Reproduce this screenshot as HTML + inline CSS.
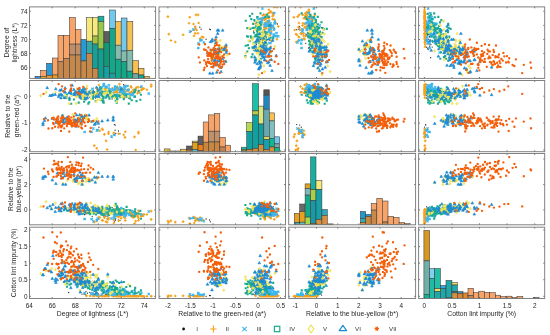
<!DOCTYPE html><html><head><meta charset="utf-8"><style>html,body{margin:0;padding:0;background:#fff;overflow:hidden}svg{display:block}</style></head><body>
<svg width="550" height="335" viewBox="0 0 550 335">
<rect width="550" height="335" fill="#fff"/>
<defs>
<clipPath id="c00"><rect x="29.5" y="6.9" width="126.1" height="71.5"/></clipPath>
<clipPath id="c01"><rect x="159" y="6.9" width="126.5" height="71.5"/></clipPath>
<clipPath id="c02"><rect x="288.7" y="6.9" width="126.9" height="71.5"/></clipPath>
<clipPath id="c03"><rect x="418.6" y="6.9" width="126.1" height="71.5"/></clipPath>
<clipPath id="c10"><rect x="29.5" y="80.5" width="126.1" height="71.2"/></clipPath>
<clipPath id="c11"><rect x="159" y="80.5" width="126.5" height="71.2"/></clipPath>
<clipPath id="c12"><rect x="288.7" y="80.5" width="126.9" height="71.2"/></clipPath>
<clipPath id="c13"><rect x="418.6" y="80.5" width="126.1" height="71.2"/></clipPath>
<clipPath id="c20"><rect x="29.5" y="153.5" width="126.1" height="71.3"/></clipPath>
<clipPath id="c21"><rect x="159" y="153.5" width="126.5" height="71.3"/></clipPath>
<clipPath id="c22"><rect x="288.7" y="153.5" width="126.9" height="71.3"/></clipPath>
<clipPath id="c23"><rect x="418.6" y="153.5" width="126.1" height="71.3"/></clipPath>
<clipPath id="c30"><rect x="29.5" y="227.2" width="126.1" height="71.3"/></clipPath>
<clipPath id="c31"><rect x="159" y="227.2" width="126.5" height="71.3"/></clipPath>
<clipPath id="c32"><rect x="288.7" y="227.2" width="126.9" height="71.3"/></clipPath>
<clipPath id="c33"><rect x="418.6" y="227.2" width="126.1" height="71.3"/></clipPath>
</defs>
<g clip-path="url(#c01)">
<path d="M270.8 34.8h0M260.6 39.5h0M253.5 31.1h0M262.7 34.2h0M262.4 34h0M255.3 41.3h0M259.1 47.2h0M263.7 48.2h0M265.6 42h0M269.1 29.4h0M264.8 28.8h0M258.9 43.3h0M259.5 37h0M265.6 26.4h0M266.7 34.2h0M267.7 39.3h0M258.7 34.2h0M260.6 36.3h0M266.9 47.1h0M268.2 49.5h0M270.3 48h0M254.8 21.1h0M271.7 27.3h0M267.3 43.9h0M265.1 42.4h0M265.6 42.8h0M256.5 44.7h0M255.7 41.4h0M263.8 14.1h0M277.4 24h0M259 31.1h0M269.4 40.1h0M265.2 34.1h0M260.3 33.6h0M267.9 26.4h0M259.5 37.8h0M263 40.2h0M263.1 57.7h0M260 42.1h0M273.4 27.7h0M265.9 36.9h0M264.4 35.1h0M264.2 46.2h0M265.1 31.4h0M262.6 42.8h0M201.1 29.2h0M206.1 39.2h0M195 26.3h0M209.6 29.1h0M210.4 29.7h0M191 31.5h0M195.8 28.9h0M199.8 27.2h0" stroke="#262626" stroke-width="1.3" stroke-linecap="round" fill="none"/>
<path d="M269.6 28.1h2.6M270.9 26.8v2.6M263 27.6h2.6M264.3 26.3v2.6M263.8 17.6h2.6M265.1 16.3v2.6M266.9 13.3h2.6M268.2 12v2.6M275.6 39.1h2.6M276.9 37.8v2.6M259.5 24.3h2.6M260.8 23v2.6M268 21h2.6M269.3 19.7v2.6M266 16.8h2.6M267.3 15.5v2.6M264.2 19.3h2.6M265.5 18v2.6M271.4 13.4h2.6M272.7 12.1v2.6M266.1 16.8h2.6M267.4 15.5v2.6M261.6 15.4h2.6M262.9 14.1v2.6M262 44.5h2.6M263.3 43.2v2.6M272.1 15.1h2.6M273.4 13.8v2.6M268.9 24.2h2.6M270.2 22.9v2.6M262.4 18.3h2.6M263.7 17v2.6M264.9 34h2.6M266.2 32.7v2.6M270.1 30.9h2.6M271.4 29.6v2.6M264.7 25h2.6M266 23.7v2.6M263.6 23.4h2.6M264.9 22.1v2.6M263.9 15.1h2.6M265.2 13.8v2.6M266.6 25.7h2.6M267.9 24.4v2.6M260.9 19.1h2.6M262.2 17.8v2.6M263.3 42.7h2.6M264.6 41.4v2.6M266.9 21.7h2.6M268.2 20.4v2.6M267.4 16.9h2.6M268.7 15.6v2.6M263.2 34.3h2.6M264.5 33v2.6M268.4 27.7h2.6M269.7 26.4v2.6M268 35.9h2.6M269.3 34.6v2.6M258.8 26.5h2.6M260.1 25.2v2.6M261 40h2.6M262.3 38.7v2.6M268.4 35.5h2.6M269.7 34.2v2.6M261 38.8h2.6M262.3 37.5v2.6M263.2 24.4h2.6M264.5 23.1v2.6M262.2 30.1h2.6M263.5 28.8v2.6M267.3 18.1h2.6M268.6 16.8v2.6M273 7.1h2.6M274.3 5.8v2.6M269.8 40.5h2.6M271.1 39.2v2.6M271.1 16.2h2.6M272.4 14.9v2.6M273.1 19.6h2.6M274.4 18.3v2.6M267.6 9.8h2.6M268.9 8.5v2.6M263.5 33.5h2.6M264.8 32.2v2.6M265.6 21.5h2.6M266.9 20.2v2.6M254.4 23.5h2.6M255.7 22.2v2.6M275.8 7.1h2.6M277.1 5.8v2.6M269.5 46.7h2.6M270.8 45.4v2.6M267.8 27.2h2.6M269.1 25.9v2.6M268.4 27.1h2.6M269.7 25.8v2.6M266.6 23.8h2.6M267.9 22.5v2.6M263.8 28.1h2.6M265.1 26.8v2.6M268.6 12.3h2.6M269.9 11v2.6M268 17h2.6M269.3 15.7v2.6M266.2 17.7h2.6M267.5 16.4v2.6M264 18.1h2.6M265.3 16.8v2.6M274.4 23.1h2.6M275.7 21.8v2.6M263 20h2.6M264.3 18.7v2.6M266.5 34.3h2.6M267.8 33v2.6M264.1 29.1h2.6M265.4 27.8v2.6M269.7 11.6h2.6M271 10.3v2.6M271.4 19.3h2.6M272.7 18v2.6M259.7 18.6h2.6M261 17.3v2.6M267.3 26.5h2.6M268.6 25.2v2.6M277 26.5h2.6M278.3 25.2v2.6M264.2 22.8h2.6M265.5 21.5v2.6M269.1 12h2.6M270.4 10.7v2.6M265 28.4h2.6M266.3 27.1v2.6M267.4 34.1h2.6M268.7 32.8v2.6M263 26.1h2.6M264.3 24.8v2.6M272 27.9h2.6M273.3 26.6v2.6M269.5 25.5h2.6M270.8 24.2v2.6M192.7 35.8h2.6M194 34.5v2.6M192.2 24h2.6M193.5 22.7v2.6M200.7 36.8h2.6M202 35.5v2.6M197.3 23h2.6M198.6 21.7v2.6M202.1 37.2h2.6M203.4 35.9v2.6M181.8 34.8h2.6M183.1 33.5v2.6M192.9 30h2.6M194.2 28.7v2.6M194 27.1h2.6M195.3 25.8v2.6M195.4 30h2.6M196.7 28.7v2.6M196.8 14.9h2.6M198.1 13.6v2.6M188.5 17.3h2.6M189.8 16v2.6M187.7 23.2h2.6M189 21.9v2.6M193.9 33.3h2.6M195.2 32v2.6M198.9 38.6h2.6M200.2 37.3v2.6M196.7 33.2h2.6M198 31.9v2.6M194.7 14.9h2.6M196 13.6v2.6M167.5 34.1h2.6M168.8 32.8v2.6M174 42h2.6M175.3 40.7v2.6M169.6 40.5h2.6M170.9 39.2v2.6M166.6 16.6h2.6M167.9 15.3v2.6" stroke="#F7A11A" stroke-width="1.15" fill="none"/>
<path d="M277.2 35.1l2.2 2.2m0-2.2l-2.2 2.2M251.2 36.8l2.2 2.2m0-2.2l-2.2 2.2M270 24.2l2.2 2.2m0-2.2l-2.2 2.2M273.9 20.5l2.2 2.2m0-2.2l-2.2 2.2M256.9 27.2l2.2 2.2m0-2.2l-2.2 2.2M271.8 25l2.2 2.2m0-2.2l-2.2 2.2M260.3 21.9l2.2 2.2m0-2.2l-2.2 2.2M261.6 17l2.2 2.2m0-2.2l-2.2 2.2M273 27.4l2.2 2.2m0-2.2l-2.2 2.2M272.8 34l2.2 2.2m0-2.2l-2.2 2.2M259.9 21.3l2.2 2.2m0-2.2l-2.2 2.2M267.7 28.5l2.2 2.2m0-2.2l-2.2 2.2M267 20.4l2.2 2.2m0-2.2l-2.2 2.2M268.7 32l2.2 2.2m0-2.2l-2.2 2.2M274.3 34.8l2.2 2.2m0-2.2l-2.2 2.2M269.5 41.9l2.2 2.2m0-2.2l-2.2 2.2M256.9 19.2l2.2 2.2m0-2.2l-2.2 2.2M272.6 33.4l2.2 2.2m0-2.2l-2.2 2.2M260.4 19.4l2.2 2.2m0-2.2l-2.2 2.2M268 29.3l2.2 2.2m0-2.2l-2.2 2.2M262.7 29.5l2.2 2.2m0-2.2l-2.2 2.2M271.9 36.2l2.2 2.2m0-2.2l-2.2 2.2M264.7 25l2.2 2.2m0-2.2l-2.2 2.2M273.7 21.8l2.2 2.2m0-2.2l-2.2 2.2M269.5 28l2.2 2.2m0-2.2l-2.2 2.2M256.6 24.2l2.2 2.2m0-2.2l-2.2 2.2M258.1 28.8l2.2 2.2m0-2.2l-2.2 2.2M260 37l2.2 2.2m0-2.2l-2.2 2.2M273.4 22.5l2.2 2.2m0-2.2l-2.2 2.2M260.2 23.1l2.2 2.2m0-2.2l-2.2 2.2M269.4 22.2l2.2 2.2m0-2.2l-2.2 2.2M261.3 7.5l2.2 2.2m0-2.2l-2.2 2.2M256.2 16.4l2.2 2.2m0-2.2l-2.2 2.2M268.3 42l2.2 2.2m0-2.2l-2.2 2.2M266.6 24.7l2.2 2.2m0-2.2l-2.2 2.2M258.7 17.8l2.2 2.2m0-2.2l-2.2 2.2M275.4 32l2.2 2.2m0-2.2l-2.2 2.2M266.3 23l2.2 2.2m0-2.2l-2.2 2.2M267.9 32.2l2.2 2.2m0-2.2l-2.2 2.2M257.8 26.8l2.2 2.2m0-2.2l-2.2 2.2M266.8 32.5l2.2 2.2m0-2.2l-2.2 2.2M275.5 35.2l2.2 2.2m0-2.2l-2.2 2.2M273 28.3l2.2 2.2m0-2.2l-2.2 2.2M269.1 26.2l2.2 2.2m0-2.2l-2.2 2.2M263.8 25l2.2 2.2m0-2.2l-2.2 2.2M265.8 43.1l2.2 2.2m0-2.2l-2.2 2.2M267.8 19.9l2.2 2.2m0-2.2l-2.2 2.2M259 51.4l2.2 2.2m0-2.2l-2.2 2.2M273.1 12l2.2 2.2m0-2.2l-2.2 2.2M271.9 36.2l2.2 2.2m0-2.2l-2.2 2.2M257 27l2.2 2.2m0-2.2l-2.2 2.2M259.5 26.8l2.2 2.2m0-2.2l-2.2 2.2M259 21.8l2.2 2.2m0-2.2l-2.2 2.2M260.7 20.5l2.2 2.2m0-2.2l-2.2 2.2M263.7 22.7l2.2 2.2m0-2.2l-2.2 2.2M264.2 22.6l2.2 2.2m0-2.2l-2.2 2.2M264.9 16l2.2 2.2m0-2.2l-2.2 2.2M264.1 33.8l2.2 2.2m0-2.2l-2.2 2.2M268 30.5l2.2 2.2m0-2.2l-2.2 2.2M263.8 33.5l2.2 2.2m0-2.2l-2.2 2.2M264.9 24.4l2.2 2.2m0-2.2l-2.2 2.2M269.9 32.1l2.2 2.2m0-2.2l-2.2 2.2M199.3 39.3l2.2 2.2m0-2.2l-2.2 2.2M188.9 30.3l2.2 2.2m0-2.2l-2.2 2.2M200.4 38.8l2.2 2.2m0-2.2l-2.2 2.2M192.1 28.5l2.2 2.2m0-2.2l-2.2 2.2M197.2 42.5l2.2 2.2m0-2.2l-2.2 2.2M197.2 46.8l2.2 2.2m0-2.2l-2.2 2.2M202.8 41.5l2.2 2.2m0-2.2l-2.2 2.2" stroke="#3DB6EE" stroke-width="1.15" fill="none"/>
<path d="M257.3 28.9h0M264.9 36.2h0M254.8 28h0M249.7 41.2h0M258.5 37.1h0M266.4 39.9h0M269.1 25.6h0M257.2 31.1h0M263.1 44.5h0M253.8 42.8h0M252.5 47.4h0M259.4 32.5h0M247.3 28.2h0M265.9 40.2h0M248.9 48.2h0M266 37.5h0M258.1 26.2h0M247.1 36.2h0M259.9 33.1h0M253.2 23.9h0M251.3 19.1h0M256.2 26h0M249.9 16.1h0M268.7 16.9h0M245.7 20.8h0M253.9 49.9h0M259.6 34.3h0M265 17.3h0M270.7 37.8h0M261 24.7h0M259.2 27h0M263.7 37.6h0M273.2 38.4h0M258.4 26.8h0M259.9 22.4h0M264.6 33.2h0M247.9 36.6h0M264.4 44.5h0M266.7 32.4h0M257.8 30.2h0M257.6 29.3h0M254.3 20.1h0M260.8 37.2h0M258.2 49h0M252.5 54.4h0M259.9 24.2h0M255.7 60.6h0M250.3 28.9h0M260.3 29.1h0M259 42.4h0M260.1 28.9h0M252.2 13.8h0M253.3 27.8h0M251.6 57.1h0M245.7 45.7h0M253.4 47h0M252.7 28h0M263.3 43.4h0M262.6 32.2h0M250.7 36.4h0M258.4 51.4h0M263.4 31.2h0M257.2 34.5h0M265.6 45.5h0M258 40.9h0M270.7 52.3h0M257.4 17.1h0M255.7 35h0M247.3 51.5h0M260.5 13.4h0M256.2 42.8h0M251.1 37.7h0M257.7 32.9h0M252.2 37.9h0M257.1 31.1h0M245.4 56.1h0M247.9 45.1h0M256.2 58.7h0M257.3 22.2h0M259.7 45.9h0M254.9 36.5h0M267 14.8h0M256.7 48.2h0M259.2 47.5h0M256.9 36.4h0M254 32.7h0M260.9 58.7h0M257.5 36.5h0M247.6 28.1h0M261.9 42h0M265.5 49.1h0M259.4 39.7h0" stroke="#19AA8D" stroke-width="2.1" stroke-linecap="square" fill="none"/>
<path d="M268.9 35l1.1 1.4l-1.1 1.4l-1.1-1.4zM263.5 42.8l1.1 1.4l-1.1 1.4l-1.1-1.4zM258.4 38.8l1.1 1.4l-1.1 1.4l-1.1-1.4zM260.4 50.4l1.1 1.4l-1.1 1.4l-1.1-1.4zM270.2 50.9l1.1 1.4l-1.1 1.4l-1.1-1.4zM254.3 47.8l1.1 1.4l-1.1 1.4l-1.1-1.4zM259.2 46.2l1.1 1.4l-1.1 1.4l-1.1-1.4zM257.8 50.2l1.1 1.4l-1.1 1.4l-1.1-1.4zM259.3 50.6l1.1 1.4l-1.1 1.4l-1.1-1.4zM256.7 51.6l1.1 1.4l-1.1 1.4l-1.1-1.4zM259.5 44.5l1.1 1.4l-1.1 1.4l-1.1-1.4zM262.7 32.8l1.1 1.4l-1.1 1.4l-1.1-1.4zM261.8 44.5l1.1 1.4l-1.1 1.4l-1.1-1.4zM258.9 73.4l1.1 1.4l-1.1 1.4l-1.1-1.4zM274.9 45l1.1 1.4l-1.1 1.4l-1.1-1.4zM252.2 38.4l1.1 1.4l-1.1 1.4l-1.1-1.4zM263.8 42.6l1.1 1.4l-1.1 1.4l-1.1-1.4zM258.8 39.9l1.1 1.4l-1.1 1.4l-1.1-1.4zM249.1 26.8l1.1 1.4l-1.1 1.4l-1.1-1.4zM263.3 44.6l1.1 1.4l-1.1 1.4l-1.1-1.4zM269.5 46.9l1.1 1.4l-1.1 1.4l-1.1-1.4zM257.6 47.6l1.1 1.4l-1.1 1.4l-1.1-1.4zM264.6 39.6l1.1 1.4l-1.1 1.4l-1.1-1.4zM248.9 39.4l1.1 1.4l-1.1 1.4l-1.1-1.4zM255.2 28.2l1.1 1.4l-1.1 1.4l-1.1-1.4zM263.5 32.3l1.1 1.4l-1.1 1.4l-1.1-1.4zM268.5 32.7l1.1 1.4l-1.1 1.4l-1.1-1.4zM245.4 55.9l1.1 1.4l-1.1 1.4l-1.1-1.4zM261 34.7l1.1 1.4l-1.1 1.4l-1.1-1.4zM262.6 48.5l1.1 1.4l-1.1 1.4l-1.1-1.4zM259.4 50.2l1.1 1.4l-1.1 1.4l-1.1-1.4zM253.5 42.6l1.1 1.4l-1.1 1.4l-1.1-1.4zM257.8 19.7l1.1 1.4l-1.1 1.4l-1.1-1.4zM245.9 51.7l1.1 1.4l-1.1 1.4l-1.1-1.4zM260.3 52.7l1.1 1.4l-1.1 1.4l-1.1-1.4zM263.1 34.5l1.1 1.4l-1.1 1.4l-1.1-1.4zM257.6 39.6l1.1 1.4l-1.1 1.4l-1.1-1.4zM252.7 36.8l1.1 1.4l-1.1 1.4l-1.1-1.4zM253.8 47.3l1.1 1.4l-1.1 1.4l-1.1-1.4zM264.6 70.1l1.1 1.4l-1.1 1.4l-1.1-1.4zM260.7 51.7l1.1 1.4l-1.1 1.4l-1.1-1.4zM253.8 45.4l1.1 1.4l-1.1 1.4l-1.1-1.4zM258.1 51.6l1.1 1.4l-1.1 1.4l-1.1-1.4zM264.9 37l1.1 1.4l-1.1 1.4l-1.1-1.4zM263.9 64.5l1.1 1.4l-1.1 1.4l-1.1-1.4zM260 51.2l1.1 1.4l-1.1 1.4l-1.1-1.4zM264.4 42.9l1.1 1.4l-1.1 1.4l-1.1-1.4zM259.4 44.9l1.1 1.4l-1.1 1.4l-1.1-1.4zM255.4 57.1l1.1 1.4l-1.1 1.4l-1.1-1.4zM262.7 50.1l1.1 1.4l-1.1 1.4l-1.1-1.4zM260.4 42.1l1.1 1.4l-1.1 1.4l-1.1-1.4zM259.6 66.7l1.1 1.4l-1.1 1.4l-1.1-1.4zM258.9 54.5l1.1 1.4l-1.1 1.4l-1.1-1.4zM259.3 48l1.1 1.4l-1.1 1.4l-1.1-1.4zM266.7 41.8l1.1 1.4l-1.1 1.4l-1.1-1.4zM257.2 23.9l1.1 1.4l-1.1 1.4l-1.1-1.4zM259.6 58.3l1.1 1.4l-1.1 1.4l-1.1-1.4zM261.8 62l1.1 1.4l-1.1 1.4l-1.1-1.4zM258.6 23.3l1.1 1.4l-1.1 1.4l-1.1-1.4zM261.3 40.2l1.1 1.4l-1.1 1.4l-1.1-1.4zM259.3 30.6l1.1 1.4l-1.1 1.4l-1.1-1.4zM261.1 47.2l1.1 1.4l-1.1 1.4l-1.1-1.4zM262.9 29.6l1.1 1.4l-1.1 1.4l-1.1-1.4zM263.8 33.2l1.1 1.4l-1.1 1.4l-1.1-1.4zM259.4 30.9l1.1 1.4l-1.1 1.4l-1.1-1.4zM215.1 42.4l1.1 1.4l-1.1 1.4l-1.1-1.4zM220.2 44.7l1.1 1.4l-1.1 1.4l-1.1-1.4zM225.9 59.7l1.1 1.4l-1.1 1.4l-1.1-1.4zM219.1 45.7l1.1 1.4l-1.1 1.4l-1.1-1.4zM219.6 44.1l1.1 1.4l-1.1 1.4l-1.1-1.4zM222.9 45.8l1.1 1.4l-1.1 1.4l-1.1-1.4zM220.8 49.5l1.1 1.4l-1.1 1.4l-1.1-1.4zM219.9 53.4l1.1 1.4l-1.1 1.4l-1.1-1.4zM220.5 39l1.1 1.4l-1.1 1.4l-1.1-1.4zM216.4 53.2l1.1 1.4l-1.1 1.4l-1.1-1.4zM217.7 40.4l1.1 1.4l-1.1 1.4l-1.1-1.4zM226.5 46.1l1.1 1.4l-1.1 1.4l-1.1-1.4zM225 44.8l1.1 1.4l-1.1 1.4l-1.1-1.4zM220.9 47.5l1.1 1.4l-1.1 1.4l-1.1-1.4zM227.4 53.7l1.1 1.4l-1.1 1.4l-1.1-1.4zM219.4 47.7l1.1 1.4l-1.1 1.4l-1.1-1.4zM211.3 49.4l1.1 1.4l-1.1 1.4l-1.1-1.4zM220.6 50.3l1.1 1.4l-1.1 1.4l-1.1-1.4zM223.8 49.4l1.1 1.4l-1.1 1.4l-1.1-1.4zM211.6 57.1l1.1 1.4l-1.1 1.4l-1.1-1.4z" stroke="#F0E250" stroke-width="0.7" fill="#F4E66A"/>
<path d="M255.3 44.6l1.35 2.4h-2.7zM254.7 55.6l1.35 2.4h-2.7zM270.2 23.7l1.35 2.4h-2.7zM270.5 46.3l1.35 2.4h-2.7zM265 48.5l1.35 2.4h-2.7zM272 69.2l1.35 2.4h-2.7zM254.4 45.5l1.35 2.4h-2.7zM272.7 39l1.35 2.4h-2.7zM263.8 36.9l1.35 2.4h-2.7zM268.7 60.5l1.35 2.4h-2.7zM270.3 49.4l1.35 2.4h-2.7zM270.1 64l1.35 2.4h-2.7zM254.9 60.8l1.35 2.4h-2.7zM259.1 66.6l1.35 2.4h-2.7zM262.7 52.6l1.35 2.4h-2.7zM257.8 49.1l1.35 2.4h-2.7zM260.9 49.2l1.35 2.4h-2.7zM269.1 47.4l1.35 2.4h-2.7zM260.9 44.5l1.35 2.4h-2.7zM269 54.8l1.35 2.4h-2.7zM260.6 64.3l1.35 2.4h-2.7zM271.4 58.3l1.35 2.4h-2.7zM261.1 50.3l1.35 2.4h-2.7zM276.2 54l1.35 2.4h-2.7zM257.8 38l1.35 2.4h-2.7zM266.6 49.8l1.35 2.4h-2.7zM267.7 61.4l1.35 2.4h-2.7zM264.6 58.3l1.35 2.4h-2.7zM263.5 45.8l1.35 2.4h-2.7zM264.8 41.1l1.35 2.4h-2.7zM257.2 62.3l1.35 2.4h-2.7zM266 46.5l1.35 2.4h-2.7zM269 37.5l1.35 2.4h-2.7zM259.6 32.3l1.35 2.4h-2.7zM259.3 60l1.35 2.4h-2.7zM257.3 37.5l1.35 2.4h-2.7zM265.4 50l1.35 2.4h-2.7zM267.1 48l1.35 2.4h-2.7zM253.5 46.1l1.35 2.4h-2.7zM264.7 58.5l1.35 2.4h-2.7zM260.8 52.4l1.35 2.4h-2.7zM265.1 55.2l1.35 2.4h-2.7zM264.3 52.2l1.35 2.4h-2.7zM263.8 43.3l1.35 2.4h-2.7zM263.5 55.8l1.35 2.4h-2.7zM262.7 45.5l1.35 2.4h-2.7zM260.2 65.8l1.35 2.4h-2.7zM268.9 52.8l1.35 2.4h-2.7zM258.8 67.6l1.35 2.4h-2.7zM262.4 54.5l1.35 2.4h-2.7zM255.7 48.9l1.35 2.4h-2.7zM259.8 61.9l1.35 2.4h-2.7zM262.9 50.6l1.35 2.4h-2.7zM265.3 51.6l1.35 2.4h-2.7zM264.2 48.4l1.35 2.4h-2.7zM265.6 41l1.35 2.4h-2.7zM264.7 47.7l1.35 2.4h-2.7zM258.4 39.2l1.35 2.4h-2.7zM255.2 58.2l1.35 2.4h-2.7zM260.6 52.7l1.35 2.4h-2.7zM261.1 60.7l1.35 2.4h-2.7zM256.7 39.5l1.35 2.4h-2.7zM214.8 57.9l1.35 2.4h-2.7zM217 50.8l1.35 2.4h-2.7zM218.6 28.8l1.35 2.4h-2.7zM215.7 41.7l1.35 2.4h-2.7zM220.2 58.5l1.35 2.4h-2.7zM219.4 59.6l1.35 2.4h-2.7zM219.2 47.4l1.35 2.4h-2.7zM215 38.9l1.35 2.4h-2.7zM226.1 43.5l1.35 2.4h-2.7zM219.4 49.1l1.35 2.4h-2.7zM213.8 63.9l1.35 2.4h-2.7zM212 39.7l1.35 2.4h-2.7zM213.3 52.8l1.35 2.4h-2.7zM215.5 60.3l1.35 2.4h-2.7zM217.3 63l1.35 2.4h-2.7zM217.7 51.9l1.35 2.4h-2.7zM218.7 50.7l1.35 2.4h-2.7zM220.6 66.1l1.35 2.4h-2.7zM212.7 55.2l1.35 2.4h-2.7zM216.1 51.4l1.35 2.4h-2.7zM212.7 71.8l1.35 2.4h-2.7zM212.3 37.9l1.35 2.4h-2.7zM214.7 51.9l1.35 2.4h-2.7zM217.3 59.4l1.35 2.4h-2.7zM216.8 70.8l1.35 2.4h-2.7zM217.7 32.1l1.35 2.4h-2.7zM216.1 35.6l1.35 2.4h-2.7zM209.9 71.8l1.35 2.4h-2.7zM207.5 51.5l1.35 2.4h-2.7zM224.2 47.9l1.35 2.4h-2.7zM226.5 49.3l1.35 2.4h-2.7zM223.7 48l1.35 2.4h-2.7zM221.1 70.2l1.35 2.4h-2.7zM217.8 52.4l1.35 2.4h-2.7zM214.2 59.3l1.35 2.4h-2.7zM212.3 48.5l1.35 2.4h-2.7zM217.5 28.8l1.35 2.4h-2.7zM224.8 46.3l1.35 2.4h-2.7zM222.7 28.8l1.35 2.4h-2.7zM226.3 51.2l1.35 2.4h-2.7zM225.8 60l1.35 2.4h-2.7zM215 48.5l1.35 2.4h-2.7zM222.5 57.1l1.35 2.4h-2.7zM210.5 40.3l1.35 2.4h-2.7zM218.1 47.5l1.35 2.4h-2.7z" stroke="#1E8CD2" stroke-width="0.6" fill="#1E8CD2" stroke-linejoin="round"/>
<path d="M261.6 50.6h0M272 51.1h0M273.8 48.8h0M262.1 73.1h0M266.4 61h0M262.7 51.4h0M270.1 59.9h0M274.7 61.7h0M269 56.3h0M276.3 56.4h0M269.9 52h0M264.6 52.4h0M267.3 56.2h0M271.2 56.1h0M267.6 56.5h0M278.3 63.9h0M219.6 65.3h0M206.1 64h0M220.8 62.5h0M211.4 66.9h0M203.9 70h0M222.5 64.6h0M211.2 56.8h0M216.7 51.8h0M213.4 55.1h0M221.1 59.3h0M221.1 61.2h0M221.2 52h0M218.7 51.2h0M204.5 67.7h0M204 49.5h0M215.6 64.8h0M208.5 55.1h0M217.2 56.9h0M215.4 62.4h0M205.7 49.9h0M208 62.1h0M207.4 55.7h0M208.9 61.8h0M213.1 56.2h0M218.5 56.7h0M222.5 56.1h0M208.4 47.4h0M210.9 55.7h0M223.9 61.1h0M219.8 72.8h0M215.8 57.1h0M199.9 62.4h0M208.1 58.8h0M215.3 63.6h0M210.7 52.6h0M226.5 49.9h0M214.9 45.8h0M216.1 51.4h0M207.6 61.9h0M207.9 53.9h0M210.2 63.3h0M210.5 56.1h0M212.9 54.4h0M216.6 61.9h0M215.8 54.1h0M220.5 58.5h0M206 62.3h0M215.6 48.9h0M215.8 39.5h0M224.1 54.5h0M213 50.1h0M216.3 56.2h0M209.3 55.9h0M216.9 45h0M216.8 62.5h0M210.4 52.7h0M211.6 60.6h0M214.1 52.2h0M217.9 58.3h0M207.2 51.6h0M219.7 64.3h0M212.3 55.1h0M226 46.8h0M223.3 61.6h0M211.8 58.3h0M210.5 49.7h0M229.4 53.7h0M218.2 49.1h0M217.8 70.3h0M211.7 53.9h0M213.5 63.7h0M219.3 65.1h0M218.1 54.6h0M209.2 52.9h0M222 66.8h0M216.2 65.2h0M208.5 62.7h0M220.4 57.5h0M213.2 67.2h0M219.1 45.5h0M210.9 53.8h0M216.5 56.4h0M204.3 60.4h0M216.6 42.7h0M205 44.2h0M215.3 58h0M198.7 57.3h0M213.9 48h0M218.8 66.6h0M217.3 58.6h0M221.7 48.2h0M207.7 61.7h0M224 57.6h0M224.2 64h0M206.9 66h0M209.4 53.9h0M210.8 63.9h0M214.2 64.7h0M215.5 65h0M199.2 44.5h0M218 58.8h0M212.7 63.1h0M208.1 53.1h0M220.1 58.2h0M212.2 57.7h0M221.3 67.8h0M217.6 57.3h0M212.3 59h0" stroke="#F55F0A" stroke-width="2.35" stroke-linecap="round" fill="none"/>
</g>
<g clip-path="url(#c02)">
<path d="M318.1 34.8h0M315.8 39.5h0M320.2 31.1h0M312.3 34.2h0M313.6 34h0M314.1 41.3h0M309.6 47.2h0M317 48.2h0M316.1 42h0M311.3 29.4h0M316.4 28.8h0M305.8 43.3h0M320.6 37h0M315.7 26.4h0M306 34.2h0M311.3 39.3h0M315.8 34.2h0M319 36.3h0M321.4 47.1h0M315.3 49.5h0M308.5 48h0M310.1 21.1h0M319.8 27.3h0M320.9 43.9h0M313 42.4h0M314.6 42.8h0M312.8 44.7h0M320 41.4h0M309.2 14.1h0M308.8 24h0M311.6 31.1h0M314.7 40.1h0M301.8 34.1h0M316.7 33.6h0M317.7 26.4h0M309.6 37.8h0M314 40.2h0M315.8 57.7h0M312.9 42.1h0M321.6 27.7h0M316.6 36.9h0M306.4 35.1h0M312.1 46.2h0M314.9 31.4h0M311.7 42.8h0M298.8 29.2h0M301.3 39.2h0M299.2 26.3h0M299.7 29.1h0M296.7 29.7h0M302.4 31.5h0M301.9 28.9h0M299.8 27.2h0" stroke="#262626" stroke-width="1.3" stroke-linecap="round" fill="none"/>
<path d="M304.6 28.1h2.6M305.9 26.8v2.6M307.3 27.6h2.6M308.6 26.3v2.6M303.4 17.6h2.6M304.7 16.3v2.6M304.1 13.3h2.6M305.4 12v2.6M303.3 39.1h2.6M304.6 37.8v2.6M311.3 24.3h2.6M312.6 23v2.6M312.9 21h2.6M314.2 19.7v2.6M310.2 16.8h2.6M311.5 15.5v2.6M304.9 19.3h2.6M306.2 18v2.6M307.6 13.4h2.6M308.9 12.1v2.6M306.3 16.8h2.6M307.6 15.5v2.6M304.2 15.4h2.6M305.5 14.1v2.6M314.3 44.5h2.6M315.6 43.2v2.6M305.3 15.1h2.6M306.6 13.8v2.6M307.5 24.2h2.6M308.8 22.9v2.6M302.6 18.3h2.6M303.9 17v2.6M315 34h2.6M316.3 32.7v2.6M313.6 30.9h2.6M314.9 29.6v2.6M314.4 25h2.6M315.7 23.7v2.6M312.9 23.4h2.6M314.2 22.1v2.6M313.5 15.1h2.6M314.8 13.8v2.6M305.6 25.7h2.6M306.9 24.4v2.6M310.7 19.1h2.6M312 17.8v2.6M310.7 42.7h2.6M312 41.4v2.6M310.5 21.7h2.6M311.8 20.4v2.6M310.7 16.9h2.6M312 15.6v2.6M315.4 34.3h2.6M316.7 33v2.6M307.3 27.7h2.6M308.6 26.4v2.6M304.2 35.9h2.6M305.5 34.6v2.6M307.5 26.5h2.6M308.8 25.2v2.6M315.1 40h2.6M316.4 38.7v2.6M307.8 35.5h2.6M309.1 34.2v2.6M310.7 38.8h2.6M312 37.5v2.6M313.3 24.4h2.6M314.6 23.1v2.6M308.6 30.1h2.6M309.9 28.8v2.6M306.1 18.1h2.6M307.4 16.8v2.6M299.3 7.1h2.6M300.6 5.8v2.6M310.6 40.5h2.6M311.9 39.2v2.6M309.5 16.2h2.6M310.8 14.9v2.6M310.6 19.6h2.6M311.9 18.3v2.6M307.5 9.8h2.6M308.8 8.5v2.6M299.3 33.5h2.6M300.6 32.2v2.6M313.6 21.5h2.6M314.9 20.2v2.6M308.6 23.5h2.6M309.9 22.2v2.6M313.1 7.1h2.6M314.4 5.8v2.6M310.2 46.7h2.6M311.5 45.4v2.6M303.4 27.2h2.6M304.7 25.9v2.6M310.6 27.1h2.6M311.9 25.8v2.6M312.6 23.8h2.6M313.9 22.5v2.6M315.8 28.1h2.6M317.1 26.8v2.6M305.6 12.3h2.6M306.9 11v2.6M309.7 17h2.6M311 15.7v2.6M312.3 17.7h2.6M313.6 16.4v2.6M310 18.1h2.6M311.3 16.8v2.6M310.8 23.1h2.6M312.1 21.8v2.6M310.8 20h2.6M312.1 18.7v2.6M308.9 34.3h2.6M310.2 33v2.6M316 29.1h2.6M317.3 27.8v2.6M307.9 11.6h2.6M309.2 10.3v2.6M307.4 19.3h2.6M308.7 18v2.6M308 18.6h2.6M309.3 17.3v2.6M306.4 26.5h2.6M307.7 25.2v2.6M305.2 26.5h2.6M306.5 25.2v2.6M306.3 22.8h2.6M307.6 21.5v2.6M305.5 12h2.6M306.8 10.7v2.6M310.4 28.4h2.6M311.7 27.1v2.6M314.8 34.1h2.6M316.1 32.8v2.6M310.2 26.1h2.6M311.5 24.8v2.6M316 27.9h2.6M317.3 26.6v2.6M301.2 25.5h2.6M302.5 24.2v2.6M302.4 35.8h2.6M303.7 34.5v2.6M303.3 24h2.6M304.6 22.7v2.6M297.5 36.8h2.6M298.8 35.5v2.6M297.6 23h2.6M298.9 21.7v2.6M297.9 37.2h2.6M299.2 35.9v2.6M295.6 34.8h2.6M296.9 33.5v2.6M293.4 30h2.6M294.7 28.7v2.6M297.2 27.1h2.6M298.5 25.8v2.6M298.8 30h2.6M300.1 28.7v2.6M297.9 14.9h2.6M299.2 13.6v2.6M292.6 17.3h2.6M293.9 16v2.6M301.6 23.2h2.6M302.9 21.9v2.6M302.3 33.3h2.6M303.6 32v2.6M302.6 38.6h2.6M303.9 37.3v2.6M300 33.2h2.6M301.3 31.9v2.6M301.4 14.9h2.6M302.7 13.6v2.6M294.7 34.1h2.6M296 32.8v2.6M294.9 42h2.6M296.2 40.7v2.6M296.9 40.5h2.6M298.2 39.2v2.6M296.4 16.6h2.6M297.7 15.3v2.6" stroke="#F7A11A" stroke-width="1.15" fill="none"/>
<path d="M313.9 35.1l2.2 2.2m0-2.2l-2.2 2.2M315.6 36.8l2.2 2.2m0-2.2l-2.2 2.2M312 24.2l2.2 2.2m0-2.2l-2.2 2.2M311.9 20.5l2.2 2.2m0-2.2l-2.2 2.2M312.7 27.2l2.2 2.2m0-2.2l-2.2 2.2M307.3 25l2.2 2.2m0-2.2l-2.2 2.2M311 21.9l2.2 2.2m0-2.2l-2.2 2.2M311.8 17l2.2 2.2m0-2.2l-2.2 2.2M311.5 27.4l2.2 2.2m0-2.2l-2.2 2.2M313.5 34l2.2 2.2m0-2.2l-2.2 2.2M306.5 21.3l2.2 2.2m0-2.2l-2.2 2.2M309.3 28.5l2.2 2.2m0-2.2l-2.2 2.2M314.6 20.4l2.2 2.2m0-2.2l-2.2 2.2M311.9 32l2.2 2.2m0-2.2l-2.2 2.2M308.1 34.8l2.2 2.2m0-2.2l-2.2 2.2M317 41.9l2.2 2.2m0-2.2l-2.2 2.2M307.8 19.2l2.2 2.2m0-2.2l-2.2 2.2M311.8 33.4l2.2 2.2m0-2.2l-2.2 2.2M306.9 19.4l2.2 2.2m0-2.2l-2.2 2.2M314.5 29.3l2.2 2.2m0-2.2l-2.2 2.2M310.2 29.5l2.2 2.2m0-2.2l-2.2 2.2M316.4 36.2l2.2 2.2m0-2.2l-2.2 2.2M314.7 25l2.2 2.2m0-2.2l-2.2 2.2M309.1 21.8l2.2 2.2m0-2.2l-2.2 2.2M313.1 28l2.2 2.2m0-2.2l-2.2 2.2M308.2 24.2l2.2 2.2m0-2.2l-2.2 2.2M305.7 28.8l2.2 2.2m0-2.2l-2.2 2.2M314 37l2.2 2.2m0-2.2l-2.2 2.2M310.9 22.5l2.2 2.2m0-2.2l-2.2 2.2M312.6 23.1l2.2 2.2m0-2.2l-2.2 2.2M304.7 22.2l2.2 2.2m0-2.2l-2.2 2.2M312.7 7.5l2.2 2.2m0-2.2l-2.2 2.2M310.9 16.4l2.2 2.2m0-2.2l-2.2 2.2M318.8 42l2.2 2.2m0-2.2l-2.2 2.2M310.7 24.7l2.2 2.2m0-2.2l-2.2 2.2M313.6 17.8l2.2 2.2m0-2.2l-2.2 2.2M317.2 32l2.2 2.2m0-2.2l-2.2 2.2M312.3 23l2.2 2.2m0-2.2l-2.2 2.2M318.2 32.2l2.2 2.2m0-2.2l-2.2 2.2M306.7 26.8l2.2 2.2m0-2.2l-2.2 2.2M307 32.5l2.2 2.2m0-2.2l-2.2 2.2M307.3 35.2l2.2 2.2m0-2.2l-2.2 2.2M306 28.3l2.2 2.2m0-2.2l-2.2 2.2M312.4 26.2l2.2 2.2m0-2.2l-2.2 2.2M312.7 25l2.2 2.2m0-2.2l-2.2 2.2M315.1 43.1l2.2 2.2m0-2.2l-2.2 2.2M314.1 19.9l2.2 2.2m0-2.2l-2.2 2.2M313.5 51.4l2.2 2.2m0-2.2l-2.2 2.2M307.5 12l2.2 2.2m0-2.2l-2.2 2.2M310.4 36.2l2.2 2.2m0-2.2l-2.2 2.2M316.9 27l2.2 2.2m0-2.2l-2.2 2.2M313 26.8l2.2 2.2m0-2.2l-2.2 2.2M314.2 21.8l2.2 2.2m0-2.2l-2.2 2.2M309.9 20.5l2.2 2.2m0-2.2l-2.2 2.2M312.2 22.7l2.2 2.2m0-2.2l-2.2 2.2M308.6 22.6l2.2 2.2m0-2.2l-2.2 2.2M307.9 16l2.2 2.2m0-2.2l-2.2 2.2M317.3 33.8l2.2 2.2m0-2.2l-2.2 2.2M311.9 30.5l2.2 2.2m0-2.2l-2.2 2.2M314.3 33.5l2.2 2.2m0-2.2l-2.2 2.2M318.6 24.4l2.2 2.2m0-2.2l-2.2 2.2M307.3 32.1l2.2 2.2m0-2.2l-2.2 2.2M298.2 39.3l2.2 2.2m0-2.2l-2.2 2.2M301.3 30.3l2.2 2.2m0-2.2l-2.2 2.2M300.9 38.8l2.2 2.2m0-2.2l-2.2 2.2M301.7 28.5l2.2 2.2m0-2.2l-2.2 2.2M300.1 42.5l2.2 2.2m0-2.2l-2.2 2.2M300.4 46.8l2.2 2.2m0-2.2l-2.2 2.2M296.3 41.5l2.2 2.2m0-2.2l-2.2 2.2" stroke="#3DB6EE" stroke-width="1.15" fill="none"/>
<path d="M310.4 28.9h0M310.6 36.2h0M322.5 28h0M317.4 41.2h0M321.6 37.1h0M314 39.9h0M314.7 25.6h0M312.7 31.1h0M310.1 44.5h0M317.9 42.8h0M314.4 47.4h0M312.6 32.5h0M319 28.2h0M315.3 40.2h0M317.4 48.2h0M308.7 37.5h0M315.6 26.2h0M307.8 36.2h0M308.1 33.1h0M312 23.9h0M306.9 19.1h0M311.3 26h0M310.3 16.1h0M317.7 16.9h0M312.9 20.8h0M314.2 49.9h0M312.1 34.3h0M305.6 17.3h0M315.8 37.8h0M315.1 24.7h0M309.8 27h0M317.8 37.6h0M317.4 38.4h0M317.4 26.8h0M315.9 22.4h0M310.2 33.2h0M310.6 36.6h0M309.4 44.5h0M318.4 32.4h0M317.5 30.2h0M314.8 29.3h0M315.9 20.1h0M317.9 37.2h0M310.2 49h0M316.9 54.4h0M318 24.2h0M315.8 60.6h0M326.8 28.9h0M323.8 29.1h0M310.2 42.4h0M313.8 28.9h0M314.8 13.8h0M313.4 27.8h0M315.9 57.1h0M310.8 45.7h0M319.5 47h0M314.4 28h0M313.9 43.4h0M320 32.2h0M314.9 36.4h0M318.7 51.4h0M315.5 31.2h0M320.5 34.5h0M314.6 45.5h0M309 40.9h0M314.3 52.3h0M313.8 17.1h0M316.7 35h0M312 51.5h0M301.7 13.4h0M312.8 42.8h0M311.4 37.7h0M322.5 32.9h0M314 37.9h0M316 31.1h0M324.7 56.1h0M312.1 45.1h0M317.9 58.7h0M321.5 22.2h0M319.7 45.9h0M312.6 36.5h0M310.5 14.8h0M317.6 48.2h0M314.6 47.5h0M316.9 36.4h0M315.6 32.7h0M315.1 58.7h0M315.2 36.5h0M318.3 28.1h0M316.9 42h0M321 49.1h0M312 39.7h0" stroke="#19AA8D" stroke-width="2.1" stroke-linecap="square" fill="none"/>
<path d="M313.3 35l1.1 1.4l-1.1 1.4l-1.1-1.4zM328.1 42.8l1.1 1.4l-1.1 1.4l-1.1-1.4zM318.3 38.8l1.1 1.4l-1.1 1.4l-1.1-1.4zM316.6 50.4l1.1 1.4l-1.1 1.4l-1.1-1.4zM322.6 50.9l1.1 1.4l-1.1 1.4l-1.1-1.4zM317.1 47.8l1.1 1.4l-1.1 1.4l-1.1-1.4zM322.4 46.2l1.1 1.4l-1.1 1.4l-1.1-1.4zM315.4 50.2l1.1 1.4l-1.1 1.4l-1.1-1.4zM320.7 50.6l1.1 1.4l-1.1 1.4l-1.1-1.4zM319.3 51.6l1.1 1.4l-1.1 1.4l-1.1-1.4zM315.3 44.5l1.1 1.4l-1.1 1.4l-1.1-1.4zM316.9 32.8l1.1 1.4l-1.1 1.4l-1.1-1.4zM322.2 44.5l1.1 1.4l-1.1 1.4l-1.1-1.4zM322 73.4l1.1 1.4l-1.1 1.4l-1.1-1.4zM326.5 45l1.1 1.4l-1.1 1.4l-1.1-1.4zM322.6 38.4l1.1 1.4l-1.1 1.4l-1.1-1.4zM318.5 42.6l1.1 1.4l-1.1 1.4l-1.1-1.4zM317.8 39.9l1.1 1.4l-1.1 1.4l-1.1-1.4zM313.1 26.8l1.1 1.4l-1.1 1.4l-1.1-1.4zM317.6 44.6l1.1 1.4l-1.1 1.4l-1.1-1.4zM315 46.9l1.1 1.4l-1.1 1.4l-1.1-1.4zM316.7 47.6l1.1 1.4l-1.1 1.4l-1.1-1.4zM312.6 39.6l1.1 1.4l-1.1 1.4l-1.1-1.4zM315.3 39.4l1.1 1.4l-1.1 1.4l-1.1-1.4zM323.7 28.2l1.1 1.4l-1.1 1.4l-1.1-1.4zM321.3 32.3l1.1 1.4l-1.1 1.4l-1.1-1.4zM324.3 32.7l1.1 1.4l-1.1 1.4l-1.1-1.4zM317.8 55.9l1.1 1.4l-1.1 1.4l-1.1-1.4zM315 34.7l1.1 1.4l-1.1 1.4l-1.1-1.4zM312 48.5l1.1 1.4l-1.1 1.4l-1.1-1.4zM314.4 50.2l1.1 1.4l-1.1 1.4l-1.1-1.4zM314.5 42.6l1.1 1.4l-1.1 1.4l-1.1-1.4zM313.9 19.7l1.1 1.4l-1.1 1.4l-1.1-1.4zM317.3 51.7l1.1 1.4l-1.1 1.4l-1.1-1.4zM312.6 52.7l1.1 1.4l-1.1 1.4l-1.1-1.4zM318.1 34.5l1.1 1.4l-1.1 1.4l-1.1-1.4zM320.7 39.6l1.1 1.4l-1.1 1.4l-1.1-1.4zM317.9 36.8l1.1 1.4l-1.1 1.4l-1.1-1.4zM320.9 47.3l1.1 1.4l-1.1 1.4l-1.1-1.4zM330.1 70.1l1.1 1.4l-1.1 1.4l-1.1-1.4zM321.7 51.7l1.1 1.4l-1.1 1.4l-1.1-1.4zM322.1 45.4l1.1 1.4l-1.1 1.4l-1.1-1.4zM318.8 51.6l1.1 1.4l-1.1 1.4l-1.1-1.4zM319.7 37l1.1 1.4l-1.1 1.4l-1.1-1.4zM327.7 64.5l1.1 1.4l-1.1 1.4l-1.1-1.4zM326.7 51.2l1.1 1.4l-1.1 1.4l-1.1-1.4zM315.7 42.9l1.1 1.4l-1.1 1.4l-1.1-1.4zM316.2 44.9l1.1 1.4l-1.1 1.4l-1.1-1.4zM318.9 57.1l1.1 1.4l-1.1 1.4l-1.1-1.4zM322.3 50.1l1.1 1.4l-1.1 1.4l-1.1-1.4zM314.4 42.1l1.1 1.4l-1.1 1.4l-1.1-1.4zM318.6 66.7l1.1 1.4l-1.1 1.4l-1.1-1.4zM319.9 54.5l1.1 1.4l-1.1 1.4l-1.1-1.4zM314.2 48l1.1 1.4l-1.1 1.4l-1.1-1.4zM311.7 41.8l1.1 1.4l-1.1 1.4l-1.1-1.4zM315.1 23.9l1.1 1.4l-1.1 1.4l-1.1-1.4zM321.6 58.3l1.1 1.4l-1.1 1.4l-1.1-1.4zM320.1 62l1.1 1.4l-1.1 1.4l-1.1-1.4zM315.6 23.3l1.1 1.4l-1.1 1.4l-1.1-1.4zM324.4 40.2l1.1 1.4l-1.1 1.4l-1.1-1.4zM309.7 30.6l1.1 1.4l-1.1 1.4l-1.1-1.4zM314.6 47.2l1.1 1.4l-1.1 1.4l-1.1-1.4zM310.8 29.6l1.1 1.4l-1.1 1.4l-1.1-1.4zM316.3 33.2l1.1 1.4l-1.1 1.4l-1.1-1.4zM311.3 30.9l1.1 1.4l-1.1 1.4l-1.1-1.4zM365.1 42.4l1.1 1.4l-1.1 1.4l-1.1-1.4zM365.4 44.7l1.1 1.4l-1.1 1.4l-1.1-1.4zM360.5 59.7l1.1 1.4l-1.1 1.4l-1.1-1.4zM363.9 45.7l1.1 1.4l-1.1 1.4l-1.1-1.4zM369.2 44.1l1.1 1.4l-1.1 1.4l-1.1-1.4zM369.7 45.8l1.1 1.4l-1.1 1.4l-1.1-1.4zM370.4 49.5l1.1 1.4l-1.1 1.4l-1.1-1.4zM366.5 53.4l1.1 1.4l-1.1 1.4l-1.1-1.4zM368.1 39l1.1 1.4l-1.1 1.4l-1.1-1.4zM364.3 53.2l1.1 1.4l-1.1 1.4l-1.1-1.4zM371.6 40.4l1.1 1.4l-1.1 1.4l-1.1-1.4zM368.8 46.1l1.1 1.4l-1.1 1.4l-1.1-1.4zM366.6 44.8l1.1 1.4l-1.1 1.4l-1.1-1.4zM358.8 47.5l1.1 1.4l-1.1 1.4l-1.1-1.4zM364.5 53.7l1.1 1.4l-1.1 1.4l-1.1-1.4zM363.9 47.7l1.1 1.4l-1.1 1.4l-1.1-1.4zM371.3 49.4l1.1 1.4l-1.1 1.4l-1.1-1.4zM360 50.3l1.1 1.4l-1.1 1.4l-1.1-1.4zM361.8 49.4l1.1 1.4l-1.1 1.4l-1.1-1.4zM365.6 57.1l1.1 1.4l-1.1 1.4l-1.1-1.4z" stroke="#F0E250" stroke-width="0.7" fill="#F4E66A"/>
<path d="M316.9 44.6l1.35 2.4h-2.7zM325.3 55.6l1.35 2.4h-2.7zM309.1 23.7l1.35 2.4h-2.7zM322.7 46.3l1.35 2.4h-2.7zM310.1 48.5l1.35 2.4h-2.7zM319.6 69.2l1.35 2.4h-2.7zM326.2 45.5l1.35 2.4h-2.7zM314.2 39l1.35 2.4h-2.7zM311.7 36.9l1.35 2.4h-2.7zM319.2 60.5l1.35 2.4h-2.7zM327.6 49.4l1.35 2.4h-2.7zM320.1 64l1.35 2.4h-2.7zM314.4 60.8l1.35 2.4h-2.7zM317.9 66.6l1.35 2.4h-2.7zM323.9 52.6l1.35 2.4h-2.7zM320.7 49.1l1.35 2.4h-2.7zM314.1 49.2l1.35 2.4h-2.7zM320.3 47.4l1.35 2.4h-2.7zM319.9 44.5l1.35 2.4h-2.7zM318.4 54.8l1.35 2.4h-2.7zM313.4 64.3l1.35 2.4h-2.7zM320.4 58.3l1.35 2.4h-2.7zM313.9 50.3l1.35 2.4h-2.7zM326.6 54l1.35 2.4h-2.7zM319.3 38l1.35 2.4h-2.7zM309.2 49.8l1.35 2.4h-2.7zM317.6 61.4l1.35 2.4h-2.7zM318.1 58.3l1.35 2.4h-2.7zM320.9 45.8l1.35 2.4h-2.7zM321.4 41.1l1.35 2.4h-2.7zM320.8 62.3l1.35 2.4h-2.7zM315.7 46.5l1.35 2.4h-2.7zM318 37.5l1.35 2.4h-2.7zM318.3 32.3l1.35 2.4h-2.7zM327.4 60l1.35 2.4h-2.7zM313.4 37.5l1.35 2.4h-2.7zM320.5 50l1.35 2.4h-2.7zM326.1 48l1.35 2.4h-2.7zM312.2 46.1l1.35 2.4h-2.7zM322.5 58.5l1.35 2.4h-2.7zM318.5 52.4l1.35 2.4h-2.7zM322.1 55.2l1.35 2.4h-2.7zM326.3 52.2l1.35 2.4h-2.7zM316.2 43.3l1.35 2.4h-2.7zM315.6 55.8l1.35 2.4h-2.7zM324.3 45.5l1.35 2.4h-2.7zM325.2 65.8l1.35 2.4h-2.7zM321.8 52.8l1.35 2.4h-2.7zM322.5 67.6l1.35 2.4h-2.7zM317.1 54.5l1.35 2.4h-2.7zM315 48.9l1.35 2.4h-2.7zM315.1 61.9l1.35 2.4h-2.7zM313.2 50.6l1.35 2.4h-2.7zM317.7 51.6l1.35 2.4h-2.7zM324.7 48.4l1.35 2.4h-2.7zM315.4 41l1.35 2.4h-2.7zM319.1 47.7l1.35 2.4h-2.7zM316.2 39.2l1.35 2.4h-2.7zM318.8 58.2l1.35 2.4h-2.7zM320.3 52.7l1.35 2.4h-2.7zM326.4 60.7l1.35 2.4h-2.7zM318.6 39.5l1.35 2.4h-2.7zM358.9 57.9l1.35 2.4h-2.7zM369.2 50.8l1.35 2.4h-2.7zM371.7 28.8l1.35 2.4h-2.7zM366.3 41.7l1.35 2.4h-2.7zM372.8 58.5l1.35 2.4h-2.7zM358.9 59.6l1.35 2.4h-2.7zM373.5 47.4l1.35 2.4h-2.7zM370.5 38.9l1.35 2.4h-2.7zM364.4 43.5l1.35 2.4h-2.7zM379 49.1l1.35 2.4h-2.7zM360 63.9l1.35 2.4h-2.7zM362.4 39.7l1.35 2.4h-2.7zM375.5 52.8l1.35 2.4h-2.7zM370 60.3l1.35 2.4h-2.7zM377.5 63l1.35 2.4h-2.7zM364.3 51.9l1.35 2.4h-2.7zM373.4 50.7l1.35 2.4h-2.7zM366.1 66.1l1.35 2.4h-2.7zM373.3 55.2l1.35 2.4h-2.7zM369.1 51.4l1.35 2.4h-2.7zM368.7 71.8l1.35 2.4h-2.7zM378.3 37.9l1.35 2.4h-2.7zM368.1 51.9l1.35 2.4h-2.7zM377.1 59.4l1.35 2.4h-2.7zM371.6 70.8l1.35 2.4h-2.7zM372.1 32.1l1.35 2.4h-2.7zM372.1 35.6l1.35 2.4h-2.7zM371.2 71.8l1.35 2.4h-2.7zM363.7 51.5l1.35 2.4h-2.7zM358.9 47.9l1.35 2.4h-2.7zM370.2 49.3l1.35 2.4h-2.7zM370.2 48l1.35 2.4h-2.7zM372.2 70.2l1.35 2.4h-2.7zM367.3 52.4l1.35 2.4h-2.7zM379 59.3l1.35 2.4h-2.7zM373.5 48.5l1.35 2.4h-2.7zM372 28.8l1.35 2.4h-2.7zM370.7 46.3l1.35 2.4h-2.7zM367.3 28.8l1.35 2.4h-2.7zM365.7 51.2l1.35 2.4h-2.7zM369.9 60l1.35 2.4h-2.7zM374.2 48.5l1.35 2.4h-2.7zM379 57.1l1.35 2.4h-2.7zM370.7 40.3l1.35 2.4h-2.7zM365.3 47.5l1.35 2.4h-2.7z" stroke="#1E8CD2" stroke-width="0.6" fill="#1E8CD2" stroke-linejoin="round"/>
<path d="M328.3 50.6h0M315.1 51.1h0M315.2 48.8h0M322.3 73.1h0M322 61h0M327.1 51.4h0M329 59.9h0M326.5 61.7h0M326.2 56.3h0M313.3 56.4h0M320.4 52h0M325.5 52.4h0M325.6 56.2h0M315.6 56.1h0M322.1 56.5h0M318 63.9h0M393.8 65.3h0M390.4 64h0M383.9 62.5h0M371.4 66.9h0M376.2 70h0M385 64.6h0M382.1 56.8h0M395.4 51.8h0M385.8 55.1h0M387.9 59.3h0M382.5 61.2h0M374.1 52h0M382.2 51.2h0M382.7 67.7h0M365.2 49.5h0M372.8 64.8h0M387.5 55.1h0M380.4 56.9h0M378 62.4h0M371.7 49.9h0M377.4 62.1h0M386.8 55.7h0M384.6 61.8h0M379.7 56.2h0M396.6 56.7h0M380.9 56.1h0M378.3 47.4h0M391.8 55.7h0M369.7 61.1h0M385.3 72.8h0M371.7 57.1h0M379.1 62.4h0M373.5 58.8h0M384.5 63.6h0M382.3 52.6h0M383.9 49.9h0M384 45.8h0M394.7 51.4h0M396.5 61.9h0M386.5 53.9h0M386.7 63.3h0M382.2 56.1h0M372.9 54.4h0M388.1 61.9h0M379.3 54.1h0M389.2 58.5h0M368.7 62.3h0M403.7 48.9h0M370.7 39.5h0M384.7 54.5h0M389.8 50.1h0M371.1 56.2h0M374.9 55.9h0M366.8 45h0M373.6 62.5h0M365.2 52.7h0M385.7 60.6h0M383.5 52.2h0M380.6 58.3h0M390.8 51.6h0M393.2 64.3h0M379.9 55.1h0M378.7 46.8h0M378.5 61.6h0M376.1 58.3h0M393.7 49.7h0M383.3 53.7h0M378.2 49.1h0M380.3 70.3h0M384.6 53.9h0M378.1 63.7h0M384.6 65.1h0M382 54.6h0M395.9 52.9h0M392.4 66.8h0M372.2 65.2h0M382.9 62.7h0M387.8 57.5h0M380.6 67.2h0M390.6 45.5h0M385.2 53.8h0M384.5 56.4h0M381.9 60.4h0M384.3 42.7h0M387 44.2h0M368.5 58h0M376.9 57.3h0M372.6 48h0M398 66.6h0M382.9 58.6h0M384.6 48.2h0M384.1 61.7h0M376.2 57.6h0M375.2 64h0M393.1 66h0M380 53.9h0M396.8 63.9h0M383.6 64.7h0M386.7 65h0M378.8 44.5h0M384.1 58.8h0M384.9 63.1h0M391.8 53.1h0M404.5 58.2h0M374.1 57.7h0M384.1 67.8h0M389.7 57.3h0M375.5 59h0" stroke="#F55F0A" stroke-width="2.35" stroke-linecap="round" fill="none"/>
</g>
<g clip-path="url(#c03)">
<path d="M427.1 34.8h0M428.1 39.5h0M428 31.1h0M429.3 34.2h0M429.8 34h0M426.8 41.3h0M426.5 47.2h0M427.7 48.2h0M427.6 42h0M426.5 29.4h0M426.7 28.8h0M428.5 43.3h0M430.1 37h0M426.8 26.4h0M429 34.2h0M428.2 39.3h0M428 34.2h0M429.6 36.3h0M432.2 47.1h0M428.1 49.5h0M429.5 48h0M426.7 21.1h0M427.8 27.3h0M429.2 43.9h0M427.8 42.4h0M428.1 42.8h0M430.9 44.7h0M429.4 41.4h0M427 14.1h0M426.8 24h0M427.5 31.1h0M430.3 40.1h0M427 34.1h0M429.5 33.6h0M428 26.4h0M426.3 37.8h0M427.5 40.2h0M430.7 57.7h0M432.7 42.1h0M426.5 27.7h0M429.5 36.9h0M427.9 35.1h0M429.6 46.2h0M428.5 31.4h0M429.1 42.8h0M425.5 29.2h0M424.5 39.2h0M424.7 26.3h0M425.7 29.1h0M425.6 29.7h0M425.6 31.5h0M424.7 28.9h0M425 27.2h0" stroke="#262626" stroke-width="1.3" stroke-linecap="round" fill="none"/>
<path d="M423.7 28.1h2.6M425 26.8v2.6M423.2 27.6h2.6M424.5 26.3v2.6M423.2 17.6h2.6M424.5 16.3v2.6M423.4 13.3h2.6M424.7 12v2.6M423.6 39.1h2.6M424.9 37.8v2.6M423.8 24.3h2.6M425.1 23v2.6M423.5 21h2.6M424.8 19.7v2.6M423.1 16.8h2.6M424.4 15.5v2.6M423.6 19.3h2.6M424.9 18v2.6M423.7 13.4h2.6M425 12.1v2.6M423.5 16.8h2.6M424.8 15.5v2.6M423.3 15.4h2.6M424.6 14.1v2.6M424 44.5h2.6M425.3 43.2v2.6M423.4 15.1h2.6M424.7 13.8v2.6M423.5 24.2h2.6M424.8 22.9v2.6M423.4 18.3h2.6M424.7 17v2.6M424 34h2.6M425.3 32.7v2.6M423.7 30.9h2.6M425 29.6v2.6M424.1 25h2.6M425.4 23.7v2.6M423.8 23.4h2.6M425.1 22.1v2.6M423.2 15.1h2.6M424.5 13.8v2.6M423.8 25.7h2.6M425.1 24.4v2.6M423.3 19.1h2.6M424.6 17.8v2.6M423.6 42.7h2.6M424.9 41.4v2.6M423.4 21.7h2.6M424.7 20.4v2.6M423.6 16.9h2.6M424.9 15.6v2.6M423.5 34.3h2.6M424.8 33v2.6M423.5 27.7h2.6M424.8 26.4v2.6M423.9 35.9h2.6M425.2 34.6v2.6M423.3 26.5h2.6M424.6 25.2v2.6M424.6 40h2.6M425.9 38.7v2.6M423.5 35.5h2.6M424.8 34.2v2.6M423.4 38.8h2.6M424.7 37.5v2.6M424.4 24.4h2.6M425.7 23.1v2.6M423.4 30.1h2.6M424.7 28.8v2.6M423.5 18.1h2.6M424.8 16.8v2.6M423.4 7.1h2.6M424.7 5.8v2.6M424.1 40.5h2.6M425.4 39.2v2.6M423.4 16.2h2.6M424.7 14.9v2.6M423.3 19.6h2.6M424.6 18.3v2.6M423.2 9.8h2.6M424.5 8.5v2.6M423.8 33.5h2.6M425.1 32.2v2.6M423.6 21.5h2.6M424.9 20.2v2.6M423.6 23.5h2.6M424.9 22.2v2.6M423.2 7.1h2.6M424.5 5.8v2.6M423.7 46.7h2.6M425 45.4v2.6M423.6 27.2h2.6M424.9 25.9v2.6M423.4 27.1h2.6M424.7 25.8v2.6M423.6 23.8h2.6M424.9 22.5v2.6M423.4 28.1h2.6M424.7 26.8v2.6M423.2 12.3h2.6M424.5 11v2.6M423.2 17h2.6M424.5 15.7v2.6M423.6 17.7h2.6M424.9 16.4v2.6M423.3 18.1h2.6M424.6 16.8v2.6M423.6 23.1h2.6M424.9 21.8v2.6M423.4 20h2.6M424.7 18.7v2.6M423.7 34.3h2.6M425 33v2.6M423.8 29.1h2.6M425.1 27.8v2.6M423.3 11.6h2.6M424.6 10.3v2.6M423.3 19.3h2.6M424.6 18v2.6M423.2 18.6h2.6M424.5 17.3v2.6M423.3 26.5h2.6M424.6 25.2v2.6M424 26.5h2.6M425.3 25.2v2.6M423.2 22.8h2.6M424.5 21.5v2.6M423.3 12h2.6M424.6 10.7v2.6M423.3 28.4h2.6M424.6 27.1v2.6M423.9 34.1h2.6M425.2 32.8v2.6M423.3 26.1h2.6M424.6 24.8v2.6M423.5 27.9h2.6M424.8 26.6v2.6M423.4 25.5h2.6M424.7 24.2v2.6M423.4 35.8h2.6M424.7 34.5v2.6M423.5 24h2.6M424.8 22.7v2.6M423.6 36.8h2.6M424.9 35.5v2.6M423.1 23h2.6M424.4 21.7v2.6M423.5 37.2h2.6M424.8 35.9v2.6M423.9 34.8h2.6M425.2 33.5v2.6M423.2 30h2.6M424.5 28.7v2.6M423.2 27.1h2.6M424.5 25.8v2.6M423.4 30h2.6M424.7 28.7v2.6M423.2 14.9h2.6M424.5 13.6v2.6M423.1 17.3h2.6M424.4 16v2.6M423.4 23.2h2.6M424.7 21.9v2.6M423.1 33.3h2.6M424.4 32v2.6M423.7 38.6h2.6M425 37.3v2.6M423.8 33.2h2.6M425.1 31.9v2.6M423.3 14.9h2.6M424.6 13.6v2.6M423.7 34.1h2.6M425 32.8v2.6M423.5 42h2.6M424.8 40.7v2.6M424 40.5h2.6M425.3 39.2v2.6M423.4 16.6h2.6M424.7 15.3v2.6" stroke="#F7A11A" stroke-width="1.15" fill="none"/>
<path d="M430.9 35.1l2.2 2.2m0-2.2l-2.2 2.2M435.9 36.8l2.2 2.2m0-2.2l-2.2 2.2M426.2 24.2l2.2 2.2m0-2.2l-2.2 2.2M430.3 20.5l2.2 2.2m0-2.2l-2.2 2.2M434 27.2l2.2 2.2m0-2.2l-2.2 2.2M428 25l2.2 2.2m0-2.2l-2.2 2.2M426.6 21.9l2.2 2.2m0-2.2l-2.2 2.2M428.5 17l2.2 2.2m0-2.2l-2.2 2.2M429.2 27.4l2.2 2.2m0-2.2l-2.2 2.2M429.4 34l2.2 2.2m0-2.2l-2.2 2.2M427.7 21.3l2.2 2.2m0-2.2l-2.2 2.2M432.9 28.5l2.2 2.2m0-2.2l-2.2 2.2M429.5 20.4l2.2 2.2m0-2.2l-2.2 2.2M433.1 32l2.2 2.2m0-2.2l-2.2 2.2M429.9 34.8l2.2 2.2m0-2.2l-2.2 2.2M434 41.9l2.2 2.2m0-2.2l-2.2 2.2M428.9 19.2l2.2 2.2m0-2.2l-2.2 2.2M430.4 33.4l2.2 2.2m0-2.2l-2.2 2.2M427.6 19.4l2.2 2.2m0-2.2l-2.2 2.2M434 29.3l2.2 2.2m0-2.2l-2.2 2.2M426 29.5l2.2 2.2m0-2.2l-2.2 2.2M434 36.2l2.2 2.2m0-2.2l-2.2 2.2M429.2 25l2.2 2.2m0-2.2l-2.2 2.2M428.4 21.8l2.2 2.2m0-2.2l-2.2 2.2M431 28l2.2 2.2m0-2.2l-2.2 2.2M431 24.2l2.2 2.2m0-2.2l-2.2 2.2M427.4 28.8l2.2 2.2m0-2.2l-2.2 2.2M436.1 37l2.2 2.2m0-2.2l-2.2 2.2M426.8 22.5l2.2 2.2m0-2.2l-2.2 2.2M426.7 23.1l2.2 2.2m0-2.2l-2.2 2.2M433.1 22.2l2.2 2.2m0-2.2l-2.2 2.2M427 7.5l2.2 2.2m0-2.2l-2.2 2.2M427 16.4l2.2 2.2m0-2.2l-2.2 2.2M428.5 42l2.2 2.2m0-2.2l-2.2 2.2M432.5 24.7l2.2 2.2m0-2.2l-2.2 2.2M431.6 17.8l2.2 2.2m0-2.2l-2.2 2.2M427.3 32l2.2 2.2m0-2.2l-2.2 2.2M435.4 23l2.2 2.2m0-2.2l-2.2 2.2M434.7 32.2l2.2 2.2m0-2.2l-2.2 2.2M434.2 26.8l2.2 2.2m0-2.2l-2.2 2.2M429.9 32.5l2.2 2.2m0-2.2l-2.2 2.2M430.1 35.2l2.2 2.2m0-2.2l-2.2 2.2M430.4 28.3l2.2 2.2m0-2.2l-2.2 2.2M428.9 26.2l2.2 2.2m0-2.2l-2.2 2.2M430.1 25l2.2 2.2m0-2.2l-2.2 2.2M438 43.1l2.2 2.2m0-2.2l-2.2 2.2M428 19.9l2.2 2.2m0-2.2l-2.2 2.2M438.5 51.4l2.2 2.2m0-2.2l-2.2 2.2M429.2 12l2.2 2.2m0-2.2l-2.2 2.2M426.2 36.2l2.2 2.2m0-2.2l-2.2 2.2M435.3 27l2.2 2.2m0-2.2l-2.2 2.2M426.8 26.8l2.2 2.2m0-2.2l-2.2 2.2M430.8 21.8l2.2 2.2m0-2.2l-2.2 2.2M427.4 20.5l2.2 2.2m0-2.2l-2.2 2.2M426.3 22.7l2.2 2.2m0-2.2l-2.2 2.2M435.1 22.6l2.2 2.2m0-2.2l-2.2 2.2M430.5 16l2.2 2.2m0-2.2l-2.2 2.2M431.8 33.8l2.2 2.2m0-2.2l-2.2 2.2M433.3 30.5l2.2 2.2m0-2.2l-2.2 2.2M438.5 33.5l2.2 2.2m0-2.2l-2.2 2.2M430.5 24.4l2.2 2.2m0-2.2l-2.2 2.2M428.8 32.1l2.2 2.2m0-2.2l-2.2 2.2M425.8 39.3l2.2 2.2m0-2.2l-2.2 2.2M426.7 30.3l2.2 2.2m0-2.2l-2.2 2.2M425.4 38.8l2.2 2.2m0-2.2l-2.2 2.2M425.6 28.5l2.2 2.2m0-2.2l-2.2 2.2M427.3 42.5l2.2 2.2m0-2.2l-2.2 2.2M428.5 46.8l2.2 2.2m0-2.2l-2.2 2.2M426.5 41.5l2.2 2.2m0-2.2l-2.2 2.2" stroke="#3DB6EE" stroke-width="1.15" fill="none"/>
<path d="M435.3 28.9h0M435.2 36.2h0M448.7 28h0M444.1 41.2h0M449.3 37.1h0M435.2 39.9h0M427.9 25.6h0M435.6 31.1h0M436.6 44.5h0M442 42.8h0M446.2 47.4h0M437.4 32.5h0M433.6 28.2h0M439.6 40.2h0M447.9 48.2h0M434 37.5h0M434 26.2h0M431.6 36.2h0M429.3 33.1h0M448.2 23.9h0M432.1 19.1h0M439.1 26h0M429.4 16.1h0M438.3 16.9h0M429.7 20.8h0M443.4 49.9h0M444.1 34.3h0M434.8 17.3h0M437.9 37.8h0M435.6 24.7h0M431.3 27h0M442.8 37.6h0M446.8 38.4h0M446.8 26.8h0M439.9 22.4h0M427.3 33.2h0M439.4 36.6h0M441.2 44.5h0M441 32.4h0M434.6 30.2h0M437.5 29.3h0M441.3 20.1h0M446.4 37.2h0M441 49h0M449.4 54.4h0M432.6 24.2h0M448.2 60.6h0M450.6 28.9h0M440 29.1h0M442.8 42.4h0M431.8 28.9h0M428 13.8h0M434.7 27.8h0M443.9 57.1h0M437.9 45.7h0M446.3 47h0M438 28h0M435.9 43.4h0M448 32.2h0M446.6 36.4h0M449.7 51.4h0M446 31.2h0M442.9 34.5h0M443.6 45.5h0M432.4 40.9h0M441.1 52.3h0M429.6 17.1h0M440.7 35h0M444.6 51.5h0M434.2 13.4h0M441.9 42.8h0M440.4 37.7h0M437.4 32.9h0M443.1 37.9h0M439.7 31.1h0M445.2 56.1h0M449 45.1h0M440.3 58.7h0M431.9 22.2h0M438.9 45.9h0M449.3 36.5h0M431 14.8h0M442.9 48.2h0M439.9 47.5h0M440.2 36.4h0M438.4 32.7h0M445.9 58.7h0M439.2 36.5h0M428 28.1h0M443.4 42h0M460.1 49.1h0M435.4 39.7h0" stroke="#19AA8D" stroke-width="2.1" stroke-linecap="square" fill="none"/>
<path d="M442.2 35l1.1 1.4l-1.1 1.4l-1.1-1.4zM459.4 42.8l1.1 1.4l-1.1 1.4l-1.1-1.4zM447.5 38.8l1.1 1.4l-1.1 1.4l-1.1-1.4zM446.9 50.4l1.1 1.4l-1.1 1.4l-1.1-1.4zM458.5 50.9l1.1 1.4l-1.1 1.4l-1.1-1.4zM451.6 47.8l1.1 1.4l-1.1 1.4l-1.1-1.4zM452.2 46.2l1.1 1.4l-1.1 1.4l-1.1-1.4zM451 50.2l1.1 1.4l-1.1 1.4l-1.1-1.4zM449.5 50.6l1.1 1.4l-1.1 1.4l-1.1-1.4zM454 51.6l1.1 1.4l-1.1 1.4l-1.1-1.4zM463.4 44.5l1.1 1.4l-1.1 1.4l-1.1-1.4zM438.9 32.8l1.1 1.4l-1.1 1.4l-1.1-1.4zM449.8 44.5l1.1 1.4l-1.1 1.4l-1.1-1.4zM462.1 73.4l1.1 1.4l-1.1 1.4l-1.1-1.4zM462.6 45l1.1 1.4l-1.1 1.4l-1.1-1.4zM455.2 38.4l1.1 1.4l-1.1 1.4l-1.1-1.4zM444.6 42.6l1.1 1.4l-1.1 1.4l-1.1-1.4zM445 39.9l1.1 1.4l-1.1 1.4l-1.1-1.4zM432.5 26.8l1.1 1.4l-1.1 1.4l-1.1-1.4zM448.1 44.6l1.1 1.4l-1.1 1.4l-1.1-1.4zM458 46.9l1.1 1.4l-1.1 1.4l-1.1-1.4zM440.8 47.6l1.1 1.4l-1.1 1.4l-1.1-1.4zM448.4 39.6l1.1 1.4l-1.1 1.4l-1.1-1.4zM441.3 39.4l1.1 1.4l-1.1 1.4l-1.1-1.4zM443.9 28.2l1.1 1.4l-1.1 1.4l-1.1-1.4zM457.2 32.3l1.1 1.4l-1.1 1.4l-1.1-1.4zM445.8 32.7l1.1 1.4l-1.1 1.4l-1.1-1.4zM456.8 55.9l1.1 1.4l-1.1 1.4l-1.1-1.4zM442.9 34.7l1.1 1.4l-1.1 1.4l-1.1-1.4zM456.5 48.5l1.1 1.4l-1.1 1.4l-1.1-1.4zM445.5 50.2l1.1 1.4l-1.1 1.4l-1.1-1.4zM438.4 42.6l1.1 1.4l-1.1 1.4l-1.1-1.4zM443.7 19.7l1.1 1.4l-1.1 1.4l-1.1-1.4zM452.2 51.7l1.1 1.4l-1.1 1.4l-1.1-1.4zM448.8 52.7l1.1 1.4l-1.1 1.4l-1.1-1.4zM442.2 34.5l1.1 1.4l-1.1 1.4l-1.1-1.4zM456.1 39.6l1.1 1.4l-1.1 1.4l-1.1-1.4zM438 36.8l1.1 1.4l-1.1 1.4l-1.1-1.4zM447.5 47.3l1.1 1.4l-1.1 1.4l-1.1-1.4zM467 70.1l1.1 1.4l-1.1 1.4l-1.1-1.4zM458 51.7l1.1 1.4l-1.1 1.4l-1.1-1.4zM455.2 45.4l1.1 1.4l-1.1 1.4l-1.1-1.4zM449.1 51.6l1.1 1.4l-1.1 1.4l-1.1-1.4zM448 37l1.1 1.4l-1.1 1.4l-1.1-1.4zM468.7 64.5l1.1 1.4l-1.1 1.4l-1.1-1.4zM463.4 51.2l1.1 1.4l-1.1 1.4l-1.1-1.4zM454.9 42.9l1.1 1.4l-1.1 1.4l-1.1-1.4zM444.4 44.9l1.1 1.4l-1.1 1.4l-1.1-1.4zM448.5 57.1l1.1 1.4l-1.1 1.4l-1.1-1.4zM457.5 50.1l1.1 1.4l-1.1 1.4l-1.1-1.4zM440.3 42.1l1.1 1.4l-1.1 1.4l-1.1-1.4zM470.4 66.7l1.1 1.4l-1.1 1.4l-1.1-1.4zM467.7 54.5l1.1 1.4l-1.1 1.4l-1.1-1.4zM447.8 48l1.1 1.4l-1.1 1.4l-1.1-1.4zM448.8 41.8l1.1 1.4l-1.1 1.4l-1.1-1.4zM440.2 23.9l1.1 1.4l-1.1 1.4l-1.1-1.4zM444.4 58.3l1.1 1.4l-1.1 1.4l-1.1-1.4zM459 62l1.1 1.4l-1.1 1.4l-1.1-1.4zM431.2 23.3l1.1 1.4l-1.1 1.4l-1.1-1.4zM459.6 40.2l1.1 1.4l-1.1 1.4l-1.1-1.4zM429.1 30.6l1.1 1.4l-1.1 1.4l-1.1-1.4zM456.1 47.2l1.1 1.4l-1.1 1.4l-1.1-1.4zM431.5 29.6l1.1 1.4l-1.1 1.4l-1.1-1.4zM444.9 33.2l1.1 1.4l-1.1 1.4l-1.1-1.4zM429.1 30.9l1.1 1.4l-1.1 1.4l-1.1-1.4zM442.5 42.4l1.1 1.4l-1.1 1.4l-1.1-1.4zM456.1 44.7l1.1 1.4l-1.1 1.4l-1.1-1.4zM463.9 59.7l1.1 1.4l-1.1 1.4l-1.1-1.4zM455.1 45.7l1.1 1.4l-1.1 1.4l-1.1-1.4zM446.9 44.1l1.1 1.4l-1.1 1.4l-1.1-1.4zM449.3 45.8l1.1 1.4l-1.1 1.4l-1.1-1.4zM463 49.5l1.1 1.4l-1.1 1.4l-1.1-1.4zM455.4 53.4l1.1 1.4l-1.1 1.4l-1.1-1.4zM460 39l1.1 1.4l-1.1 1.4l-1.1-1.4zM450.4 53.2l1.1 1.4l-1.1 1.4l-1.1-1.4zM444.6 40.4l1.1 1.4l-1.1 1.4l-1.1-1.4zM450.4 46.1l1.1 1.4l-1.1 1.4l-1.1-1.4zM455.9 44.8l1.1 1.4l-1.1 1.4l-1.1-1.4zM442.9 47.5l1.1 1.4l-1.1 1.4l-1.1-1.4zM452.9 53.7l1.1 1.4l-1.1 1.4l-1.1-1.4zM443.2 47.7l1.1 1.4l-1.1 1.4l-1.1-1.4zM472.6 49.4l1.1 1.4l-1.1 1.4l-1.1-1.4zM450 50.3l1.1 1.4l-1.1 1.4l-1.1-1.4zM434.6 49.4l1.1 1.4l-1.1 1.4l-1.1-1.4zM457.2 57.1l1.1 1.4l-1.1 1.4l-1.1-1.4z" stroke="#F0E250" stroke-width="0.7" fill="#F4E66A"/>
<path d="M450.8 44.6l1.35 2.4h-2.7zM464.1 55.6l1.35 2.4h-2.7zM448 23.7l1.35 2.4h-2.7zM447.8 46.3l1.35 2.4h-2.7zM446 48.5l1.35 2.4h-2.7zM476.9 69.2l1.35 2.4h-2.7zM441.8 45.5l1.35 2.4h-2.7zM438.3 39l1.35 2.4h-2.7zM440.4 36.9l1.35 2.4h-2.7zM464.3 60.5l1.35 2.4h-2.7zM472.3 49.4l1.35 2.4h-2.7zM453.6 64l1.35 2.4h-2.7zM455 60.8l1.35 2.4h-2.7zM464.5 66.6l1.35 2.4h-2.7zM450.9 52.6l1.35 2.4h-2.7zM456.9 49.1l1.35 2.4h-2.7zM451.2 49.2l1.35 2.4h-2.7zM438.7 47.4l1.35 2.4h-2.7zM448.6 44.5l1.35 2.4h-2.7zM438.4 54.8l1.35 2.4h-2.7zM450.3 64.3l1.35 2.4h-2.7zM474.3 58.3l1.35 2.4h-2.7zM467.1 50.3l1.35 2.4h-2.7zM466.1 54l1.35 2.4h-2.7zM451.6 38l1.35 2.4h-2.7zM474.3 49.8l1.35 2.4h-2.7zM458.8 61.4l1.35 2.4h-2.7zM474.8 58.3l1.35 2.4h-2.7zM448.1 45.8l1.35 2.4h-2.7zM460.3 41.1l1.35 2.4h-2.7zM460.4 62.3l1.35 2.4h-2.7zM462.8 46.5l1.35 2.4h-2.7zM438.7 37.5l1.35 2.4h-2.7zM433.9 32.3l1.35 2.4h-2.7zM479.9 60l1.35 2.4h-2.7zM443.5 37.5l1.35 2.4h-2.7zM459.8 50l1.35 2.4h-2.7zM454.7 48l1.35 2.4h-2.7zM445.9 46.1l1.35 2.4h-2.7zM449.4 58.5l1.35 2.4h-2.7zM447.9 52.4l1.35 2.4h-2.7zM465.9 55.2l1.35 2.4h-2.7zM454.7 52.2l1.35 2.4h-2.7zM449 43.3l1.35 2.4h-2.7zM449.4 55.8l1.35 2.4h-2.7zM458.9 45.5l1.35 2.4h-2.7zM491.6 65.8l1.35 2.4h-2.7zM467.1 52.8l1.35 2.4h-2.7zM466.5 67.6l1.35 2.4h-2.7zM452.6 54.5l1.35 2.4h-2.7zM431.2 48.9l1.35 2.4h-2.7zM458.4 61.9l1.35 2.4h-2.7zM444.8 50.6l1.35 2.4h-2.7zM460 51.6l1.35 2.4h-2.7zM449.4 48.4l1.35 2.4h-2.7zM438.8 41l1.35 2.4h-2.7zM455.1 47.7l1.35 2.4h-2.7zM429.9 39.2l1.35 2.4h-2.7zM464.6 58.2l1.35 2.4h-2.7zM450.9 52.7l1.35 2.4h-2.7zM463.7 60.7l1.35 2.4h-2.7zM436.7 39.5l1.35 2.4h-2.7zM458.2 57.9l1.35 2.4h-2.7zM454.4 50.8l1.35 2.4h-2.7zM447.2 28.8l1.35 2.4h-2.7zM443.6 41.7l1.35 2.4h-2.7zM456.4 58.5l1.35 2.4h-2.7zM461 59.6l1.35 2.4h-2.7zM448.1 47.4l1.35 2.4h-2.7zM448.3 38.9l1.35 2.4h-2.7zM446.4 43.5l1.35 2.4h-2.7zM446.8 49.1l1.35 2.4h-2.7zM447 63.9l1.35 2.4h-2.7zM434.7 39.7l1.35 2.4h-2.7zM462.1 52.8l1.35 2.4h-2.7zM459.4 60.3l1.35 2.4h-2.7zM451.5 63l1.35 2.4h-2.7zM461.3 51.9l1.35 2.4h-2.7zM459.8 50.7l1.35 2.4h-2.7zM453.9 66.1l1.35 2.4h-2.7zM452.3 55.2l1.35 2.4h-2.7zM452.3 51.4l1.35 2.4h-2.7zM459.5 71.8l1.35 2.4h-2.7zM453.4 37.9l1.35 2.4h-2.7zM466.1 51.9l1.35 2.4h-2.7zM468.9 59.4l1.35 2.4h-2.7zM469.8 70.8l1.35 2.4h-2.7zM460.9 32.1l1.35 2.4h-2.7zM446.3 35.6l1.35 2.4h-2.7zM460.3 71.8l1.35 2.4h-2.7zM444.1 51.5l1.35 2.4h-2.7zM460.2 47.9l1.35 2.4h-2.7zM450.9 49.3l1.35 2.4h-2.7zM453.6 48l1.35 2.4h-2.7zM470.5 70.2l1.35 2.4h-2.7zM460.1 52.4l1.35 2.4h-2.7zM470.1 59.3l1.35 2.4h-2.7zM445.5 48.5l1.35 2.4h-2.7zM441.2 28.8l1.35 2.4h-2.7zM448.3 46.3l1.35 2.4h-2.7zM447.7 28.8l1.35 2.4h-2.7zM453.7 51.2l1.35 2.4h-2.7zM461.5 60l1.35 2.4h-2.7zM462.3 48.5l1.35 2.4h-2.7zM450.6 57.1l1.35 2.4h-2.7zM447.9 40.3l1.35 2.4h-2.7zM463.8 47.5l1.35 2.4h-2.7z" stroke="#1E8CD2" stroke-width="0.6" fill="#1E8CD2" stroke-linejoin="round"/>
<path d="M454.2 50.6h0M482 51.1h0M476.6 48.8h0M522.2 73.1h0M499.5 61h0M465.7 51.4h0M479.9 59.9h0M508.3 61.7h0M504.3 56.3h0M468.8 56.4h0M493.9 52h0M484.2 52.4h0M465 56.2h0M456.1 56.1h0M489.3 56.5h0M478.2 63.9h0M498.1 65.3h0M494.5 64h0M530.5 62.5h0M500.5 66.9h0M466.4 70h0M461 64.6h0M495.9 56.8h0M470.3 51.8h0M492.7 55.1h0M515.9 59.3h0M454.8 61.2h0M472.3 52h0M488.5 51.2h0M531.1 67.7h0M465.7 49.5h0M523.8 64.8h0M474.2 55.1h0M496.2 56.9h0M452.9 62.4h0M493.5 49.9h0M480.1 62.1h0M465.1 55.7h0M494.1 61.8h0M495.5 56.2h0M497.6 56.7h0M473.7 56.1h0M471.4 47.4h0M483.1 55.7h0M493.6 61.1h0M468.4 72.8h0M467.5 57.1h0M508.7 62.4h0M453 58.8h0M491.4 63.6h0M473.4 52.6h0M473.9 49.9h0M481.6 45.8h0M489.9 51.4h0M485 61.9h0M467.6 53.9h0M465.8 63.3h0M507 56.1h0M476.9 54.4h0M490 61.9h0M452.3 54.1h0M480.3 58.5h0M491.5 62.3h0M478.3 48.9h0M469.8 39.5h0M499 54.5h0M476.1 50.1h0M481.4 56.2h0M455.5 55.9h0M489.1 45h0M506.1 62.5h0M465 52.7h0M502.8 60.6h0M470.7 52.2h0M488.3 58.3h0M465.9 51.6h0M477.7 64.3h0M460.9 55.1h0M464.8 46.8h0M467.4 61.6h0M458.7 58.3h0M487.6 49.7h0M473.1 53.7h0M468.2 49.1h0M479.4 70.3h0M462.8 53.9h0M472.5 63.7h0M478.6 65.1h0M480.9 54.6h0M503.4 52.9h0M486.8 66.8h0M492.6 65.2h0M497.1 62.7h0M478.2 57.5h0M497.2 67.2h0M496 45.5h0M482.7 53.8h0M458.3 56.4h0M482 60.4h0M476.9 42.7h0M484.9 44.2h0M464.7 58h0M498.5 57.3h0M468.2 48h0M498.8 66.6h0M464.9 58.6h0M474.4 48.2h0M483.9 61.7h0M464.2 57.6h0M471 64h0M514.4 66h0M487.3 53.9h0M495 63.9h0M477.8 64.7h0M512.6 65h0M465.2 44.5h0M501.3 58.8h0M500.2 63.1h0M455.9 53.1h0M509.2 58.2h0M490.4 57.7h0M478.3 67.8h0M495.3 57.3h0M484.8 59h0" stroke="#F55F0A" stroke-width="2.35" stroke-linecap="round" fill="none"/>
</g>
<g clip-path="url(#c10)">
<path d="M106 88.6h0M98.3 94.7h0M112.1 98.9h0M107.1 93.4h0M107.3 93.6h0M95.5 97.9h0M85.8 95.6h0M84.1 92.9h0M94.3 91.7h0M114.9 89.6h0M115.8 92.2h0M92.2 95.7h0M102.4 95.4h0M119.8 91.7h0M107.1 91h0M98.6 90.4h0M106.9 95.8h0M103.6 94.7h0M86 90.9h0M82 90.1h0M84.4 88.9h0M128.4 98.1h0M118.2 88.1h0M91.1 90.7h0M93.6 92h0M92.9 91.7h0M89.8 97.1h0M95.3 97.6h0M139.9 92.8h0M123.7 84.7h0M112.1 95.7h0M97.3 89.4h0M107.1 91.9h0M108 94.9h0M119.7 90.4h0M101.1 95.3h0M97.2 93.3h0M68.7 93.2h0M94.2 95h0M117.6 87.1h0M102.7 91.5h0M105.6 92.4h0M87.4 92.6h0M111.6 92h0M93 93.5h0M115.1 130.2h0M98.9 127.2h0M120 133.8h0M115.3 125.1h0M114.3 124.6h0M111.4 136.2h0M115.7 133.4h0M118.5 131h0" stroke="#262626" stroke-width="1.3" stroke-linecap="round" fill="none"/>
<path d="M115.6 88.6h2.6M116.9 87.3v2.6M116.4 92.5h2.6M117.7 91.2v2.6M132.8 92h2.6M134.1 90.7v2.6M139.9 90.2h2.6M141.2 88.9v2.6M97.6 85h2.6M98.9 83.7v2.6M121.9 94.6h2.6M123.2 93.3v2.6M127.3 89.5h2.6M128.6 88.2v2.6M134.1 90.7h2.6M135.4 89.4v2.6M130.1 91.8h2.6M131.4 90.5v2.6M139.6 87.4h2.6M140.9 86.1v2.6M134.2 90.6h2.6M135.5 89.3v2.6M136.3 93.3h2.6M137.6 92v2.6M88.9 93.1h2.6M90.2 91.8v2.6M136.8 87.1h2.6M138.1 85.8v2.6M122 89h2.6M123.3 87.7v2.6M131.7 92.8h2.6M133 91.5v2.6M106 91.3h2.6M107.3 90v2.6M111.1 88.2h2.6M112.4 86.9v2.6M120.6 91.4h2.6M121.9 90.1v2.6M123.3 92.1h2.6M124.6 90.8v2.6M137 91.9h2.6M138.3 90.6v2.6M119.6 90.3h2.6M120.9 89v2.6M130.3 93.7h2.6M131.6 92.4v2.6M91.7 92.3h2.6M93 91v2.6M126.1 90.1h2.6M127.4 88.8v2.6M133.9 89.8h2.6M135.2 88.5v2.6M105.5 92.4h2.6M106.8 91.1v2.6M116.3 89.3h2.6M117.6 88v2.6M103 89.5h2.6M104.3 88.2v2.6M118.3 95h2.6M119.6 93.7v2.6M96.2 93.7h2.6M97.5 92.4v2.6M103.6 89.3h2.6M104.9 88v2.6M98.2 93.7h2.6M99.5 92.4v2.6M121.7 92.4h2.6M123 91.1v2.6M112.3 93h2.6M113.6 91.7v2.6M132 89.9h2.6M133.3 88.6v2.6M149.9 86.5h2.6M151.2 85.2v2.6M95.5 88.4h2.6M96.8 87.1v2.6M135.1 87.6h2.6M136.4 86.3v2.6M129.6 86.4h2.6M130.9 85.1v2.6M145.6 89.7h2.6M146.9 88.4v2.6M106.8 92.2h2.6M108.1 90.9v2.6M126.5 90.9h2.6M127.8 89.6v2.6M123.1 97.6h2.6M124.4 96.3v2.6M149.9 84.8h2.6M151.2 83.5v2.6M85.2 88.6h2.6M86.5 87.3v2.6M117.1 89.6h2.6M118.4 88.3v2.6M117.2 89.2h2.6M118.5 87.9v2.6M122.6 90.3h2.6M123.9 89v2.6M115.7 92h2.6M117 90.7v2.6M141.4 89.1h2.6M142.7 87.8v2.6M133.7 89.5h2.6M135 88.2v2.6M132.6 90.6h2.6M133.9 89.3v2.6M132 91.9h2.6M133.3 90.6v2.6M123.8 85.7h2.6M125.1 84.4v2.6M128.9 92.5h2.6M130.2 91.2v2.6M105.5 90.4h2.6M106.8 89.1v2.6M114 91.8h2.6M115.3 90.5v2.6M142.6 88.5h2.6M143.9 87.2v2.6M130 87.5h2.6M131.3 86.2v2.6M131.1 94.5h2.6M132.4 93.2v2.6M118.2 89.9h2.6M119.5 88.6v2.6M118.2 84.1h2.6M119.5 82.8v2.6M124.3 91.7h2.6M125.6 90.4v2.6M141.9 88.8h2.6M143.2 87.5v2.6M115.2 91.3h2.6M116.5 90v2.6M105.9 89.8h2.6M107.2 88.5v2.6M119 92.5h2.6M120.3 91.2v2.6M116 87.1h2.6M117.3 85.8v2.6M119.8 88.6h2.6M121.1 87.3v2.6M103.1 134.4h2.6M104.4 133.1v2.6M122.4 134.7h2.6M123.7 133.4v2.6M101.5 129.7h2.6M102.8 128.4v2.6M124 131.7h2.6M125.3 130.4v2.6M100.8 128.8h2.6M102.1 127.5v2.6M104.8 140.9h2.6M106.1 139.6v2.6M112.6 134.3h2.6M113.9 133v2.6M117.3 133.7h2.6M118.6 132.4v2.6M112.5 132.8h2.6M113.8 131.5v2.6M137.2 132h2.6M138.5 130.7v2.6M133.2 136.9h2.6M134.5 135.6v2.6M123.7 137.4h2.6M125 136.1v2.6M107.2 133.7h2.6M108.5 132.4v2.6M98.5 130.7h2.6M99.8 129.4v2.6M107.3 132h2.6M108.6 130.7v2.6M137.2 133.2h2.6M138.5 131.9v2.6M105.9 149.5h2.6M107.2 148.2v2.6M93 145.6h2.6M94.3 144.3v2.6M95.4 148.2h2.6M96.7 146.9v2.6M134.4 150h2.6M135.7 148.7v2.6" stroke="#F7A11A" stroke-width="1.15" fill="none"/>
<path d="M102.7 83l2.2 2.2m0-2.2l-2.2 2.2M99.9 98.5l2.2 2.2m0-2.2l-2.2 2.2M120.4 87.3l2.2 2.2m0-2.2l-2.2 2.2M126.4 85l2.2 2.2m0-2.2l-2.2 2.2M115.5 95.1l2.2 2.2m0-2.2l-2.2 2.2M119.1 86.2l2.2 2.2m0-2.2l-2.2 2.2M124.1 93.1l2.2 2.2m0-2.2l-2.2 2.2M132.1 92.3l2.2 2.2m0-2.2l-2.2 2.2M115.3 85.6l2.2 2.2m0-2.2l-2.2 2.2M104.5 85.7l2.2 2.2m0-2.2l-2.2 2.2M125.1 93.3l2.2 2.2m0-2.2l-2.2 2.2M113.4 88.7l2.2 2.2m0-2.2l-2.2 2.2M126.6 89.1l2.2 2.2m0-2.2l-2.2 2.2M107.7 88.1l2.2 2.2m0-2.2l-2.2 2.2M103.1 84.7l2.2 2.2m0-2.2l-2.2 2.2M91.5 87.6l2.2 2.2m0-2.2l-2.2 2.2M128.6 95.2l2.2 2.2m0-2.2l-2.2 2.2M105.5 85.8l2.2 2.2m0-2.2l-2.2 2.2M128.3 93l2.2 2.2m0-2.2l-2.2 2.2M112.1 88.5l2.2 2.2m0-2.2l-2.2 2.2M111.8 91.7l2.2 2.2m0-2.2l-2.2 2.2M100.8 86.2l2.2 2.2m0-2.2l-2.2 2.2M119.1 90.5l2.2 2.2m0-2.2l-2.2 2.2M124.4 85.1l2.2 2.2m0-2.2l-2.2 2.2M114.2 87.6l2.2 2.2m0-2.2l-2.2 2.2M120.4 95.3l2.2 2.2m0-2.2l-2.2 2.2M112.9 94.4l2.2 2.2m0-2.2l-2.2 2.2M99.5 93.3l2.2 2.2m0-2.2l-2.2 2.2M123.2 85.3l2.2 2.2m0-2.2l-2.2 2.2M122.3 93.2l2.2 2.2m0-2.2l-2.2 2.2M123.7 87.7l2.2 2.2m0-2.2l-2.2 2.2M147.6 92.5l2.2 2.2m0-2.2l-2.2 2.2M133.2 95.5l2.2 2.2m0-2.2l-2.2 2.2M91.4 88.3l2.2 2.2m0-2.2l-2.2 2.2M119.6 89.3l2.2 2.2m0-2.2l-2.2 2.2M130.9 94l2.2 2.2m0-2.2l-2.2 2.2M107.7 84.1l2.2 2.2m0-2.2l-2.2 2.2M122.3 89.5l2.2 2.2m0-2.2l-2.2 2.2M107.4 88.6l2.2 2.2m0-2.2l-2.2 2.2M116.1 94.6l2.2 2.2m0-2.2l-2.2 2.2M106.9 89.2l2.2 2.2m0-2.2l-2.2 2.2M102.5 84l2.2 2.2m0-2.2l-2.2 2.2M113.8 85.5l2.2 2.2m0-2.2l-2.2 2.2M117.1 87.9l2.2 2.2m0-2.2l-2.2 2.2M119.1 91l2.2 2.2m0-2.2l-2.2 2.2M89.6 89.8l2.2 2.2m0-2.2l-2.2 2.2M127.4 88.6l2.2 2.2m0-2.2l-2.2 2.2M76.1 93.9l2.2 2.2m0-2.2l-2.2 2.2M140.3 85.5l2.2 2.2m0-2.2l-2.2 2.2M100.8 86.2l2.2 2.2m0-2.2l-2.2 2.2M115.9 95.1l2.2 2.2m0-2.2l-2.2 2.2M116.2 93.6l2.2 2.2m0-2.2l-2.2 2.2M124.3 93.9l2.2 2.2m0-2.2l-2.2 2.2M126.5 92.9l2.2 2.2m0-2.2l-2.2 2.2M122.9 91.1l2.2 2.2m0-2.2l-2.2 2.2M123 90.8l2.2 2.2m0-2.2l-2.2 2.2M133.8 90.4l2.2 2.2m0-2.2l-2.2 2.2M104.7 90.8l2.2 2.2m0-2.2l-2.2 2.2M110.2 88.5l2.2 2.2m0-2.2l-2.2 2.2M105.3 91l2.2 2.2m0-2.2l-2.2 2.2M120.2 90.4l2.2 2.2m0-2.2l-2.2 2.2M107.6 87.4l2.2 2.2m0-2.2l-2.2 2.2M95.8 129.5l2.2 2.2m0-2.2l-2.2 2.2M110.5 135.7l2.2 2.2m0-2.2l-2.2 2.2M96.6 128.9l2.2 2.2m0-2.2l-2.2 2.2M113.4 133.8l2.2 2.2m0-2.2l-2.2 2.2M90.5 130.7l2.2 2.2m0-2.2l-2.2 2.2M83.5 130.8l2.2 2.2m0-2.2l-2.2 2.2M92.2 127.4l2.2 2.2m0-2.2l-2.2 2.2" stroke="#3DB6EE" stroke-width="1.15" fill="none"/>
<path d="M115.6 96.6h0M103.8 92.1h0M117.1 98.1h0M95.6 101.2h0M102.3 95.9h0M97.7 91.2h0M121.1 89.6h0M112 96.7h0M90.2 93.2h0M93 98.7h0M85.5 99.5h0M109.7 95.4h0M116.8 102.6h0M97.2 91.5h0M84.1 101.7h0M101.6 91.4h0M120.1 96.2h0M103.7 102.7h0M108.8 95.1h0M123.8 99.1h0M131.7 100.2h0M120.3 97.3h0M136.5 101.1h0M135.2 89.8h0M128.8 103.6h0M81.3 98.7h0M106.8 95.3h0M134.6 92.1h0M101.1 88.7h0M122.5 94.4h0M118.7 95.5h0M101.4 92.8h0M100.1 87.2h0M119.1 96h0M126.3 95.1h0M108.6 92.3h0M103 102.2h0M90.1 92.4h0M109.9 91.1h0M113.6 96.4h0M115 96.5h0M130.1 98.5h0M102.1 94.6h0M82.8 96.1h0M74 99.5h0M123.4 95.1h0M63.9 97.6h0M115.7 100.8h0M115.3 94.9h0M93.7 95.7h0M115.6 95h0M140.3 99.7h0M117.4 99h0M69.5 100h0M88.3 103.6h0M86 99h0M117.1 99.4h0M91.9 93.1h0M110.3 93.5h0M103.4 100.6h0M78.9 96h0M112 93h0M106.6 96.7h0M88.6 91.7h0M96.1 96.2h0M77.5 88.7h0M135 96.6h0M105.7 97.6h0M78.7 102.6h0M140.9 94.8h0M93 97.3h0M101.3 100.3h0M109.1 96.4h0M100.9 99.7h0M112 96.7h0M71.2 103.7h0M89.2 102.3h0M67 97.3h0M126.6 96.7h0M87.9 95.2h0M103.2 98.1h0M138.7 90.8h0M84.1 97h0M85.3 95.5h0M103.4 96.9h0M109.5 98.6h0M67 94.5h0M103.2 96.5h0M117 102.5h0M94.3 93.9h0M82.6 91.8h0M98 95.4h0" stroke="#19AA8D" stroke-width="2.1" stroke-linecap="square" fill="none"/>
<path d="M103.5 88.4l1.1 1.4l-1.1 1.4l-1.1-1.4zM90.6 91.6l1.1 1.4l-1.1 1.4l-1.1-1.4zM97.2 94.6l1.1 1.4l-1.1 1.4l-1.1-1.4zM78.2 93.4l1.1 1.4l-1.1 1.4l-1.1-1.4zM77.4 87.5l1.1 1.4l-1.1 1.4l-1.1-1.4zM82.5 97l1.1 1.4l-1.1 1.4l-1.1-1.4zM85.1 94.1l1.1 1.4l-1.1 1.4l-1.1-1.4zM78.6 95l1.1 1.4l-1.1 1.4l-1.1-1.4zM77.9 94.1l1.1 1.4l-1.1 1.4l-1.1-1.4zM76.3 95.6l1.1 1.4l-1.1 1.4l-1.1-1.4zM87.8 94l1.1 1.4l-1.1 1.4l-1.1-1.4zM107 92l1.1 1.4l-1.1 1.4l-1.1-1.4zM88 92.6l1.1 1.4l-1.1 1.4l-1.1-1.4zM40.7 94.3l1.1 1.4l-1.1 1.4l-1.1-1.4zM87.1 84.7l1.1 1.4l-1.1 1.4l-1.1-1.4zM97.8 98.3l1.1 1.4l-1.1 1.4l-1.1-1.4zM90.9 91.4l1.1 1.4l-1.1 1.4l-1.1-1.4zM95.4 94.4l1.1 1.4l-1.1 1.4l-1.1-1.4zM116.8 100.2l1.1 1.4l-1.1 1.4l-1.1-1.4zM87.8 91.6l1.1 1.4l-1.1 1.4l-1.1-1.4zM84 88l1.1 1.4l-1.1 1.4l-1.1-1.4zM82.9 95.1l1.1 1.4l-1.1 1.4l-1.1-1.4zM95.8 90.9l1.1 1.4l-1.1 1.4l-1.1-1.4zM96.2 100.2l1.1 1.4l-1.1 1.4l-1.1-1.4zM114.5 96.5l1.1 1.4l-1.1 1.4l-1.1-1.4zM107.8 91.6l1.1 1.4l-1.1 1.4l-1.1-1.4zM107.2 88.5l1.1 1.4l-1.1 1.4l-1.1-1.4zM69.2 102.3l1.1 1.4l-1.1 1.4l-1.1-1.4zM103.8 93.1l1.1 1.4l-1.1 1.4l-1.1-1.4zM81.4 92.1l1.1 1.4l-1.1 1.4l-1.1-1.4zM78.5 94l1.1 1.4l-1.1 1.4l-1.1-1.4zM91.1 97.5l1.1 1.4l-1.1 1.4l-1.1-1.4zM128.4 94.9l1.1 1.4l-1.1 1.4l-1.1-1.4zM76.1 102.1l1.1 1.4l-1.1 1.4l-1.1-1.4zM74.5 93.5l1.1 1.4l-1.1 1.4l-1.1-1.4zM104.3 91.8l1.1 1.4l-1.1 1.4l-1.1-1.4zM95.9 95l1.1 1.4l-1.1 1.4l-1.1-1.4zM100.5 98l1.1 1.4l-1.1 1.4l-1.1-1.4zM83.3 97.3l1.1 1.4l-1.1 1.4l-1.1-1.4zM46.1 90.9l1.1 1.4l-1.1 1.4l-1.1-1.4zM76.2 93.2l1.1 1.4l-1.1 1.4l-1.1-1.4zM86.5 97.3l1.1 1.4l-1.1 1.4l-1.1-1.4zM76.2 94.8l1.1 1.4l-1.1 1.4l-1.1-1.4zM100.1 90.7l1.1 1.4l-1.1 1.4l-1.1-1.4zM55.3 91.3l1.1 1.4l-1.1 1.4l-1.1-1.4zM77 93.6l1.1 1.4l-1.1 1.4l-1.1-1.4zM90.5 91l1.1 1.4l-1.1 1.4l-1.1-1.4zM87.3 94l1.1 1.4l-1.1 1.4l-1.1-1.4zM67.3 96.4l1.1 1.4l-1.1 1.4l-1.1-1.4zM78.8 92l1.1 1.4l-1.1 1.4l-1.1-1.4zM91.8 93.4l1.1 1.4l-1.1 1.4l-1.1-1.4zM51.6 93.9l1.1 1.4l-1.1 1.4l-1.1-1.4zM71.6 94.3l1.1 1.4l-1.1 1.4l-1.1-1.4zM82.2 94.1l1.1 1.4l-1.1 1.4l-1.1-1.4zM92.3 89.7l1.1 1.4l-1.1 1.4l-1.1-1.4zM121.6 95.3l1.1 1.4l-1.1 1.4l-1.1-1.4zM65.3 93.9l1.1 1.4l-1.1 1.4l-1.1-1.4zM59.4 92.6l1.1 1.4l-1.1 1.4l-1.1-1.4zM122.5 94.5l1.1 1.4l-1.1 1.4l-1.1-1.4zM95 92.9l1.1 1.4l-1.1 1.4l-1.1-1.4zM110.6 94l1.1 1.4l-1.1 1.4l-1.1-1.4zM83.4 93l1.1 1.4l-1.1 1.4l-1.1-1.4zM112.2 91.9l1.1 1.4l-1.1 1.4l-1.1-1.4zM106.4 91.4l1.1 1.4l-1.1 1.4l-1.1-1.4zM110.1 94l1.1 1.4l-1.1 1.4l-1.1-1.4zM91.2 120.5l1.1 1.4l-1.1 1.4l-1.1-1.4zM87.6 117.4l1.1 1.4l-1.1 1.4l-1.1-1.4zM63.1 114l1.1 1.4l-1.1 1.4l-1.1-1.4zM86 118l1.1 1.4l-1.1 1.4l-1.1-1.4zM88.5 117.7l1.1 1.4l-1.1 1.4l-1.1-1.4zM85.8 115.8l1.1 1.4l-1.1 1.4l-1.1-1.4zM79.7 117l1.1 1.4l-1.1 1.4l-1.1-1.4zM73.3 117.6l1.1 1.4l-1.1 1.4l-1.1-1.4zM96.9 117.2l1.1 1.4l-1.1 1.4l-1.1-1.4zM73.7 119.7l1.1 1.4l-1.1 1.4l-1.1-1.4zM94.6 118.9l1.1 1.4l-1.1 1.4l-1.1-1.4zM85.3 113.6l1.1 1.4l-1.1 1.4l-1.1-1.4zM87.5 114.5l1.1 1.4l-1.1 1.4l-1.1-1.4zM83 117l1.1 1.4l-1.1 1.4l-1.1-1.4zM72.8 113.1l1.1 1.4l-1.1 1.4l-1.1-1.4zM82.6 117.9l1.1 1.4l-1.1 1.4l-1.1-1.4zM79.9 122.7l1.1 1.4l-1.1 1.4l-1.1-1.4zM78.4 117.1l1.1 1.4l-1.1 1.4l-1.1-1.4zM79.9 115.2l1.1 1.4l-1.1 1.4l-1.1-1.4zM67.4 122.5l1.1 1.4l-1.1 1.4l-1.1-1.4z" stroke="#F0E250" stroke-width="0.7" fill="#F4E66A"/>
<path d="M87.5 96.3l1.35 2.4h-2.7zM69.4 96.6l1.35 2.4h-2.7zM121.4 87.3l1.35 2.4h-2.7zM84.6 87.2l1.35 2.4h-2.7zM81 90.5l1.35 2.4h-2.7zM47.2 86.3l1.35 2.4h-2.7zM86 96.8l1.35 2.4h-2.7zM96.6 85.9l1.35 2.4h-2.7zM100 91.2l1.35 2.4h-2.7zM61.4 88.3l1.35 2.4h-2.7zM79.6 87.3l1.35 2.4h-2.7zM55.8 87.4l1.35 2.4h-2.7zM61 96.5l1.35 2.4h-2.7zM51.5 94l1.35 2.4h-2.7zM74.3 91.8l1.35 2.4h-2.7zM80 94.8l1.35 2.4h-2.7zM79.9 92.9l1.35 2.4h-2.7zM82.8 88l1.35 2.4h-2.7zM87.6 92.9l1.35 2.4h-2.7zM70.8 88.1l1.35 2.4h-2.7zM55.2 93.1l1.35 2.4h-2.7zM65.1 86.6l1.35 2.4h-2.7zM78.1 92.8l1.35 2.4h-2.7zM72.1 83.8l1.35 2.4h-2.7zM98.2 94.7l1.35 2.4h-2.7zM79 89.5l1.35 2.4h-2.7zM59.9 88.8l1.35 2.4h-2.7zM65 90.7l1.35 2.4h-2.7zM85.4 91.4l1.35 2.4h-2.7zM93.1 90.6l1.35 2.4h-2.7zM58.6 95.1l1.35 2.4h-2.7zM84.3 89.9l1.35 2.4h-2.7zM99.1 88.1l1.35 2.4h-2.7zM107.4 93.7l1.35 2.4h-2.7zM62.2 93.8l1.35 2.4h-2.7zM99 95.1l1.35 2.4h-2.7zM78.5 90.2l1.35 2.4h-2.7zM81.9 89.2l1.35 2.4h-2.7zM85 97.3l1.35 2.4h-2.7zM64.8 90.6l1.35 2.4h-2.7zM74.7 93l1.35 2.4h-2.7zM70.1 90.4l1.35 2.4h-2.7zM75.1 90.9l1.35 2.4h-2.7zM89.5 91.2l1.35 2.4h-2.7zM69.1 91.3l1.35 2.4h-2.7zM85.9 91.8l1.35 2.4h-2.7zM52.9 93.3l1.35 2.4h-2.7zM73.9 88.1l1.35 2.4h-2.7zM49.9 94.1l1.35 2.4h-2.7zM71.3 92l1.35 2.4h-2.7zM80.3 96l1.35 2.4h-2.7zM59.2 93.5l1.35 2.4h-2.7zM77.6 91.7l1.35 2.4h-2.7zM76 90.3l1.35 2.4h-2.7zM81.3 90.9l1.35 2.4h-2.7zM93.4 90.1l1.35 2.4h-2.7zM82.4 90.6l1.35 2.4h-2.7zM96.2 94.4l1.35 2.4h-2.7zM65.2 96.3l1.35 2.4h-2.7zM74.2 93.1l1.35 2.4h-2.7zM61 92.8l1.35 2.4h-2.7zM95.7 95.4l1.35 2.4h-2.7zM65.7 120.4l1.35 2.4h-2.7zM77.2 119.1l1.35 2.4h-2.7zM113.2 118.1l1.35 2.4h-2.7zM92.1 119.9l1.35 2.4h-2.7zM64.7 117.2l1.35 2.4h-2.7zM62.9 117.7l1.35 2.4h-2.7zM82.8 117.8l1.35 2.4h-2.7zM96.6 120.3l1.35 2.4h-2.7zM89.1 113.7l1.35 2.4h-2.7zM80 117.7l1.35 2.4h-2.7zM55.9 121l1.35 2.4h-2.7zM95.3 122.1l1.35 2.4h-2.7zM74 121.3l1.35 2.4h-2.7zM61.7 120l1.35 2.4h-2.7zM57.3 118.9l1.35 2.4h-2.7zM75.5 118.7l1.35 2.4h-2.7zM77.5 118.1l1.35 2.4h-2.7zM52.3 117l1.35 2.4h-2.7zM70.2 121.7l1.35 2.4h-2.7zM76.3 119.7l1.35 2.4h-2.7zM43 121.7l1.35 2.4h-2.7zM98.4 121.9l1.35 2.4h-2.7zM75.4 120.5l1.35 2.4h-2.7zM63.2 118.9l1.35 2.4h-2.7zM44.6 119.2l1.35 2.4h-2.7zM107.8 118.7l1.35 2.4h-2.7zM102.1 119.6l1.35 2.4h-2.7zM43 123.3l1.35 2.4h-2.7zM76.1 124.8l1.35 2.4h-2.7zM82 114.8l1.35 2.4h-2.7zM79.7 113.4l1.35 2.4h-2.7zM81.9 115.1l1.35 2.4h-2.7zM45.5 116.7l1.35 2.4h-2.7zM74.6 118.6l1.35 2.4h-2.7zM63.4 120.8l1.35 2.4h-2.7zM81.1 121.9l1.35 2.4h-2.7zM113.2 118.8l1.35 2.4h-2.7zM84.6 114.5l1.35 2.4h-2.7zM113.2 115.7l1.35 2.4h-2.7zM76.7 113.5l1.35 2.4h-2.7zM62.3 113.9l1.35 2.4h-2.7zM81.1 120.3l1.35 2.4h-2.7zM67.1 115.8l1.35 2.4h-2.7zM94.5 123l1.35 2.4h-2.7zM82.6 118.4l1.35 2.4h-2.7z" stroke="#1E8CD2" stroke-width="0.6" fill="#1E8CD2" stroke-linejoin="round"/>
<path d="M80.3 94.1h0M79.4 87.9h0M83.2 86.8h0M43.5 93.8h0M63.3 91.2h0M78.9 93.5h0M65 89h0M62.1 86.3h0M70.8 89.7h0M70.8 85.3h0M78 89.1h0M77.3 92.3h0M71.1 90.7h0M71.2 88.3h0M70.6 90.5h0M58.6 84.1h0M56.2 119.2h0M58.4 127.2h0M60.8 118.4h0M53.6 124.1h0M48.5 128.5h0M57.4 117.4h0M70.1 124.1h0M78.2 120.9h0M72.9 122.9h0M66.1 118.3h0M63 118.2h0M78 118.2h0M79.2 119.7h0M52.3 128.2h0M82 128.4h0M57 121.6h0M72.8 125.8h0M70 120.6h0M60.9 121.7h0M81.3 127.5h0M61.4 126.1h0M71.9 126.4h0M62 125.5h0M71 123.1h0M70.3 119.8h0M71.3 117.4h0M85.4 125.9h0M71.9 124.4h0M63 116.6h0M44 119h0M69.6 121.4h0M61 130.9h0M66.9 126h0M59 121.7h0M77 124.5h0M81.3 115h0M88 122h0M78.9 121.3h0M61.8 126.3h0M74.9 126.1h0M59.4 124.7h0M71.3 124.6h0M73.9 123.2h0M61.7 120.9h0M74.5 121.4h0M67.3 118.6h0M61.2 127.3h0M83.1 121.5h0M98.3 121.4h0M73.9 116.5h0M81 123.1h0M71.1 121.1h0M71.5 125.3h0M89.4 120.8h0M60.8 120.8h0M76.8 124.6h0M63.9 123.9h0M77.5 122.4h0M67.6 120.2h0M78.6 126.5h0M57.9 119.1h0M72.8 123.5h0M86.4 115.3h0M62.3 116.9h0M67.7 123.8h0M81.6 124.6h0M75.2 113.3h0M82.7 120h0M48 120.2h0M74.8 123.9h0M58.9 122.8h0M56.5 119.3h0M73.6 120h0M76.5 125.3h0M53.7 117.7h0M56.3 121.2h0M60.5 125.8h0M68.9 118.6h0M53.1 122.9h0M88.6 119.4h0M75 124.3h0M70.8 121h0M64.2 128.3h0M93.2 120.9h0M90.7 127.9h0M68.1 121.7h0M69.3 131.6h0M84.5 122.5h0M54.2 119.6h0M67.1 120.5h0M84.1 117.9h0M62.1 126.2h0M68.8 116.5h0M58.3 116.4h0M55 126.7h0M74.9 125.2h0M58.4 124.4h0M57.3 122.4h0M56.7 121.6h0M90.1 131.4h0M66.9 120.1h0M59.9 123.2h0M76.1 126h0M67.8 118.8h0M68.6 123.6h0M52.1 118.1h0M69.3 120.4h0M66.4 123.5h0" stroke="#F55F0A" stroke-width="2.35" stroke-linecap="round" fill="none"/>
</g>
<g clip-path="url(#c12)">
<path d="M318.1 88.6h0M315.8 94.7h0M320.2 98.9h0M312.3 93.4h0M313.6 93.6h0M314.1 97.9h0M309.6 95.6h0M317 92.9h0M316.1 91.7h0M311.3 89.6h0M316.4 92.2h0M305.8 95.7h0M320.6 95.4h0M315.7 91.7h0M306 91h0M311.3 90.4h0M315.8 95.8h0M319 94.7h0M321.4 90.9h0M315.3 90.1h0M308.5 88.9h0M310.1 98.1h0M319.8 88.1h0M320.9 90.7h0M313 92h0M314.6 91.7h0M312.8 97.1h0M320 97.6h0M309.2 92.8h0M308.8 84.7h0M311.6 95.7h0M314.7 89.4h0M301.8 91.9h0M316.7 94.9h0M317.7 90.4h0M309.6 95.3h0M314 93.3h0M315.8 93.2h0M312.9 95h0M321.6 87.1h0M316.6 91.5h0M306.4 92.4h0M312.1 92.6h0M314.9 92h0M311.7 93.5h0M298.8 130.2h0M301.3 127.2h0M299.2 133.8h0M299.7 125.1h0M296.7 124.6h0M302.4 136.2h0M301.9 133.4h0M299.8 131h0" stroke="#262626" stroke-width="1.3" stroke-linecap="round" fill="none"/>
<path d="M304.6 88.6h2.6M305.9 87.3v2.6M307.3 92.5h2.6M308.6 91.2v2.6M303.4 92h2.6M304.7 90.7v2.6M304.1 90.2h2.6M305.4 88.9v2.6M303.3 85h2.6M304.6 83.7v2.6M311.3 94.6h2.6M312.6 93.3v2.6M312.9 89.5h2.6M314.2 88.2v2.6M310.2 90.7h2.6M311.5 89.4v2.6M304.9 91.8h2.6M306.2 90.5v2.6M307.6 87.4h2.6M308.9 86.1v2.6M306.3 90.6h2.6M307.6 89.3v2.6M304.2 93.3h2.6M305.5 92v2.6M314.3 93.1h2.6M315.6 91.8v2.6M305.3 87.1h2.6M306.6 85.8v2.6M307.5 89h2.6M308.8 87.7v2.6M302.6 92.8h2.6M303.9 91.5v2.6M315 91.3h2.6M316.3 90v2.6M313.6 88.2h2.6M314.9 86.9v2.6M314.4 91.4h2.6M315.7 90.1v2.6M312.9 92.1h2.6M314.2 90.8v2.6M313.5 91.9h2.6M314.8 90.6v2.6M305.6 90.3h2.6M306.9 89v2.6M310.7 93.7h2.6M312 92.4v2.6M310.7 92.3h2.6M312 91v2.6M310.5 90.1h2.6M311.8 88.8v2.6M310.7 89.8h2.6M312 88.5v2.6M315.4 92.4h2.6M316.7 91.1v2.6M307.3 89.3h2.6M308.6 88v2.6M304.2 89.5h2.6M305.5 88.2v2.6M307.5 95h2.6M308.8 93.7v2.6M315.1 93.7h2.6M316.4 92.4v2.6M307.8 89.3h2.6M309.1 88v2.6M310.7 93.7h2.6M312 92.4v2.6M313.3 92.4h2.6M314.6 91.1v2.6M308.6 93h2.6M309.9 91.7v2.6M306.1 89.9h2.6M307.4 88.6v2.6M299.3 86.5h2.6M300.6 85.2v2.6M310.6 88.4h2.6M311.9 87.1v2.6M309.5 87.6h2.6M310.8 86.3v2.6M310.6 86.4h2.6M311.9 85.1v2.6M307.5 89.7h2.6M308.8 88.4v2.6M299.3 92.2h2.6M300.6 90.9v2.6M313.6 90.9h2.6M314.9 89.6v2.6M308.6 97.6h2.6M309.9 96.3v2.6M313.1 84.8h2.6M314.4 83.5v2.6M310.2 88.6h2.6M311.5 87.3v2.6M303.4 89.6h2.6M304.7 88.3v2.6M310.6 89.2h2.6M311.9 87.9v2.6M312.6 90.3h2.6M313.9 89v2.6M315.8 92h2.6M317.1 90.7v2.6M305.6 89.1h2.6M306.9 87.8v2.6M309.7 89.5h2.6M311 88.2v2.6M312.3 90.6h2.6M313.6 89.3v2.6M310 91.9h2.6M311.3 90.6v2.6M310.8 85.7h2.6M312.1 84.4v2.6M310.8 92.5h2.6M312.1 91.2v2.6M308.9 90.4h2.6M310.2 89.1v2.6M316 91.8h2.6M317.3 90.5v2.6M307.9 88.5h2.6M309.2 87.2v2.6M307.4 87.5h2.6M308.7 86.2v2.6M308 94.5h2.6M309.3 93.2v2.6M306.4 89.9h2.6M307.7 88.6v2.6M305.2 84.1h2.6M306.5 82.8v2.6M306.3 91.7h2.6M307.6 90.4v2.6M305.5 88.8h2.6M306.8 87.5v2.6M310.4 91.3h2.6M311.7 90v2.6M314.8 89.8h2.6M316.1 88.5v2.6M310.2 92.5h2.6M311.5 91.2v2.6M316 87.1h2.6M317.3 85.8v2.6M301.2 88.6h2.6M302.5 87.3v2.6M302.4 134.4h2.6M303.7 133.1v2.6M303.3 134.7h2.6M304.6 133.4v2.6M297.5 129.7h2.6M298.8 128.4v2.6M297.6 131.7h2.6M298.9 130.4v2.6M297.9 128.8h2.6M299.2 127.5v2.6M295.6 140.9h2.6M296.9 139.6v2.6M293.4 134.3h2.6M294.7 133v2.6M297.2 133.7h2.6M298.5 132.4v2.6M298.8 132.8h2.6M300.1 131.5v2.6M297.9 132h2.6M299.2 130.7v2.6M292.6 136.9h2.6M293.9 135.6v2.6M301.6 137.4h2.6M302.9 136.1v2.6M302.3 133.7h2.6M303.6 132.4v2.6M302.6 130.7h2.6M303.9 129.4v2.6M300 132h2.6M301.3 130.7v2.6M301.4 133.2h2.6M302.7 131.9v2.6M294.7 149.5h2.6M296 148.2v2.6M294.9 145.6h2.6M296.2 144.3v2.6M296.9 148.2h2.6M298.2 146.9v2.6M296.4 150h2.6M297.7 148.7v2.6" stroke="#F7A11A" stroke-width="1.15" fill="none"/>
<path d="M313.9 83l2.2 2.2m0-2.2l-2.2 2.2M315.6 98.5l2.2 2.2m0-2.2l-2.2 2.2M312 87.3l2.2 2.2m0-2.2l-2.2 2.2M311.9 85l2.2 2.2m0-2.2l-2.2 2.2M312.7 95.1l2.2 2.2m0-2.2l-2.2 2.2M307.3 86.2l2.2 2.2m0-2.2l-2.2 2.2M311 93.1l2.2 2.2m0-2.2l-2.2 2.2M311.8 92.3l2.2 2.2m0-2.2l-2.2 2.2M311.5 85.6l2.2 2.2m0-2.2l-2.2 2.2M313.5 85.7l2.2 2.2m0-2.2l-2.2 2.2M306.5 93.3l2.2 2.2m0-2.2l-2.2 2.2M309.3 88.7l2.2 2.2m0-2.2l-2.2 2.2M314.6 89.1l2.2 2.2m0-2.2l-2.2 2.2M311.9 88.1l2.2 2.2m0-2.2l-2.2 2.2M308.1 84.7l2.2 2.2m0-2.2l-2.2 2.2M317 87.6l2.2 2.2m0-2.2l-2.2 2.2M307.8 95.2l2.2 2.2m0-2.2l-2.2 2.2M311.8 85.8l2.2 2.2m0-2.2l-2.2 2.2M306.9 93l2.2 2.2m0-2.2l-2.2 2.2M314.5 88.5l2.2 2.2m0-2.2l-2.2 2.2M310.2 91.7l2.2 2.2m0-2.2l-2.2 2.2M316.4 86.2l2.2 2.2m0-2.2l-2.2 2.2M314.7 90.5l2.2 2.2m0-2.2l-2.2 2.2M309.1 85.1l2.2 2.2m0-2.2l-2.2 2.2M313.1 87.6l2.2 2.2m0-2.2l-2.2 2.2M308.2 95.3l2.2 2.2m0-2.2l-2.2 2.2M305.7 94.4l2.2 2.2m0-2.2l-2.2 2.2M314 93.3l2.2 2.2m0-2.2l-2.2 2.2M310.9 85.3l2.2 2.2m0-2.2l-2.2 2.2M312.6 93.2l2.2 2.2m0-2.2l-2.2 2.2M304.7 87.7l2.2 2.2m0-2.2l-2.2 2.2M312.7 92.5l2.2 2.2m0-2.2l-2.2 2.2M310.9 95.5l2.2 2.2m0-2.2l-2.2 2.2M318.8 88.3l2.2 2.2m0-2.2l-2.2 2.2M310.7 89.3l2.2 2.2m0-2.2l-2.2 2.2M313.6 94l2.2 2.2m0-2.2l-2.2 2.2M317.2 84.1l2.2 2.2m0-2.2l-2.2 2.2M312.3 89.5l2.2 2.2m0-2.2l-2.2 2.2M318.2 88.6l2.2 2.2m0-2.2l-2.2 2.2M306.7 94.6l2.2 2.2m0-2.2l-2.2 2.2M307 89.2l2.2 2.2m0-2.2l-2.2 2.2M307.3 84l2.2 2.2m0-2.2l-2.2 2.2M306 85.5l2.2 2.2m0-2.2l-2.2 2.2M312.4 87.9l2.2 2.2m0-2.2l-2.2 2.2M312.7 91l2.2 2.2m0-2.2l-2.2 2.2M315.1 89.8l2.2 2.2m0-2.2l-2.2 2.2M314.1 88.6l2.2 2.2m0-2.2l-2.2 2.2M313.5 93.9l2.2 2.2m0-2.2l-2.2 2.2M307.5 85.5l2.2 2.2m0-2.2l-2.2 2.2M310.4 86.2l2.2 2.2m0-2.2l-2.2 2.2M316.9 95.1l2.2 2.2m0-2.2l-2.2 2.2M313 93.6l2.2 2.2m0-2.2l-2.2 2.2M314.2 93.9l2.2 2.2m0-2.2l-2.2 2.2M309.9 92.9l2.2 2.2m0-2.2l-2.2 2.2M312.2 91.1l2.2 2.2m0-2.2l-2.2 2.2M308.6 90.8l2.2 2.2m0-2.2l-2.2 2.2M307.9 90.4l2.2 2.2m0-2.2l-2.2 2.2M317.3 90.8l2.2 2.2m0-2.2l-2.2 2.2M311.9 88.5l2.2 2.2m0-2.2l-2.2 2.2M314.3 91l2.2 2.2m0-2.2l-2.2 2.2M318.6 90.4l2.2 2.2m0-2.2l-2.2 2.2M307.3 87.4l2.2 2.2m0-2.2l-2.2 2.2M298.2 129.5l2.2 2.2m0-2.2l-2.2 2.2M301.3 135.7l2.2 2.2m0-2.2l-2.2 2.2M300.9 128.9l2.2 2.2m0-2.2l-2.2 2.2M301.7 133.8l2.2 2.2m0-2.2l-2.2 2.2M300.1 130.7l2.2 2.2m0-2.2l-2.2 2.2M300.4 130.8l2.2 2.2m0-2.2l-2.2 2.2M296.3 127.4l2.2 2.2m0-2.2l-2.2 2.2" stroke="#3DB6EE" stroke-width="1.15" fill="none"/>
<path d="M310.4 96.6h0M310.6 92.1h0M322.5 98.1h0M317.4 101.2h0M321.6 95.9h0M314 91.2h0M314.7 89.6h0M312.7 96.7h0M310.1 93.2h0M317.9 98.7h0M314.4 99.5h0M312.6 95.4h0M319 102.6h0M315.3 91.5h0M317.4 101.7h0M308.7 91.4h0M315.6 96.2h0M307.8 102.7h0M308.1 95.1h0M312 99.1h0M306.9 100.2h0M311.3 97.3h0M310.3 101.1h0M317.7 89.8h0M312.9 103.6h0M314.2 98.7h0M312.1 95.3h0M305.6 92.1h0M315.8 88.7h0M315.1 94.4h0M309.8 95.5h0M317.8 92.8h0M317.4 87.2h0M317.4 96h0M315.9 95.1h0M310.2 92.3h0M310.6 102.2h0M309.4 92.4h0M318.4 91.1h0M317.5 96.4h0M314.8 96.5h0M315.9 98.5h0M317.9 94.6h0M310.2 96.1h0M316.9 99.5h0M318 95.1h0M315.8 97.6h0M326.8 100.8h0M323.8 94.9h0M310.2 95.7h0M313.8 95h0M314.8 99.7h0M313.4 99h0M315.9 100h0M310.8 103.6h0M319.5 99h0M314.4 99.4h0M313.9 93.1h0M320 93.5h0M314.9 100.6h0M318.7 96h0M315.5 93h0M320.5 96.7h0M314.6 91.7h0M309 96.2h0M314.3 88.7h0M313.8 96.6h0M316.7 97.6h0M312 102.6h0M301.7 94.8h0M312.8 97.3h0M311.4 100.3h0M322.5 96.4h0M314 99.7h0M316 96.7h0M324.7 103.7h0M312.1 102.3h0M317.9 97.3h0M321.5 96.7h0M319.7 95.2h0M312.6 98.1h0M310.5 90.8h0M317.6 97h0M314.6 95.5h0M316.9 96.9h0M315.6 98.6h0M315.1 94.5h0M315.2 96.5h0M318.3 102.5h0M316.9 93.9h0M321 91.8h0M312 95.4h0" stroke="#19AA8D" stroke-width="2.1" stroke-linecap="square" fill="none"/>
<path d="M313.3 88.4l1.1 1.4l-1.1 1.4l-1.1-1.4zM328.1 91.6l1.1 1.4l-1.1 1.4l-1.1-1.4zM318.3 94.6l1.1 1.4l-1.1 1.4l-1.1-1.4zM316.6 93.4l1.1 1.4l-1.1 1.4l-1.1-1.4zM322.6 87.5l1.1 1.4l-1.1 1.4l-1.1-1.4zM317.1 97l1.1 1.4l-1.1 1.4l-1.1-1.4zM322.4 94.1l1.1 1.4l-1.1 1.4l-1.1-1.4zM315.4 95l1.1 1.4l-1.1 1.4l-1.1-1.4zM320.7 94.1l1.1 1.4l-1.1 1.4l-1.1-1.4zM319.3 95.6l1.1 1.4l-1.1 1.4l-1.1-1.4zM315.3 94l1.1 1.4l-1.1 1.4l-1.1-1.4zM316.9 92l1.1 1.4l-1.1 1.4l-1.1-1.4zM322.2 92.6l1.1 1.4l-1.1 1.4l-1.1-1.4zM322 94.3l1.1 1.4l-1.1 1.4l-1.1-1.4zM326.5 84.7l1.1 1.4l-1.1 1.4l-1.1-1.4zM322.6 98.3l1.1 1.4l-1.1 1.4l-1.1-1.4zM318.5 91.4l1.1 1.4l-1.1 1.4l-1.1-1.4zM317.8 94.4l1.1 1.4l-1.1 1.4l-1.1-1.4zM313.1 100.2l1.1 1.4l-1.1 1.4l-1.1-1.4zM317.6 91.6l1.1 1.4l-1.1 1.4l-1.1-1.4zM315 88l1.1 1.4l-1.1 1.4l-1.1-1.4zM316.7 95.1l1.1 1.4l-1.1 1.4l-1.1-1.4zM312.6 90.9l1.1 1.4l-1.1 1.4l-1.1-1.4zM315.3 100.2l1.1 1.4l-1.1 1.4l-1.1-1.4zM323.7 96.5l1.1 1.4l-1.1 1.4l-1.1-1.4zM321.3 91.6l1.1 1.4l-1.1 1.4l-1.1-1.4zM324.3 88.5l1.1 1.4l-1.1 1.4l-1.1-1.4zM317.8 102.3l1.1 1.4l-1.1 1.4l-1.1-1.4zM315 93.1l1.1 1.4l-1.1 1.4l-1.1-1.4zM312 92.1l1.1 1.4l-1.1 1.4l-1.1-1.4zM314.4 94l1.1 1.4l-1.1 1.4l-1.1-1.4zM314.5 97.5l1.1 1.4l-1.1 1.4l-1.1-1.4zM313.9 94.9l1.1 1.4l-1.1 1.4l-1.1-1.4zM317.3 102.1l1.1 1.4l-1.1 1.4l-1.1-1.4zM312.6 93.5l1.1 1.4l-1.1 1.4l-1.1-1.4zM318.1 91.8l1.1 1.4l-1.1 1.4l-1.1-1.4zM320.7 95l1.1 1.4l-1.1 1.4l-1.1-1.4zM317.9 98l1.1 1.4l-1.1 1.4l-1.1-1.4zM320.9 97.3l1.1 1.4l-1.1 1.4l-1.1-1.4zM330.1 90.9l1.1 1.4l-1.1 1.4l-1.1-1.4zM321.7 93.2l1.1 1.4l-1.1 1.4l-1.1-1.4zM322.1 97.3l1.1 1.4l-1.1 1.4l-1.1-1.4zM318.8 94.8l1.1 1.4l-1.1 1.4l-1.1-1.4zM319.7 90.7l1.1 1.4l-1.1 1.4l-1.1-1.4zM327.7 91.3l1.1 1.4l-1.1 1.4l-1.1-1.4zM326.7 93.6l1.1 1.4l-1.1 1.4l-1.1-1.4zM315.7 91l1.1 1.4l-1.1 1.4l-1.1-1.4zM316.2 94l1.1 1.4l-1.1 1.4l-1.1-1.4zM318.9 96.4l1.1 1.4l-1.1 1.4l-1.1-1.4zM322.3 92l1.1 1.4l-1.1 1.4l-1.1-1.4zM314.4 93.4l1.1 1.4l-1.1 1.4l-1.1-1.4zM318.6 93.9l1.1 1.4l-1.1 1.4l-1.1-1.4zM319.9 94.3l1.1 1.4l-1.1 1.4l-1.1-1.4zM314.2 94.1l1.1 1.4l-1.1 1.4l-1.1-1.4zM311.7 89.7l1.1 1.4l-1.1 1.4l-1.1-1.4zM315.1 95.3l1.1 1.4l-1.1 1.4l-1.1-1.4zM321.6 93.9l1.1 1.4l-1.1 1.4l-1.1-1.4zM320.1 92.6l1.1 1.4l-1.1 1.4l-1.1-1.4zM315.6 94.5l1.1 1.4l-1.1 1.4l-1.1-1.4zM324.4 92.9l1.1 1.4l-1.1 1.4l-1.1-1.4zM309.7 94l1.1 1.4l-1.1 1.4l-1.1-1.4zM314.6 93l1.1 1.4l-1.1 1.4l-1.1-1.4zM310.8 91.9l1.1 1.4l-1.1 1.4l-1.1-1.4zM316.3 91.4l1.1 1.4l-1.1 1.4l-1.1-1.4zM311.3 94l1.1 1.4l-1.1 1.4l-1.1-1.4zM365.1 120.5l1.1 1.4l-1.1 1.4l-1.1-1.4zM365.4 117.4l1.1 1.4l-1.1 1.4l-1.1-1.4zM360.5 114l1.1 1.4l-1.1 1.4l-1.1-1.4zM363.9 118l1.1 1.4l-1.1 1.4l-1.1-1.4zM369.2 117.7l1.1 1.4l-1.1 1.4l-1.1-1.4zM369.7 115.8l1.1 1.4l-1.1 1.4l-1.1-1.4zM370.4 117l1.1 1.4l-1.1 1.4l-1.1-1.4zM366.5 117.6l1.1 1.4l-1.1 1.4l-1.1-1.4zM368.1 117.2l1.1 1.4l-1.1 1.4l-1.1-1.4zM364.3 119.7l1.1 1.4l-1.1 1.4l-1.1-1.4zM371.6 118.9l1.1 1.4l-1.1 1.4l-1.1-1.4zM368.8 113.6l1.1 1.4l-1.1 1.4l-1.1-1.4zM366.6 114.5l1.1 1.4l-1.1 1.4l-1.1-1.4zM358.8 117l1.1 1.4l-1.1 1.4l-1.1-1.4zM364.5 113.1l1.1 1.4l-1.1 1.4l-1.1-1.4zM363.9 117.9l1.1 1.4l-1.1 1.4l-1.1-1.4zM371.3 122.7l1.1 1.4l-1.1 1.4l-1.1-1.4zM360 117.1l1.1 1.4l-1.1 1.4l-1.1-1.4zM361.8 115.2l1.1 1.4l-1.1 1.4l-1.1-1.4zM365.6 122.5l1.1 1.4l-1.1 1.4l-1.1-1.4z" stroke="#F0E250" stroke-width="0.7" fill="#F4E66A"/>
<path d="M316.9 96.3l1.35 2.4h-2.7zM325.3 96.6l1.35 2.4h-2.7zM309.1 87.3l1.35 2.4h-2.7zM322.7 87.2l1.35 2.4h-2.7zM310.1 90.5l1.35 2.4h-2.7zM319.6 86.3l1.35 2.4h-2.7zM326.2 96.8l1.35 2.4h-2.7zM314.2 85.9l1.35 2.4h-2.7zM311.7 91.2l1.35 2.4h-2.7zM319.2 88.3l1.35 2.4h-2.7zM327.6 87.3l1.35 2.4h-2.7zM320.1 87.4l1.35 2.4h-2.7zM314.4 96.5l1.35 2.4h-2.7zM317.9 94l1.35 2.4h-2.7zM323.9 91.8l1.35 2.4h-2.7zM320.7 94.8l1.35 2.4h-2.7zM314.1 92.9l1.35 2.4h-2.7zM320.3 88l1.35 2.4h-2.7zM319.9 92.9l1.35 2.4h-2.7zM318.4 88.1l1.35 2.4h-2.7zM313.4 93.1l1.35 2.4h-2.7zM320.4 86.6l1.35 2.4h-2.7zM313.9 92.8l1.35 2.4h-2.7zM326.6 83.8l1.35 2.4h-2.7zM319.3 94.7l1.35 2.4h-2.7zM309.2 89.5l1.35 2.4h-2.7zM317.6 88.8l1.35 2.4h-2.7zM318.1 90.7l1.35 2.4h-2.7zM320.9 91.4l1.35 2.4h-2.7zM321.4 90.6l1.35 2.4h-2.7zM320.8 95.1l1.35 2.4h-2.7zM315.7 89.9l1.35 2.4h-2.7zM318 88.1l1.35 2.4h-2.7zM318.3 93.7l1.35 2.4h-2.7zM327.4 93.8l1.35 2.4h-2.7zM313.4 95.1l1.35 2.4h-2.7zM320.5 90.2l1.35 2.4h-2.7zM326.1 89.2l1.35 2.4h-2.7zM312.2 97.3l1.35 2.4h-2.7zM322.5 90.6l1.35 2.4h-2.7zM318.5 93l1.35 2.4h-2.7zM322.1 90.4l1.35 2.4h-2.7zM326.3 90.9l1.35 2.4h-2.7zM316.2 91.2l1.35 2.4h-2.7zM315.6 91.3l1.35 2.4h-2.7zM324.3 91.8l1.35 2.4h-2.7zM325.2 93.3l1.35 2.4h-2.7zM321.8 88.1l1.35 2.4h-2.7zM322.5 94.1l1.35 2.4h-2.7zM317.1 92l1.35 2.4h-2.7zM315 96l1.35 2.4h-2.7zM315.1 93.5l1.35 2.4h-2.7zM313.2 91.7l1.35 2.4h-2.7zM317.7 90.3l1.35 2.4h-2.7zM324.7 90.9l1.35 2.4h-2.7zM315.4 90.1l1.35 2.4h-2.7zM319.1 90.6l1.35 2.4h-2.7zM316.2 94.4l1.35 2.4h-2.7zM318.8 96.3l1.35 2.4h-2.7zM320.3 93.1l1.35 2.4h-2.7zM326.4 92.8l1.35 2.4h-2.7zM318.6 95.4l1.35 2.4h-2.7zM358.9 120.4l1.35 2.4h-2.7zM369.2 119.1l1.35 2.4h-2.7zM371.7 118.1l1.35 2.4h-2.7zM366.3 119.9l1.35 2.4h-2.7zM372.8 117.2l1.35 2.4h-2.7zM358.9 117.7l1.35 2.4h-2.7zM373.5 117.8l1.35 2.4h-2.7zM370.5 120.3l1.35 2.4h-2.7zM364.4 113.7l1.35 2.4h-2.7zM379 117.7l1.35 2.4h-2.7zM360 121l1.35 2.4h-2.7zM362.4 122.1l1.35 2.4h-2.7zM375.5 121.3l1.35 2.4h-2.7zM370 120l1.35 2.4h-2.7zM377.5 118.9l1.35 2.4h-2.7zM364.3 118.7l1.35 2.4h-2.7zM373.4 118.1l1.35 2.4h-2.7zM366.1 117l1.35 2.4h-2.7zM373.3 121.7l1.35 2.4h-2.7zM369.1 119.7l1.35 2.4h-2.7zM368.7 121.7l1.35 2.4h-2.7zM378.3 121.9l1.35 2.4h-2.7zM368.1 120.5l1.35 2.4h-2.7zM377.1 118.9l1.35 2.4h-2.7zM371.6 119.2l1.35 2.4h-2.7zM372.1 118.7l1.35 2.4h-2.7zM372.1 119.6l1.35 2.4h-2.7zM371.2 123.3l1.35 2.4h-2.7zM363.7 124.8l1.35 2.4h-2.7zM358.9 114.8l1.35 2.4h-2.7zM370.2 113.4l1.35 2.4h-2.7zM370.2 115.1l1.35 2.4h-2.7zM372.2 116.7l1.35 2.4h-2.7zM367.3 118.6l1.35 2.4h-2.7zM379 120.8l1.35 2.4h-2.7zM373.5 121.9l1.35 2.4h-2.7zM372 118.8l1.35 2.4h-2.7zM370.7 114.5l1.35 2.4h-2.7zM367.3 115.7l1.35 2.4h-2.7zM365.7 113.5l1.35 2.4h-2.7zM369.9 113.9l1.35 2.4h-2.7zM374.2 120.3l1.35 2.4h-2.7zM379 115.8l1.35 2.4h-2.7zM370.7 123l1.35 2.4h-2.7zM365.3 118.4l1.35 2.4h-2.7z" stroke="#1E8CD2" stroke-width="0.6" fill="#1E8CD2" stroke-linejoin="round"/>
<path d="M328.3 94.1h0M315.1 87.9h0M315.2 86.8h0M322.3 93.8h0M322 91.2h0M327.1 93.5h0M329 89h0M326.5 86.3h0M326.2 89.7h0M313.3 85.3h0M320.4 89.1h0M325.5 92.3h0M325.6 90.7h0M315.6 88.3h0M322.1 90.5h0M318 84.1h0M393.8 119.2h0M390.4 127.2h0M383.9 118.4h0M371.4 124.1h0M376.2 128.5h0M385 117.4h0M382.1 124.1h0M395.4 120.9h0M385.8 122.9h0M387.9 118.3h0M382.5 118.2h0M374.1 118.2h0M382.2 119.7h0M382.7 128.2h0M365.2 128.4h0M372.8 121.6h0M387.5 125.8h0M380.4 120.6h0M378 121.7h0M371.7 127.5h0M377.4 126.1h0M386.8 126.4h0M384.6 125.5h0M379.7 123.1h0M396.6 119.8h0M380.9 117.4h0M378.3 125.9h0M391.8 124.4h0M369.7 116.6h0M385.3 119h0M371.7 121.4h0M379.1 130.9h0M373.5 126h0M384.5 121.7h0M382.3 124.5h0M383.9 115h0M384 122h0M394.7 121.3h0M396.5 126.3h0M386.5 126.1h0M386.7 124.7h0M382.2 124.6h0M372.9 123.2h0M388.1 120.9h0M379.3 121.4h0M389.2 118.6h0M368.7 127.3h0M403.7 121.5h0M370.7 121.4h0M384.7 116.5h0M389.8 123.1h0M371.1 121.1h0M374.9 125.3h0M366.8 120.8h0M373.6 120.8h0M365.2 124.6h0M385.7 123.9h0M383.5 122.4h0M380.6 120.2h0M390.8 126.5h0M393.2 119.1h0M379.9 123.5h0M378.7 115.3h0M378.5 116.9h0M376.1 123.8h0M393.7 124.6h0M383.3 113.3h0M378.2 120h0M380.3 120.2h0M384.6 123.9h0M378.1 122.8h0M384.6 119.3h0M382 120h0M395.9 125.3h0M392.4 117.7h0M372.2 121.2h0M382.9 125.8h0M387.8 118.6h0M380.6 122.9h0M390.6 119.4h0M385.2 124.3h0M384.5 121h0M381.9 128.3h0M384.3 120.9h0M387 127.9h0M368.5 121.7h0M376.9 131.6h0M372.6 122.5h0M398 119.6h0M382.9 120.5h0M384.6 117.9h0M384.1 126.2h0M376.2 116.5h0M375.2 116.4h0M393.1 126.7h0M380 125.2h0M396.8 124.4h0M383.6 122.4h0M386.7 121.6h0M378.8 131.4h0M384.1 120.1h0M384.9 123.2h0M391.8 126h0M404.5 118.8h0M374.1 123.6h0M384.1 118.1h0M389.7 120.4h0M375.5 123.5h0" stroke="#F55F0A" stroke-width="2.35" stroke-linecap="round" fill="none"/>
</g>
<g clip-path="url(#c13)">
<path d="M427.1 88.6h0M428.1 94.7h0M428 98.9h0M429.3 93.4h0M429.8 93.6h0M426.8 97.9h0M426.5 95.6h0M427.7 92.9h0M427.6 91.7h0M426.5 89.6h0M426.7 92.2h0M428.5 95.7h0M430.1 95.4h0M426.8 91.7h0M429 91h0M428.2 90.4h0M428 95.8h0M429.6 94.7h0M432.2 90.9h0M428.1 90.1h0M429.5 88.9h0M426.7 98.1h0M427.8 88.1h0M429.2 90.7h0M427.8 92h0M428.1 91.7h0M430.9 97.1h0M429.4 97.6h0M427 92.8h0M426.8 84.7h0M427.5 95.7h0M430.3 89.4h0M427 91.9h0M429.5 94.9h0M428 90.4h0M426.3 95.3h0M427.5 93.3h0M430.7 93.2h0M432.7 95h0M426.5 87.1h0M429.5 91.5h0M427.9 92.4h0M429.6 92.6h0M428.5 92h0M429.1 93.5h0M425.5 130.2h0M424.5 127.2h0M424.7 133.8h0M425.7 125.1h0M425.6 124.6h0M425.6 136.2h0M424.7 133.4h0M425 131h0" stroke="#262626" stroke-width="1.3" stroke-linecap="round" fill="none"/>
<path d="M423.7 88.6h2.6M425 87.3v2.6M423.2 92.5h2.6M424.5 91.2v2.6M423.2 92h2.6M424.5 90.7v2.6M423.4 90.2h2.6M424.7 88.9v2.6M423.6 85h2.6M424.9 83.7v2.6M423.8 94.6h2.6M425.1 93.3v2.6M423.5 89.5h2.6M424.8 88.2v2.6M423.1 90.7h2.6M424.4 89.4v2.6M423.6 91.8h2.6M424.9 90.5v2.6M423.7 87.4h2.6M425 86.1v2.6M423.5 90.6h2.6M424.8 89.3v2.6M423.3 93.3h2.6M424.6 92v2.6M424 93.1h2.6M425.3 91.8v2.6M423.4 87.1h2.6M424.7 85.8v2.6M423.5 89h2.6M424.8 87.7v2.6M423.4 92.8h2.6M424.7 91.5v2.6M424 91.3h2.6M425.3 90v2.6M423.7 88.2h2.6M425 86.9v2.6M424.1 91.4h2.6M425.4 90.1v2.6M423.8 92.1h2.6M425.1 90.8v2.6M423.2 91.9h2.6M424.5 90.6v2.6M423.8 90.3h2.6M425.1 89v2.6M423.3 93.7h2.6M424.6 92.4v2.6M423.6 92.3h2.6M424.9 91v2.6M423.4 90.1h2.6M424.7 88.8v2.6M423.6 89.8h2.6M424.9 88.5v2.6M423.5 92.4h2.6M424.8 91.1v2.6M423.5 89.3h2.6M424.8 88v2.6M423.9 89.5h2.6M425.2 88.2v2.6M423.3 95h2.6M424.6 93.7v2.6M424.6 93.7h2.6M425.9 92.4v2.6M423.5 89.3h2.6M424.8 88v2.6M423.4 93.7h2.6M424.7 92.4v2.6M424.4 92.4h2.6M425.7 91.1v2.6M423.4 93h2.6M424.7 91.7v2.6M423.5 89.9h2.6M424.8 88.6v2.6M423.4 86.5h2.6M424.7 85.2v2.6M424.1 88.4h2.6M425.4 87.1v2.6M423.4 87.6h2.6M424.7 86.3v2.6M423.3 86.4h2.6M424.6 85.1v2.6M423.2 89.7h2.6M424.5 88.4v2.6M423.8 92.2h2.6M425.1 90.9v2.6M423.6 90.9h2.6M424.9 89.6v2.6M423.6 97.6h2.6M424.9 96.3v2.6M423.2 84.8h2.6M424.5 83.5v2.6M423.7 88.6h2.6M425 87.3v2.6M423.6 89.6h2.6M424.9 88.3v2.6M423.4 89.2h2.6M424.7 87.9v2.6M423.6 90.3h2.6M424.9 89v2.6M423.4 92h2.6M424.7 90.7v2.6M423.2 89.1h2.6M424.5 87.8v2.6M423.2 89.5h2.6M424.5 88.2v2.6M423.6 90.6h2.6M424.9 89.3v2.6M423.3 91.9h2.6M424.6 90.6v2.6M423.6 85.7h2.6M424.9 84.4v2.6M423.4 92.5h2.6M424.7 91.2v2.6M423.7 90.4h2.6M425 89.1v2.6M423.8 91.8h2.6M425.1 90.5v2.6M423.3 88.5h2.6M424.6 87.2v2.6M423.3 87.5h2.6M424.6 86.2v2.6M423.2 94.5h2.6M424.5 93.2v2.6M423.3 89.9h2.6M424.6 88.6v2.6M424 84.1h2.6M425.3 82.8v2.6M423.2 91.7h2.6M424.5 90.4v2.6M423.3 88.8h2.6M424.6 87.5v2.6M423.3 91.3h2.6M424.6 90v2.6M423.9 89.8h2.6M425.2 88.5v2.6M423.3 92.5h2.6M424.6 91.2v2.6M423.5 87.1h2.6M424.8 85.8v2.6M423.4 88.6h2.6M424.7 87.3v2.6M423.4 134.4h2.6M424.7 133.1v2.6M423.5 134.7h2.6M424.8 133.4v2.6M423.6 129.7h2.6M424.9 128.4v2.6M423.1 131.7h2.6M424.4 130.4v2.6M423.5 128.8h2.6M424.8 127.5v2.6M423.9 140.9h2.6M425.2 139.6v2.6M423.2 134.3h2.6M424.5 133v2.6M423.2 133.7h2.6M424.5 132.4v2.6M423.4 132.8h2.6M424.7 131.5v2.6M423.2 132h2.6M424.5 130.7v2.6M423.1 136.9h2.6M424.4 135.6v2.6M423.4 137.4h2.6M424.7 136.1v2.6M423.1 133.7h2.6M424.4 132.4v2.6M423.7 130.7h2.6M425 129.4v2.6M423.8 132h2.6M425.1 130.7v2.6M423.3 133.2h2.6M424.6 131.9v2.6M423.7 149.5h2.6M425 148.2v2.6M423.5 145.6h2.6M424.8 144.3v2.6M424 148.2h2.6M425.3 146.9v2.6M423.4 150h2.6M424.7 148.7v2.6" stroke="#F7A11A" stroke-width="1.15" fill="none"/>
<path d="M430.9 83l2.2 2.2m0-2.2l-2.2 2.2M435.9 98.5l2.2 2.2m0-2.2l-2.2 2.2M426.2 87.3l2.2 2.2m0-2.2l-2.2 2.2M430.3 85l2.2 2.2m0-2.2l-2.2 2.2M434 95.1l2.2 2.2m0-2.2l-2.2 2.2M428 86.2l2.2 2.2m0-2.2l-2.2 2.2M426.6 93.1l2.2 2.2m0-2.2l-2.2 2.2M428.5 92.3l2.2 2.2m0-2.2l-2.2 2.2M429.2 85.6l2.2 2.2m0-2.2l-2.2 2.2M429.4 85.7l2.2 2.2m0-2.2l-2.2 2.2M427.7 93.3l2.2 2.2m0-2.2l-2.2 2.2M432.9 88.7l2.2 2.2m0-2.2l-2.2 2.2M429.5 89.1l2.2 2.2m0-2.2l-2.2 2.2M433.1 88.1l2.2 2.2m0-2.2l-2.2 2.2M429.9 84.7l2.2 2.2m0-2.2l-2.2 2.2M434 87.6l2.2 2.2m0-2.2l-2.2 2.2M428.9 95.2l2.2 2.2m0-2.2l-2.2 2.2M430.4 85.8l2.2 2.2m0-2.2l-2.2 2.2M427.6 93l2.2 2.2m0-2.2l-2.2 2.2M434 88.5l2.2 2.2m0-2.2l-2.2 2.2M426 91.7l2.2 2.2m0-2.2l-2.2 2.2M434 86.2l2.2 2.2m0-2.2l-2.2 2.2M429.2 90.5l2.2 2.2m0-2.2l-2.2 2.2M428.4 85.1l2.2 2.2m0-2.2l-2.2 2.2M431 87.6l2.2 2.2m0-2.2l-2.2 2.2M431 95.3l2.2 2.2m0-2.2l-2.2 2.2M427.4 94.4l2.2 2.2m0-2.2l-2.2 2.2M436.1 93.3l2.2 2.2m0-2.2l-2.2 2.2M426.8 85.3l2.2 2.2m0-2.2l-2.2 2.2M426.7 93.2l2.2 2.2m0-2.2l-2.2 2.2M433.1 87.7l2.2 2.2m0-2.2l-2.2 2.2M427 92.5l2.2 2.2m0-2.2l-2.2 2.2M427 95.5l2.2 2.2m0-2.2l-2.2 2.2M428.5 88.3l2.2 2.2m0-2.2l-2.2 2.2M432.5 89.3l2.2 2.2m0-2.2l-2.2 2.2M431.6 94l2.2 2.2m0-2.2l-2.2 2.2M427.3 84.1l2.2 2.2m0-2.2l-2.2 2.2M435.4 89.5l2.2 2.2m0-2.2l-2.2 2.2M434.7 88.6l2.2 2.2m0-2.2l-2.2 2.2M434.2 94.6l2.2 2.2m0-2.2l-2.2 2.2M429.9 89.2l2.2 2.2m0-2.2l-2.2 2.2M430.1 84l2.2 2.2m0-2.2l-2.2 2.2M430.4 85.5l2.2 2.2m0-2.2l-2.2 2.2M428.9 87.9l2.2 2.2m0-2.2l-2.2 2.2M430.1 91l2.2 2.2m0-2.2l-2.2 2.2M438 89.8l2.2 2.2m0-2.2l-2.2 2.2M428 88.6l2.2 2.2m0-2.2l-2.2 2.2M438.5 93.9l2.2 2.2m0-2.2l-2.2 2.2M429.2 85.5l2.2 2.2m0-2.2l-2.2 2.2M426.2 86.2l2.2 2.2m0-2.2l-2.2 2.2M435.3 95.1l2.2 2.2m0-2.2l-2.2 2.2M426.8 93.6l2.2 2.2m0-2.2l-2.2 2.2M430.8 93.9l2.2 2.2m0-2.2l-2.2 2.2M427.4 92.9l2.2 2.2m0-2.2l-2.2 2.2M426.3 91.1l2.2 2.2m0-2.2l-2.2 2.2M435.1 90.8l2.2 2.2m0-2.2l-2.2 2.2M430.5 90.4l2.2 2.2m0-2.2l-2.2 2.2M431.8 90.8l2.2 2.2m0-2.2l-2.2 2.2M433.3 88.5l2.2 2.2m0-2.2l-2.2 2.2M438.5 91l2.2 2.2m0-2.2l-2.2 2.2M430.5 90.4l2.2 2.2m0-2.2l-2.2 2.2M428.8 87.4l2.2 2.2m0-2.2l-2.2 2.2M425.8 129.5l2.2 2.2m0-2.2l-2.2 2.2M426.7 135.7l2.2 2.2m0-2.2l-2.2 2.2M425.4 128.9l2.2 2.2m0-2.2l-2.2 2.2M425.6 133.8l2.2 2.2m0-2.2l-2.2 2.2M427.3 130.7l2.2 2.2m0-2.2l-2.2 2.2M428.5 130.8l2.2 2.2m0-2.2l-2.2 2.2M426.5 127.4l2.2 2.2m0-2.2l-2.2 2.2" stroke="#3DB6EE" stroke-width="1.15" fill="none"/>
<path d="M435.3 96.6h0M435.2 92.1h0M448.7 98.1h0M444.1 101.2h0M449.3 95.9h0M435.2 91.2h0M427.9 89.6h0M435.6 96.7h0M436.6 93.2h0M442 98.7h0M446.2 99.5h0M437.4 95.4h0M433.6 102.6h0M439.6 91.5h0M447.9 101.7h0M434 91.4h0M434 96.2h0M431.6 102.7h0M429.3 95.1h0M448.2 99.1h0M432.1 100.2h0M439.1 97.3h0M429.4 101.1h0M438.3 89.8h0M429.7 103.6h0M443.4 98.7h0M444.1 95.3h0M434.8 92.1h0M437.9 88.7h0M435.6 94.4h0M431.3 95.5h0M442.8 92.8h0M446.8 87.2h0M446.8 96h0M439.9 95.1h0M427.3 92.3h0M439.4 102.2h0M441.2 92.4h0M441 91.1h0M434.6 96.4h0M437.5 96.5h0M441.3 98.5h0M446.4 94.6h0M441 96.1h0M449.4 99.5h0M432.6 95.1h0M448.2 97.6h0M450.6 100.8h0M440 94.9h0M442.8 95.7h0M431.8 95h0M428 99.7h0M434.7 99h0M443.9 100h0M437.9 103.6h0M446.3 99h0M438 99.4h0M435.9 93.1h0M448 93.5h0M446.6 100.6h0M449.7 96h0M446 93h0M442.9 96.7h0M443.6 91.7h0M432.4 96.2h0M441.1 88.7h0M429.6 96.6h0M440.7 97.6h0M444.6 102.6h0M434.2 94.8h0M441.9 97.3h0M440.4 100.3h0M437.4 96.4h0M443.1 99.7h0M439.7 96.7h0M445.2 103.7h0M449 102.3h0M440.3 97.3h0M431.9 96.7h0M438.9 95.2h0M449.3 98.1h0M431 90.8h0M442.9 97h0M439.9 95.5h0M440.2 96.9h0M438.4 98.6h0M445.9 94.5h0M439.2 96.5h0M428 102.5h0M443.4 93.9h0M460.1 91.8h0M435.4 95.4h0" stroke="#19AA8D" stroke-width="2.1" stroke-linecap="square" fill="none"/>
<path d="M442.2 88.4l1.1 1.4l-1.1 1.4l-1.1-1.4zM459.4 91.6l1.1 1.4l-1.1 1.4l-1.1-1.4zM447.5 94.6l1.1 1.4l-1.1 1.4l-1.1-1.4zM446.9 93.4l1.1 1.4l-1.1 1.4l-1.1-1.4zM458.5 87.5l1.1 1.4l-1.1 1.4l-1.1-1.4zM451.6 97l1.1 1.4l-1.1 1.4l-1.1-1.4zM452.2 94.1l1.1 1.4l-1.1 1.4l-1.1-1.4zM451 95l1.1 1.4l-1.1 1.4l-1.1-1.4zM449.5 94.1l1.1 1.4l-1.1 1.4l-1.1-1.4zM454 95.6l1.1 1.4l-1.1 1.4l-1.1-1.4zM463.4 94l1.1 1.4l-1.1 1.4l-1.1-1.4zM438.9 92l1.1 1.4l-1.1 1.4l-1.1-1.4zM449.8 92.6l1.1 1.4l-1.1 1.4l-1.1-1.4zM462.1 94.3l1.1 1.4l-1.1 1.4l-1.1-1.4zM462.6 84.7l1.1 1.4l-1.1 1.4l-1.1-1.4zM455.2 98.3l1.1 1.4l-1.1 1.4l-1.1-1.4zM444.6 91.4l1.1 1.4l-1.1 1.4l-1.1-1.4zM445 94.4l1.1 1.4l-1.1 1.4l-1.1-1.4zM432.5 100.2l1.1 1.4l-1.1 1.4l-1.1-1.4zM448.1 91.6l1.1 1.4l-1.1 1.4l-1.1-1.4zM458 88l1.1 1.4l-1.1 1.4l-1.1-1.4zM440.8 95.1l1.1 1.4l-1.1 1.4l-1.1-1.4zM448.4 90.9l1.1 1.4l-1.1 1.4l-1.1-1.4zM441.3 100.2l1.1 1.4l-1.1 1.4l-1.1-1.4zM443.9 96.5l1.1 1.4l-1.1 1.4l-1.1-1.4zM457.2 91.6l1.1 1.4l-1.1 1.4l-1.1-1.4zM445.8 88.5l1.1 1.4l-1.1 1.4l-1.1-1.4zM456.8 102.3l1.1 1.4l-1.1 1.4l-1.1-1.4zM442.9 93.1l1.1 1.4l-1.1 1.4l-1.1-1.4zM456.5 92.1l1.1 1.4l-1.1 1.4l-1.1-1.4zM445.5 94l1.1 1.4l-1.1 1.4l-1.1-1.4zM438.4 97.5l1.1 1.4l-1.1 1.4l-1.1-1.4zM443.7 94.9l1.1 1.4l-1.1 1.4l-1.1-1.4zM452.2 102.1l1.1 1.4l-1.1 1.4l-1.1-1.4zM448.8 93.5l1.1 1.4l-1.1 1.4l-1.1-1.4zM442.2 91.8l1.1 1.4l-1.1 1.4l-1.1-1.4zM456.1 95l1.1 1.4l-1.1 1.4l-1.1-1.4zM438 98l1.1 1.4l-1.1 1.4l-1.1-1.4zM447.5 97.3l1.1 1.4l-1.1 1.4l-1.1-1.4zM467 90.9l1.1 1.4l-1.1 1.4l-1.1-1.4zM458 93.2l1.1 1.4l-1.1 1.4l-1.1-1.4zM455.2 97.3l1.1 1.4l-1.1 1.4l-1.1-1.4zM449.1 94.8l1.1 1.4l-1.1 1.4l-1.1-1.4zM448 90.7l1.1 1.4l-1.1 1.4l-1.1-1.4zM468.7 91.3l1.1 1.4l-1.1 1.4l-1.1-1.4zM463.4 93.6l1.1 1.4l-1.1 1.4l-1.1-1.4zM454.9 91l1.1 1.4l-1.1 1.4l-1.1-1.4zM444.4 94l1.1 1.4l-1.1 1.4l-1.1-1.4zM448.5 96.4l1.1 1.4l-1.1 1.4l-1.1-1.4zM457.5 92l1.1 1.4l-1.1 1.4l-1.1-1.4zM440.3 93.4l1.1 1.4l-1.1 1.4l-1.1-1.4zM470.4 93.9l1.1 1.4l-1.1 1.4l-1.1-1.4zM467.7 94.3l1.1 1.4l-1.1 1.4l-1.1-1.4zM447.8 94.1l1.1 1.4l-1.1 1.4l-1.1-1.4zM448.8 89.7l1.1 1.4l-1.1 1.4l-1.1-1.4zM440.2 95.3l1.1 1.4l-1.1 1.4l-1.1-1.4zM444.4 93.9l1.1 1.4l-1.1 1.4l-1.1-1.4zM459 92.6l1.1 1.4l-1.1 1.4l-1.1-1.4zM431.2 94.5l1.1 1.4l-1.1 1.4l-1.1-1.4zM459.6 92.9l1.1 1.4l-1.1 1.4l-1.1-1.4zM429.1 94l1.1 1.4l-1.1 1.4l-1.1-1.4zM456.1 93l1.1 1.4l-1.1 1.4l-1.1-1.4zM431.5 91.9l1.1 1.4l-1.1 1.4l-1.1-1.4zM444.9 91.4l1.1 1.4l-1.1 1.4l-1.1-1.4zM429.1 94l1.1 1.4l-1.1 1.4l-1.1-1.4zM442.5 120.5l1.1 1.4l-1.1 1.4l-1.1-1.4zM456.1 117.4l1.1 1.4l-1.1 1.4l-1.1-1.4zM463.9 114l1.1 1.4l-1.1 1.4l-1.1-1.4zM455.1 118l1.1 1.4l-1.1 1.4l-1.1-1.4zM446.9 117.7l1.1 1.4l-1.1 1.4l-1.1-1.4zM449.3 115.8l1.1 1.4l-1.1 1.4l-1.1-1.4zM463 117l1.1 1.4l-1.1 1.4l-1.1-1.4zM455.4 117.6l1.1 1.4l-1.1 1.4l-1.1-1.4zM460 117.2l1.1 1.4l-1.1 1.4l-1.1-1.4zM450.4 119.7l1.1 1.4l-1.1 1.4l-1.1-1.4zM444.6 118.9l1.1 1.4l-1.1 1.4l-1.1-1.4zM450.4 113.6l1.1 1.4l-1.1 1.4l-1.1-1.4zM455.9 114.5l1.1 1.4l-1.1 1.4l-1.1-1.4zM442.9 117l1.1 1.4l-1.1 1.4l-1.1-1.4zM452.9 113.1l1.1 1.4l-1.1 1.4l-1.1-1.4zM443.2 117.9l1.1 1.4l-1.1 1.4l-1.1-1.4zM472.6 122.7l1.1 1.4l-1.1 1.4l-1.1-1.4zM450 117.1l1.1 1.4l-1.1 1.4l-1.1-1.4zM434.6 115.2l1.1 1.4l-1.1 1.4l-1.1-1.4zM457.2 122.5l1.1 1.4l-1.1 1.4l-1.1-1.4z" stroke="#F0E250" stroke-width="0.7" fill="#F4E66A"/>
<path d="M450.8 96.3l1.35 2.4h-2.7zM464.1 96.6l1.35 2.4h-2.7zM448 87.3l1.35 2.4h-2.7zM447.8 87.2l1.35 2.4h-2.7zM446 90.5l1.35 2.4h-2.7zM476.9 86.3l1.35 2.4h-2.7zM441.8 96.8l1.35 2.4h-2.7zM438.3 85.9l1.35 2.4h-2.7zM440.4 91.2l1.35 2.4h-2.7zM464.3 88.3l1.35 2.4h-2.7zM472.3 87.3l1.35 2.4h-2.7zM453.6 87.4l1.35 2.4h-2.7zM455 96.5l1.35 2.4h-2.7zM464.5 94l1.35 2.4h-2.7zM450.9 91.8l1.35 2.4h-2.7zM456.9 94.8l1.35 2.4h-2.7zM451.2 92.9l1.35 2.4h-2.7zM438.7 88l1.35 2.4h-2.7zM448.6 92.9l1.35 2.4h-2.7zM438.4 88.1l1.35 2.4h-2.7zM450.3 93.1l1.35 2.4h-2.7zM474.3 86.6l1.35 2.4h-2.7zM467.1 92.8l1.35 2.4h-2.7zM466.1 83.8l1.35 2.4h-2.7zM451.6 94.7l1.35 2.4h-2.7zM474.3 89.5l1.35 2.4h-2.7zM458.8 88.8l1.35 2.4h-2.7zM474.8 90.7l1.35 2.4h-2.7zM448.1 91.4l1.35 2.4h-2.7zM460.3 90.6l1.35 2.4h-2.7zM460.4 95.1l1.35 2.4h-2.7zM462.8 89.9l1.35 2.4h-2.7zM438.7 88.1l1.35 2.4h-2.7zM433.9 93.7l1.35 2.4h-2.7zM479.9 93.8l1.35 2.4h-2.7zM443.5 95.1l1.35 2.4h-2.7zM459.8 90.2l1.35 2.4h-2.7zM454.7 89.2l1.35 2.4h-2.7zM445.9 97.3l1.35 2.4h-2.7zM449.4 90.6l1.35 2.4h-2.7zM447.9 93l1.35 2.4h-2.7zM465.9 90.4l1.35 2.4h-2.7zM454.7 90.9l1.35 2.4h-2.7zM449 91.2l1.35 2.4h-2.7zM449.4 91.3l1.35 2.4h-2.7zM458.9 91.8l1.35 2.4h-2.7zM491.6 93.3l1.35 2.4h-2.7zM467.1 88.1l1.35 2.4h-2.7zM466.5 94.1l1.35 2.4h-2.7zM452.6 92l1.35 2.4h-2.7zM431.2 96l1.35 2.4h-2.7zM458.4 93.5l1.35 2.4h-2.7zM444.8 91.7l1.35 2.4h-2.7zM460 90.3l1.35 2.4h-2.7zM449.4 90.9l1.35 2.4h-2.7zM438.8 90.1l1.35 2.4h-2.7zM455.1 90.6l1.35 2.4h-2.7zM429.9 94.4l1.35 2.4h-2.7zM464.6 96.3l1.35 2.4h-2.7zM450.9 93.1l1.35 2.4h-2.7zM463.7 92.8l1.35 2.4h-2.7zM436.7 95.4l1.35 2.4h-2.7zM458.2 120.4l1.35 2.4h-2.7zM454.4 119.1l1.35 2.4h-2.7zM447.2 118.1l1.35 2.4h-2.7zM443.6 119.9l1.35 2.4h-2.7zM456.4 117.2l1.35 2.4h-2.7zM461 117.7l1.35 2.4h-2.7zM448.1 117.8l1.35 2.4h-2.7zM448.3 120.3l1.35 2.4h-2.7zM446.4 113.7l1.35 2.4h-2.7zM446.8 117.7l1.35 2.4h-2.7zM447 121l1.35 2.4h-2.7zM434.7 122.1l1.35 2.4h-2.7zM462.1 121.3l1.35 2.4h-2.7zM459.4 120l1.35 2.4h-2.7zM451.5 118.9l1.35 2.4h-2.7zM461.3 118.7l1.35 2.4h-2.7zM459.8 118.1l1.35 2.4h-2.7zM453.9 117l1.35 2.4h-2.7zM452.3 121.7l1.35 2.4h-2.7zM452.3 119.7l1.35 2.4h-2.7zM459.5 121.7l1.35 2.4h-2.7zM453.4 121.9l1.35 2.4h-2.7zM466.1 120.5l1.35 2.4h-2.7zM468.9 118.9l1.35 2.4h-2.7zM469.8 119.2l1.35 2.4h-2.7zM460.9 118.7l1.35 2.4h-2.7zM446.3 119.6l1.35 2.4h-2.7zM460.3 123.3l1.35 2.4h-2.7zM444.1 124.8l1.35 2.4h-2.7zM460.2 114.8l1.35 2.4h-2.7zM450.9 113.4l1.35 2.4h-2.7zM453.6 115.1l1.35 2.4h-2.7zM470.5 116.7l1.35 2.4h-2.7zM460.1 118.6l1.35 2.4h-2.7zM470.1 120.8l1.35 2.4h-2.7zM445.5 121.9l1.35 2.4h-2.7zM441.2 118.8l1.35 2.4h-2.7zM448.3 114.5l1.35 2.4h-2.7zM447.7 115.7l1.35 2.4h-2.7zM453.7 113.5l1.35 2.4h-2.7zM461.5 113.9l1.35 2.4h-2.7zM462.3 120.3l1.35 2.4h-2.7zM450.6 115.8l1.35 2.4h-2.7zM447.9 123l1.35 2.4h-2.7zM463.8 118.4l1.35 2.4h-2.7z" stroke="#1E8CD2" stroke-width="0.6" fill="#1E8CD2" stroke-linejoin="round"/>
<path d="M454.2 94.1h0M482 87.9h0M476.6 86.8h0M522.2 93.8h0M499.5 91.2h0M465.7 93.5h0M479.9 89h0M508.3 86.3h0M504.3 89.7h0M468.8 85.3h0M493.9 89.1h0M484.2 92.3h0M465 90.7h0M456.1 88.3h0M489.3 90.5h0M478.2 84.1h0M498.1 119.2h0M494.5 127.2h0M530.5 118.4h0M500.5 124.1h0M466.4 128.5h0M461 117.4h0M495.9 124.1h0M470.3 120.9h0M492.7 122.9h0M515.9 118.3h0M454.8 118.2h0M472.3 118.2h0M488.5 119.7h0M531.1 128.2h0M465.7 128.4h0M523.8 121.6h0M474.2 125.8h0M496.2 120.6h0M452.9 121.7h0M493.5 127.5h0M480.1 126.1h0M465.1 126.4h0M494.1 125.5h0M495.5 123.1h0M497.6 119.8h0M473.7 117.4h0M471.4 125.9h0M483.1 124.4h0M493.6 116.6h0M468.4 119h0M467.5 121.4h0M508.7 130.9h0M453 126h0M491.4 121.7h0M473.4 124.5h0M473.9 115h0M481.6 122h0M489.9 121.3h0M485 126.3h0M467.6 126.1h0M465.8 124.7h0M507 124.6h0M476.9 123.2h0M490 120.9h0M452.3 121.4h0M480.3 118.6h0M491.5 127.3h0M478.3 121.5h0M469.8 121.4h0M499 116.5h0M476.1 123.1h0M481.4 121.1h0M455.5 125.3h0M489.1 120.8h0M506.1 120.8h0M465 124.6h0M502.8 123.9h0M470.7 122.4h0M488.3 120.2h0M465.9 126.5h0M477.7 119.1h0M460.9 123.5h0M464.8 115.3h0M467.4 116.9h0M458.7 123.8h0M487.6 124.6h0M473.1 113.3h0M468.2 120h0M479.4 120.2h0M462.8 123.9h0M472.5 122.8h0M478.6 119.3h0M480.9 120h0M503.4 125.3h0M486.8 117.7h0M492.6 121.2h0M497.1 125.8h0M478.2 118.6h0M497.2 122.9h0M496 119.4h0M482.7 124.3h0M458.3 121h0M482 128.3h0M476.9 120.9h0M484.9 127.9h0M464.7 121.7h0M498.5 131.6h0M468.2 122.5h0M498.8 119.6h0M464.9 120.5h0M474.4 117.9h0M483.9 126.2h0M464.2 116.5h0M471 116.4h0M514.4 126.7h0M487.3 125.2h0M495 124.4h0M477.8 122.4h0M512.6 121.6h0M465.2 131.4h0M501.3 120.1h0M500.2 123.2h0M455.9 126h0M509.2 118.8h0M490.4 123.6h0M478.3 118.1h0M495.3 120.4h0M484.8 123.5h0" stroke="#F55F0A" stroke-width="2.35" stroke-linecap="round" fill="none"/>
</g>
<g clip-path="url(#c20)">
<path d="M106 209h0M98.3 210.3h0M112.1 207.7h0M107.1 212.4h0M107.3 211.6h0M95.5 211.3h0M85.8 214.1h0M84.1 209.6h0M94.3 210.1h0M114.9 213h0M115.8 210h0M92.2 216.3h0M102.4 207.4h0M119.8 210.4h0M107.1 216.2h0M98.6 213h0M106.9 210.3h0M103.6 208.4h0M86 206.9h0M82 210.6h0M84.4 214.7h0M128.4 213.7h0M118.2 207.9h0M91.1 207.2h0M93.6 212h0M92.9 211.1h0M89.8 212.1h0M95.3 207.8h0M139.9 214.2h0M123.7 214.5h0M112.1 212.8h0M97.3 211h0M107.1 218.7h0M108 209.8h0M119.7 209.2h0M101.1 214.1h0M97.2 211.4h0M68.7 210.3h0M94.2 212h0M117.6 206.8h0M102.7 209.9h0M105.6 215.9h0M87.4 212.5h0M111.6 210.9h0M93 212.8h0M115.1 220.5h0M98.9 219h0M120 220.3h0M115.3 220h0M114.3 221.8h0M111.4 218.4h0M115.7 218.7h0M118.5 219.9h0" stroke="#262626" stroke-width="1.3" stroke-linecap="round" fill="none"/>
<path d="M115.6 216.3h2.6M116.9 215v2.6M116.4 214.6h2.6M117.7 213.3v2.6M132.8 216.9h2.6M134.1 215.6v2.6M139.9 216.5h2.6M141.2 215.2v2.6M97.6 217h2.6M98.9 215.7v2.6M121.9 212.2h2.6M123.2 210.9v2.6M127.3 211.3h2.6M128.6 210v2.6M134.1 212.9h2.6M135.4 211.6v2.6M130.1 216.1h2.6M131.4 214.8v2.6M139.6 214.4h2.6M140.9 213.1v2.6M134.2 215.3h2.6M135.5 214v2.6M136.3 216.5h2.6M137.6 215.2v2.6M88.9 210.4h2.6M90.2 209.1v2.6M136.8 215.8h2.6M138.1 214.5v2.6M122 214.5h2.6M123.3 213.2v2.6M131.7 217.5h2.6M133 216.2v2.6M106 210h2.6M107.3 208.7v2.6M111.1 210.9h2.6M112.4 209.6v2.6M120.6 210.4h2.6M121.9 209.1v2.6M123.3 211.3h2.6M124.6 210v2.6M137 210.9h2.6M138.3 209.6v2.6M119.6 215.7h2.6M120.9 214.4v2.6M130.3 212.6h2.6M131.6 211.3v2.6M91.7 212.6h2.6M93 211.3v2.6M126.1 212.7h2.6M127.4 211.4v2.6M133.9 212.6h2.6M135.2 211.3v2.6M105.5 209.8h2.6M106.8 208.5v2.6M116.3 214.7h2.6M117.6 213.4v2.6M103 216.5h2.6M104.3 215.2v2.6M118.3 214.5h2.6M119.6 213.2v2.6M96.2 210h2.6M97.5 208.7v2.6M103.6 214.3h2.6M104.9 213v2.6M98.2 212.6h2.6M99.5 211.3v2.6M121.7 211.1h2.6M123 209.8v2.6M112.3 213.8h2.6M113.6 212.5v2.6M132 215.4h2.6M133.3 214.1v2.6M149.9 219.4h2.6M151.2 218.1v2.6M95.5 212.7h2.6M96.8 211.4v2.6M135.1 213.3h2.6M136.4 212v2.6M129.6 212.7h2.6M130.9 211.4v2.6M145.6 214.5h2.6M146.9 213.2v2.6M106.8 219.4h2.6M108.1 218.1v2.6M126.5 210.8h2.6M127.8 209.5v2.6M123.1 213.9h2.6M124.4 212.6v2.6M149.9 211.1h2.6M151.2 209.8v2.6M85.2 212.9h2.6M86.5 211.6v2.6M117.1 217h2.6M118.4 215.7v2.6M117.2 212.7h2.6M118.5 211.4v2.6M122.6 211.5h2.6M123.9 210.2v2.6M115.7 209.6h2.6M117 208.3v2.6M141.4 215.6h2.6M142.7 214.3v2.6M133.7 213.2h2.6M135 211.9v2.6M132.6 211.6h2.6M133.9 210.3v2.6M132 213h2.6M133.3 211.7v2.6M123.8 212.5h2.6M125.1 211.2v2.6M128.9 212.6h2.6M130.2 211.3v2.6M105.5 213.7h2.6M106.8 212.4v2.6M114 209.4h2.6M115.3 208.1v2.6M142.6 214.3h2.6M143.9 213v2.6M130 214.6h2.6M131.3 213.3v2.6M131.1 214.2h2.6M132.4 212.9v2.6M118.2 215.2h2.6M119.5 213.9v2.6M118.2 215.9h2.6M119.5 214.6v2.6M124.3 215.2h2.6M125.6 213.9v2.6M141.9 215.7h2.6M143.2 214.4v2.6M115.2 212.7h2.6M116.5 211.4v2.6M105.9 210.1h2.6M107.2 208.8v2.6M119 212.9h2.6M120.3 211.6v2.6M116 209.4h2.6M117.3 208.1v2.6M119.8 218.3h2.6M121.1 217v2.6M103.1 217.6h2.6M104.4 216.3v2.6M122.4 217h2.6M123.7 215.7v2.6M101.5 220.5h2.6M102.8 219.2v2.6M124 220.5h2.6M125.3 219.2v2.6M100.8 220.3h2.6M102.1 219v2.6M104.8 221.6h2.6M106.1 220.3v2.6M112.6 223h2.6M113.9 221.7v2.6M117.3 220.7h2.6M118.6 219.4v2.6M112.5 219.7h2.6M113.8 218.4v2.6M137.2 220.3h2.6M138.5 219v2.6M133.2 223.5h2.6M134.5 222.2v2.6M123.7 218h2.6M125 216.7v2.6M107.2 217.7h2.6M108.5 216.4v2.6M98.5 217.5h2.6M99.8 216.2v2.6M107.3 219h2.6M108.6 217.7v2.6M137.2 218.2h2.6M138.5 216.9v2.6M105.9 222.2h2.6M107.2 220.9v2.6M93 222.1h2.6M94.3 220.8v2.6M95.4 220.9h2.6M96.7 219.6v2.6M134.4 221.1h2.6M135.7 219.8v2.6" stroke="#F7A11A" stroke-width="1.15" fill="none"/>
<path d="M102.7 209.7l2.2 2.2m0-2.2l-2.2 2.2M99.9 208.7l2.2 2.2m0-2.2l-2.2 2.2M120.4 210.8l2.2 2.2m0-2.2l-2.2 2.2M126.4 210.9l2.2 2.2m0-2.2l-2.2 2.2M115.5 210.4l2.2 2.2m0-2.2l-2.2 2.2M119.1 213.7l2.2 2.2m0-2.2l-2.2 2.2M124.1 211.4l2.2 2.2m0-2.2l-2.2 2.2M132.1 211l2.2 2.2m0-2.2l-2.2 2.2M115.3 211.1l2.2 2.2m0-2.2l-2.2 2.2M104.5 210l2.2 2.2m0-2.2l-2.2 2.2M125.1 214.1l2.2 2.2m0-2.2l-2.2 2.2M113.4 212.5l2.2 2.2m0-2.2l-2.2 2.2M126.6 209.3l2.2 2.2m0-2.2l-2.2 2.2M107.7 210.9l2.2 2.2m0-2.2l-2.2 2.2M103.1 213.2l2.2 2.2m0-2.2l-2.2 2.2M91.5 207.8l2.2 2.2m0-2.2l-2.2 2.2M128.6 213.4l2.2 2.2m0-2.2l-2.2 2.2M105.5 211l2.2 2.2m0-2.2l-2.2 2.2M128.3 213.9l2.2 2.2m0-2.2l-2.2 2.2M112.1 209.3l2.2 2.2m0-2.2l-2.2 2.2M111.8 211.9l2.2 2.2m0-2.2l-2.2 2.2M100.8 208.2l2.2 2.2m0-2.2l-2.2 2.2M119.1 209.2l2.2 2.2m0-2.2l-2.2 2.2M124.4 212.6l2.2 2.2m0-2.2l-2.2 2.2M114.2 210.2l2.2 2.2m0-2.2l-2.2 2.2M120.4 213.1l2.2 2.2m0-2.2l-2.2 2.2M112.9 214.6l2.2 2.2m0-2.2l-2.2 2.2M99.5 209.7l2.2 2.2m0-2.2l-2.2 2.2M123.2 211.5l2.2 2.2m0-2.2l-2.2 2.2M122.3 210.5l2.2 2.2m0-2.2l-2.2 2.2M123.7 215.2l2.2 2.2m0-2.2l-2.2 2.2M147.6 210.4l2.2 2.2m0-2.2l-2.2 2.2M133.2 211.5l2.2 2.2m0-2.2l-2.2 2.2M91.4 206.8l2.2 2.2m0-2.2l-2.2 2.2M119.6 211.6l2.2 2.2m0-2.2l-2.2 2.2M130.9 209.9l2.2 2.2m0-2.2l-2.2 2.2M107.7 207.7l2.2 2.2m0-2.2l-2.2 2.2M122.3 210.7l2.2 2.2m0-2.2l-2.2 2.2M107.4 207.1l2.2 2.2m0-2.2l-2.2 2.2M116.1 214l2.2 2.2m0-2.2l-2.2 2.2M106.9 213.8l2.2 2.2m0-2.2l-2.2 2.2M102.5 213.6l2.2 2.2m0-2.2l-2.2 2.2M113.8 214.5l2.2 2.2m0-2.2l-2.2 2.2M117.1 210.6l2.2 2.2m0-2.2l-2.2 2.2M119.1 210.4l2.2 2.2m0-2.2l-2.2 2.2M89.6 209l2.2 2.2m0-2.2l-2.2 2.2M127.4 209.6l2.2 2.2m0-2.2l-2.2 2.2M76.1 209.9l2.2 2.2m0-2.2l-2.2 2.2M140.3 213.5l2.2 2.2m0-2.2l-2.2 2.2M100.8 211.8l2.2 2.2m0-2.2l-2.2 2.2M115.9 207.9l2.2 2.2m0-2.2l-2.2 2.2M116.2 210.2l2.2 2.2m0-2.2l-2.2 2.2M124.3 209.5l2.2 2.2m0-2.2l-2.2 2.2M126.5 212.1l2.2 2.2m0-2.2l-2.2 2.2M122.9 210.7l2.2 2.2m0-2.2l-2.2 2.2M123 212.9l2.2 2.2m0-2.2l-2.2 2.2M133.8 213.3l2.2 2.2m0-2.2l-2.2 2.2M104.7 207.7l2.2 2.2m0-2.2l-2.2 2.2M110.2 210.9l2.2 2.2m0-2.2l-2.2 2.2M105.3 209.5l2.2 2.2m0-2.2l-2.2 2.2M120.2 206.9l2.2 2.2m0-2.2l-2.2 2.2M107.6 213.6l2.2 2.2m0-2.2l-2.2 2.2M95.8 219.1l2.2 2.2m0-2.2l-2.2 2.2M110.5 217.3l2.2 2.2m0-2.2l-2.2 2.2M96.6 217.5l2.2 2.2m0-2.2l-2.2 2.2M113.4 217l2.2 2.2m0-2.2l-2.2 2.2M90.5 218l2.2 2.2m0-2.2l-2.2 2.2M83.5 217.8l2.2 2.2m0-2.2l-2.2 2.2M92.2 220.2l2.2 2.2m0-2.2l-2.2 2.2" stroke="#3DB6EE" stroke-width="1.15" fill="none"/>
<path d="M115.6 213.5h0M103.8 213.5h0M117.1 206.3h0M95.6 209.4h0M102.3 206.8h0M97.7 211.4h0M121.1 211h0M112 212.2h0M90.2 213.7h0M93 209h0M85.5 211.1h0M109.7 212.2h0M116.8 208.4h0M97.2 210.6h0M84.1 209.4h0M101.6 214.6h0M120.1 210.5h0M103.7 215.1h0M108.8 214.9h0M123.8 212.6h0M131.7 215.7h0M120.3 213h0M136.5 213.6h0M135.2 209.2h0M128.8 212.1h0M81.3 211.3h0M106.8 212.5h0M134.6 216.4h0M101.1 210.3h0M122.5 210.7h0M118.7 213.9h0M101.4 209.1h0M100.1 209.4h0M119.1 209.4h0M126.3 210.2h0M108.6 213.7h0M103 213.4h0M90.1 214.2h0M109.9 208.8h0M113.6 209.3h0M115 210.9h0M130.1 210.2h0M102.1 209h0M82.8 213.7h0M74 209.7h0M123.4 209h0M63.9 210.3h0M115.7 203.7h0M115.3 205.5h0M93.7 213.7h0M115.6 211.5h0M140.3 210.9h0M117.4 211.8h0M69.5 210.2h0M88.3 213.3h0M86 208.1h0M117.1 211.2h0M91.9 211.5h0M110.3 207.8h0M103.4 210.9h0M78.9 208.6h0M112 210.5h0M106.6 207.5h0M88.6 211h0M96.1 214.4h0M77.5 211.2h0M135 211.5h0M105.7 209.8h0M78.7 212.6h0M140.9 218.8h0M93 212.1h0M101.3 213h0M109.1 206.3h0M100.9 211.4h0M112 210.2h0M71.2 205h0M89.2 212.5h0M67 209h0M126.6 206.9h0M87.9 208h0M103.2 212.3h0M138.7 213.5h0M84.1 209.3h0M85.3 211h0M103.4 209.7h0M109.5 210.4h0M67 210.7h0M103.2 210.7h0M117 208.8h0M94.3 209.7h0M82.6 207.2h0M98 212.6h0" stroke="#19AA8D" stroke-width="2.1" stroke-linecap="square" fill="none"/>
<path d="M103.5 210.4l1.1 1.4l-1.1 1.4l-1.1-1.4zM90.6 201.6l1.1 1.4l-1.1 1.4l-1.1-1.4zM97.2 207.4l1.1 1.4l-1.1 1.4l-1.1-1.4zM78.2 208.5l1.1 1.4l-1.1 1.4l-1.1-1.4zM77.4 204.8l1.1 1.4l-1.1 1.4l-1.1-1.4zM82.5 208.1l1.1 1.4l-1.1 1.4l-1.1-1.4zM85.1 205l1.1 1.4l-1.1 1.4l-1.1-1.4zM78.6 209.2l1.1 1.4l-1.1 1.4l-1.1-1.4zM77.9 206l1.1 1.4l-1.1 1.4l-1.1-1.4zM76.3 206.8l1.1 1.4l-1.1 1.4l-1.1-1.4zM87.8 209.2l1.1 1.4l-1.1 1.4l-1.1-1.4zM107 208.3l1.1 1.4l-1.1 1.4l-1.1-1.4zM88 205.1l1.1 1.4l-1.1 1.4l-1.1-1.4zM40.7 205.2l1.1 1.4l-1.1 1.4l-1.1-1.4zM87.1 202.5l1.1 1.4l-1.1 1.4l-1.1-1.4zM97.8 204.9l1.1 1.4l-1.1 1.4l-1.1-1.4zM90.9 207.3l1.1 1.4l-1.1 1.4l-1.1-1.4zM95.4 207.7l1.1 1.4l-1.1 1.4l-1.1-1.4zM116.8 210.6l1.1 1.4l-1.1 1.4l-1.1-1.4zM87.8 207.8l1.1 1.4l-1.1 1.4l-1.1-1.4zM84 209.4l1.1 1.4l-1.1 1.4l-1.1-1.4zM82.9 208.4l1.1 1.4l-1.1 1.4l-1.1-1.4zM95.8 210.8l1.1 1.4l-1.1 1.4l-1.1-1.4zM96.2 209.2l1.1 1.4l-1.1 1.4l-1.1-1.4zM114.5 204.2l1.1 1.4l-1.1 1.4l-1.1-1.4zM107.8 205.6l1.1 1.4l-1.1 1.4l-1.1-1.4zM107.2 203.9l1.1 1.4l-1.1 1.4l-1.1-1.4zM69.2 207.7l1.1 1.4l-1.1 1.4l-1.1-1.4zM103.8 209.4l1.1 1.4l-1.1 1.4l-1.1-1.4zM81.4 211.2l1.1 1.4l-1.1 1.4l-1.1-1.4zM78.5 209.8l1.1 1.4l-1.1 1.4l-1.1-1.4zM91.1 209.7l1.1 1.4l-1.1 1.4l-1.1-1.4zM128.4 210.1l1.1 1.4l-1.1 1.4l-1.1-1.4zM76.1 208l1.1 1.4l-1.1 1.4l-1.1-1.4zM74.5 210.8l1.1 1.4l-1.1 1.4l-1.1-1.4zM104.3 207.6l1.1 1.4l-1.1 1.4l-1.1-1.4zM95.9 206l1.1 1.4l-1.1 1.4l-1.1-1.4zM100.5 207.6l1.1 1.4l-1.1 1.4l-1.1-1.4zM83.3 205.9l1.1 1.4l-1.1 1.4l-1.1-1.4zM46.1 200.3l1.1 1.4l-1.1 1.4l-1.1-1.4zM76.2 205.4l1.1 1.4l-1.1 1.4l-1.1-1.4zM86.5 205.1l1.1 1.4l-1.1 1.4l-1.1-1.4zM76.2 207.1l1.1 1.4l-1.1 1.4l-1.1-1.4zM100.1 206.6l1.1 1.4l-1.1 1.4l-1.1-1.4zM55.3 201.8l1.1 1.4l-1.1 1.4l-1.1-1.4zM77 202.4l1.1 1.4l-1.1 1.4l-1.1-1.4zM90.5 209l1.1 1.4l-1.1 1.4l-1.1-1.4zM87.3 208.7l1.1 1.4l-1.1 1.4l-1.1-1.4zM67.3 207l1.1 1.4l-1.1 1.4l-1.1-1.4zM78.8 205l1.1 1.4l-1.1 1.4l-1.1-1.4zM91.8 209.7l1.1 1.4l-1.1 1.4l-1.1-1.4zM51.6 207.3l1.1 1.4l-1.1 1.4l-1.1-1.4zM71.6 206.4l1.1 1.4l-1.1 1.4l-1.1-1.4zM82.2 209.9l1.1 1.4l-1.1 1.4l-1.1-1.4zM92.3 211.4l1.1 1.4l-1.1 1.4l-1.1-1.4zM121.6 209.4l1.1 1.4l-1.1 1.4l-1.1-1.4zM65.3 205.5l1.1 1.4l-1.1 1.4l-1.1-1.4zM59.4 206.3l1.1 1.4l-1.1 1.4l-1.1-1.4zM122.5 209.1l1.1 1.4l-1.1 1.4l-1.1-1.4zM95 203.8l1.1 1.4l-1.1 1.4l-1.1-1.4zM110.6 212.6l1.1 1.4l-1.1 1.4l-1.1-1.4zM83.4 209.6l1.1 1.4l-1.1 1.4l-1.1-1.4zM112.2 211.9l1.1 1.4l-1.1 1.4l-1.1-1.4zM106.4 208.6l1.1 1.4l-1.1 1.4l-1.1-1.4zM110.1 211.6l1.1 1.4l-1.1 1.4l-1.1-1.4zM91.2 179.4l1.1 1.4l-1.1 1.4l-1.1-1.4zM87.6 179.2l1.1 1.4l-1.1 1.4l-1.1-1.4zM63.1 182.1l1.1 1.4l-1.1 1.4l-1.1-1.4zM86 180.1l1.1 1.4l-1.1 1.4l-1.1-1.4zM88.5 176.9l1.1 1.4l-1.1 1.4l-1.1-1.4zM85.8 176.6l1.1 1.4l-1.1 1.4l-1.1-1.4zM79.7 176.2l1.1 1.4l-1.1 1.4l-1.1-1.4zM73.3 178.5l1.1 1.4l-1.1 1.4l-1.1-1.4zM96.9 177.6l1.1 1.4l-1.1 1.4l-1.1-1.4zM73.7 179.8l1.1 1.4l-1.1 1.4l-1.1-1.4zM94.6 175.5l1.1 1.4l-1.1 1.4l-1.1-1.4zM85.3 177.2l1.1 1.4l-1.1 1.4l-1.1-1.4zM87.5 178.4l1.1 1.4l-1.1 1.4l-1.1-1.4zM83 183.1l1.1 1.4l-1.1 1.4l-1.1-1.4zM72.8 179.7l1.1 1.4l-1.1 1.4l-1.1-1.4zM82.6 180.1l1.1 1.4l-1.1 1.4l-1.1-1.4zM79.9 175.7l1.1 1.4l-1.1 1.4l-1.1-1.4zM78.4 182.4l1.1 1.4l-1.1 1.4l-1.1-1.4zM79.9 181.3l1.1 1.4l-1.1 1.4l-1.1-1.4zM67.4 179l1.1 1.4l-1.1 1.4l-1.1-1.4z" stroke="#F0E250" stroke-width="0.7" fill="#F4E66A"/>
<path d="M87.5 208.1l1.35 2.4h-2.7zM69.4 203l1.35 2.4h-2.7zM121.4 212.8l1.35 2.4h-2.7zM84.6 204.6l1.35 2.4h-2.7zM81 212.2l1.35 2.4h-2.7zM47.2 206.4l1.35 2.4h-2.7zM86 202.5l1.35 2.4h-2.7zM96.6 209.7l1.35 2.4h-2.7zM100 211.2l1.35 2.4h-2.7zM61.4 206.7l1.35 2.4h-2.7zM79.6 201.6l1.35 2.4h-2.7zM55.8 206.1l1.35 2.4h-2.7zM61 209.6l1.35 2.4h-2.7zM51.5 207.5l1.35 2.4h-2.7zM74.3 203.9l1.35 2.4h-2.7zM80 205.8l1.35 2.4h-2.7zM79.9 209.7l1.35 2.4h-2.7zM82.8 206l1.35 2.4h-2.7zM87.6 206.2l1.35 2.4h-2.7zM70.8 207.2l1.35 2.4h-2.7zM55.2 210.2l1.35 2.4h-2.7zM65.1 205.9l1.35 2.4h-2.7zM78.1 209.9l1.35 2.4h-2.7zM72.1 202.2l1.35 2.4h-2.7zM98.2 206.6l1.35 2.4h-2.7zM79 212.7l1.35 2.4h-2.7zM59.9 207.6l1.35 2.4h-2.7zM65 207.4l1.35 2.4h-2.7zM85.4 205.6l1.35 2.4h-2.7zM93.1 205.4l1.35 2.4h-2.7zM58.6 205.7l1.35 2.4h-2.7zM84.3 208.8l1.35 2.4h-2.7zM99.1 207.4l1.35 2.4h-2.7zM107.4 207.2l1.35 2.4h-2.7zM62.2 201.8l1.35 2.4h-2.7zM99 210.2l1.35 2.4h-2.7zM78.5 205.9l1.35 2.4h-2.7zM81.9 202.6l1.35 2.4h-2.7zM85 210.9l1.35 2.4h-2.7zM64.8 204.7l1.35 2.4h-2.7zM74.7 207.1l1.35 2.4h-2.7zM70.1 204.9l1.35 2.4h-2.7zM75.1 202.4l1.35 2.4h-2.7zM89.5 208.5l1.35 2.4h-2.7zM69.1 208.8l1.35 2.4h-2.7zM85.9 203.6l1.35 2.4h-2.7zM52.9 203.1l1.35 2.4h-2.7zM73.9 205.1l1.35 2.4h-2.7zM49.9 204.7l1.35 2.4h-2.7zM71.3 207.9l1.35 2.4h-2.7zM80.3 209.2l1.35 2.4h-2.7zM59.2 209.2l1.35 2.4h-2.7zM77.6 210.3l1.35 2.4h-2.7zM76 207.6l1.35 2.4h-2.7zM81.3 203.4l1.35 2.4h-2.7zM93.4 208.9l1.35 2.4h-2.7zM82.4 206.7l1.35 2.4h-2.7zM96.2 208.5l1.35 2.4h-2.7zM65.2 206.9l1.35 2.4h-2.7zM74.2 206l1.35 2.4h-2.7zM61 202.4l1.35 2.4h-2.7zM95.7 207.1l1.35 2.4h-2.7zM65.7 182.9l1.35 2.4h-2.7zM77.2 176.7l1.35 2.4h-2.7zM113.2 175.2l1.35 2.4h-2.7zM92.1 178.4l1.35 2.4h-2.7zM64.7 174.5l1.35 2.4h-2.7zM62.9 182.9l1.35 2.4h-2.7zM82.8 174.1l1.35 2.4h-2.7zM96.6 175.9l1.35 2.4h-2.7zM89.1 179.6l1.35 2.4h-2.7zM80 170.8l1.35 2.4h-2.7zM55.9 182.2l1.35 2.4h-2.7zM95.3 180.8l1.35 2.4h-2.7zM74 172.9l1.35 2.4h-2.7zM61.7 176.2l1.35 2.4h-2.7zM57.3 171.7l1.35 2.4h-2.7zM75.5 179.6l1.35 2.4h-2.7zM77.5 174.2l1.35 2.4h-2.7zM52.3 178.6l1.35 2.4h-2.7zM70.2 174.2l1.35 2.4h-2.7zM76.3 176.8l1.35 2.4h-2.7zM43 177l1.35 2.4h-2.7zM98.4 171.2l1.35 2.4h-2.7zM75.4 177.4l1.35 2.4h-2.7zM63.2 172l1.35 2.4h-2.7zM44.6 175.3l1.35 2.4h-2.7zM107.8 175l1.35 2.4h-2.7zM102.1 175l1.35 2.4h-2.7zM43 175.5l1.35 2.4h-2.7zM76.1 180l1.35 2.4h-2.7zM82 182.9l1.35 2.4h-2.7zM79.7 176.1l1.35 2.4h-2.7zM81.9 176.1l1.35 2.4h-2.7zM45.5 174.9l1.35 2.4h-2.7zM74.6 177.8l1.35 2.4h-2.7zM63.4 170.8l1.35 2.4h-2.7zM81.1 174.1l1.35 2.4h-2.7zM113.2 175l1.35 2.4h-2.7zM84.6 175.8l1.35 2.4h-2.7zM113.2 177.8l1.35 2.4h-2.7zM76.7 178.8l1.35 2.4h-2.7zM62.3 176.3l1.35 2.4h-2.7zM81.1 173.7l1.35 2.4h-2.7zM67.1 170.8l1.35 2.4h-2.7zM94.5 175.8l1.35 2.4h-2.7zM82.6 179l1.35 2.4h-2.7z" stroke="#1E8CD2" stroke-width="0.6" fill="#1E8CD2" stroke-linejoin="round"/>
<path d="M80.3 202.8h0M79.4 210.8h0M83.2 210.7h0M43.5 206.4h0M63.3 206.6h0M78.9 203.6h0M65 202.4h0M62.1 203.9h0M70.8 204.1h0M70.8 211.8h0M78 207.6h0M77.3 204.5h0M71.1 204.5h0M71.2 210.5h0M70.6 206.5h0M58.6 209h0M56.2 163.6h0M58.4 165.6h0M60.8 169.5h0M53.6 177h0M48.5 174.1h0M57.4 168.8h0M70.1 170.6h0M78.2 162.6h0M72.9 168.4h0M66.1 167.1h0M63 170.3h0M78 175.4h0M79.2 170.5h0M52.3 170.2h0M82 180.7h0M57 176.2h0M72.8 167.3h0M70 171.6h0M60.9 173h0M81.3 176.8h0M61.4 173.4h0M71.9 167.7h0M62 169.1h0M71 172h0M70.3 161.9h0M71.3 171.3h0M85.4 172.8h0M71.9 164.7h0M63 178h0M44 168.6h0M69.6 176.8h0M61 172.4h0M66.9 175.7h0M59 169.1h0M77 170.5h0M81.3 169.5h0M88 169.4h0M78.9 163h0M61.8 162h0M74.9 167.9h0M59.4 167.8h0M71.3 170.5h0M73.9 176.1h0M61.7 167h0M74.5 172.3h0M67.3 166.3h0M61.2 178.6h0M83.1 157.6h0M98.3 177.4h0M73.9 169h0M81 166h0M71.1 177.2h0M71.5 174.9h0M89.4 179.7h0M60.8 175.7h0M76.8 180.7h0M63.9 168.4h0M77.5 169.7h0M67.6 171.5h0M78.6 165.3h0M57.9 163.9h0M72.8 171.9h0M86.4 172.6h0M62.3 172.7h0M67.7 174.2h0M81.6 163.6h0M75.2 169.8h0M82.7 172.9h0M48 171.7h0M74.8 169h0M58.9 173h0M56.5 169.1h0M73.6 170.6h0M76.5 162.3h0M53.7 164.4h0M56.3 176.5h0M60.5 170.1h0M68.9 167.2h0M53.1 171.5h0M88.6 165.5h0M75 168.7h0M70.8 169.1h0M64.2 170.7h0M93.2 169.2h0M90.7 167.6h0M68.1 178.7h0M69.3 173.7h0M84.5 176.3h0M54.2 161h0M67.1 170.1h0M84.1 169.1h0M62.1 169.4h0M68.8 174.1h0M58.3 174.7h0M55 164h0M74.9 171.8h0M58.4 161.8h0M57.3 169.7h0M56.7 167.8h0M90.1 172.6h0M66.9 169.4h0M59.9 168.9h0M76.1 164.8h0M67.8 157.1h0M68.6 175.4h0M52.1 169.3h0M69.3 166h0M66.4 174.5h0" stroke="#F55F0A" stroke-width="2.35" stroke-linecap="round" fill="none"/>
</g>
<g clip-path="url(#c21)">
<path d="M270.8 209h0M260.6 210.3h0M253.5 207.7h0M262.7 212.4h0M262.4 211.6h0M255.3 211.3h0M259.1 214.1h0M263.7 209.6h0M265.6 210.1h0M269.1 213h0M264.8 210h0M258.9 216.3h0M259.5 207.4h0M265.6 210.4h0M266.7 216.2h0M267.7 213h0M258.7 210.3h0M260.6 208.4h0M266.9 206.9h0M268.2 210.6h0M270.3 214.7h0M254.8 213.7h0M271.7 207.9h0M267.3 207.2h0M265.1 212h0M265.6 211.1h0M256.5 212.1h0M255.7 207.8h0M263.8 214.2h0M277.4 214.5h0M259 212.8h0M269.4 211h0M265.2 218.7h0M260.3 209.8h0M267.9 209.2h0M259.5 214.1h0M263 211.4h0M263.1 210.3h0M260 212h0M273.4 206.8h0M265.9 209.9h0M264.4 215.9h0M264.2 212.5h0M265.1 210.9h0M262.6 212.8h0M201.1 220.5h0M206.1 219h0M195 220.3h0M209.6 220h0M210.4 221.8h0M191 218.4h0M195.8 218.7h0M199.8 219.9h0" stroke="#262626" stroke-width="1.3" stroke-linecap="round" fill="none"/>
<path d="M269.6 216.3h2.6M270.9 215v2.6M263 214.6h2.6M264.3 213.3v2.6M263.8 216.9h2.6M265.1 215.6v2.6M266.9 216.5h2.6M268.2 215.2v2.6M275.6 217h2.6M276.9 215.7v2.6M259.5 212.2h2.6M260.8 210.9v2.6M268 211.3h2.6M269.3 210v2.6M266 212.9h2.6M267.3 211.6v2.6M264.2 216.1h2.6M265.5 214.8v2.6M271.4 214.4h2.6M272.7 213.1v2.6M266.1 215.3h2.6M267.4 214v2.6M261.6 216.5h2.6M262.9 215.2v2.6M262 210.4h2.6M263.3 209.1v2.6M272.1 215.8h2.6M273.4 214.5v2.6M268.9 214.5h2.6M270.2 213.2v2.6M262.4 217.5h2.6M263.7 216.2v2.6M264.9 210h2.6M266.2 208.7v2.6M270.1 210.9h2.6M271.4 209.6v2.6M264.7 210.4h2.6M266 209.1v2.6M263.6 211.3h2.6M264.9 210v2.6M263.9 210.9h2.6M265.2 209.6v2.6M266.6 215.7h2.6M267.9 214.4v2.6M260.9 212.6h2.6M262.2 211.3v2.6M263.3 212.6h2.6M264.6 211.3v2.6M266.9 212.7h2.6M268.2 211.4v2.6M267.4 212.6h2.6M268.7 211.3v2.6M263.2 209.8h2.6M264.5 208.5v2.6M268.4 214.7h2.6M269.7 213.4v2.6M268 216.5h2.6M269.3 215.2v2.6M258.8 214.5h2.6M260.1 213.2v2.6M261 210h2.6M262.3 208.7v2.6M268.4 214.3h2.6M269.7 213v2.6M261 212.6h2.6M262.3 211.3v2.6M263.2 211.1h2.6M264.5 209.8v2.6M262.2 213.8h2.6M263.5 212.5v2.6M267.3 215.4h2.6M268.6 214.1v2.6M273 219.4h2.6M274.3 218.1v2.6M269.8 212.7h2.6M271.1 211.4v2.6M271.1 213.3h2.6M272.4 212v2.6M273.1 212.7h2.6M274.4 211.4v2.6M267.6 214.5h2.6M268.9 213.2v2.6M263.5 219.4h2.6M264.8 218.1v2.6M265.6 210.8h2.6M266.9 209.5v2.6M254.4 213.9h2.6M255.7 212.6v2.6M275.8 211.1h2.6M277.1 209.8v2.6M269.5 212.9h2.6M270.8 211.6v2.6M267.8 217h2.6M269.1 215.7v2.6M268.4 212.7h2.6M269.7 211.4v2.6M266.6 211.5h2.6M267.9 210.2v2.6M263.8 209.6h2.6M265.1 208.3v2.6M268.6 215.6h2.6M269.9 214.3v2.6M268 213.2h2.6M269.3 211.9v2.6M266.2 211.6h2.6M267.5 210.3v2.6M264 213h2.6M265.3 211.7v2.6M274.4 212.5h2.6M275.7 211.2v2.6M263 212.6h2.6M264.3 211.3v2.6M266.5 213.7h2.6M267.8 212.4v2.6M264.1 209.4h2.6M265.4 208.1v2.6M269.7 214.3h2.6M271 213v2.6M271.4 214.6h2.6M272.7 213.3v2.6M259.7 214.2h2.6M261 212.9v2.6M267.3 215.2h2.6M268.6 213.9v2.6M277 215.9h2.6M278.3 214.6v2.6M264.2 215.2h2.6M265.5 213.9v2.6M269.1 215.7h2.6M270.4 214.4v2.6M265 212.7h2.6M266.3 211.4v2.6M267.4 210.1h2.6M268.7 208.8v2.6M263 212.9h2.6M264.3 211.6v2.6M272 209.4h2.6M273.3 208.1v2.6M269.5 218.3h2.6M270.8 217v2.6M192.7 217.6h2.6M194 216.3v2.6M192.2 217h2.6M193.5 215.7v2.6M200.7 220.5h2.6M202 219.2v2.6M197.3 220.5h2.6M198.6 219.2v2.6M202.1 220.3h2.6M203.4 219v2.6M181.8 221.6h2.6M183.1 220.3v2.6M192.9 223h2.6M194.2 221.7v2.6M194 220.7h2.6M195.3 219.4v2.6M195.4 219.7h2.6M196.7 218.4v2.6M196.8 220.3h2.6M198.1 219v2.6M188.5 223.5h2.6M189.8 222.2v2.6M187.7 218h2.6M189 216.7v2.6M193.9 217.7h2.6M195.2 216.4v2.6M198.9 217.5h2.6M200.2 216.2v2.6M196.7 219h2.6M198 217.7v2.6M194.7 218.2h2.6M196 216.9v2.6M167.5 222.2h2.6M168.8 220.9v2.6M174 222.1h2.6M175.3 220.8v2.6M169.6 220.9h2.6M170.9 219.6v2.6M166.6 221.1h2.6M167.9 219.8v2.6" stroke="#F7A11A" stroke-width="1.15" fill="none"/>
<path d="M277.2 209.7l2.2 2.2m0-2.2l-2.2 2.2M251.2 208.7l2.2 2.2m0-2.2l-2.2 2.2M270 210.8l2.2 2.2m0-2.2l-2.2 2.2M273.9 210.9l2.2 2.2m0-2.2l-2.2 2.2M256.9 210.4l2.2 2.2m0-2.2l-2.2 2.2M271.8 213.7l2.2 2.2m0-2.2l-2.2 2.2M260.3 211.4l2.2 2.2m0-2.2l-2.2 2.2M261.6 211l2.2 2.2m0-2.2l-2.2 2.2M273 211.1l2.2 2.2m0-2.2l-2.2 2.2M272.8 210l2.2 2.2m0-2.2l-2.2 2.2M259.9 214.1l2.2 2.2m0-2.2l-2.2 2.2M267.7 212.5l2.2 2.2m0-2.2l-2.2 2.2M267 209.3l2.2 2.2m0-2.2l-2.2 2.2M268.7 210.9l2.2 2.2m0-2.2l-2.2 2.2M274.3 213.2l2.2 2.2m0-2.2l-2.2 2.2M269.5 207.8l2.2 2.2m0-2.2l-2.2 2.2M256.9 213.4l2.2 2.2m0-2.2l-2.2 2.2M272.6 211l2.2 2.2m0-2.2l-2.2 2.2M260.4 213.9l2.2 2.2m0-2.2l-2.2 2.2M268 209.3l2.2 2.2m0-2.2l-2.2 2.2M262.7 211.9l2.2 2.2m0-2.2l-2.2 2.2M271.9 208.2l2.2 2.2m0-2.2l-2.2 2.2M264.7 209.2l2.2 2.2m0-2.2l-2.2 2.2M273.7 212.6l2.2 2.2m0-2.2l-2.2 2.2M269.5 210.2l2.2 2.2m0-2.2l-2.2 2.2M256.6 213.1l2.2 2.2m0-2.2l-2.2 2.2M258.1 214.6l2.2 2.2m0-2.2l-2.2 2.2M260 209.7l2.2 2.2m0-2.2l-2.2 2.2M273.4 211.5l2.2 2.2m0-2.2l-2.2 2.2M260.2 210.5l2.2 2.2m0-2.2l-2.2 2.2M269.4 215.2l2.2 2.2m0-2.2l-2.2 2.2M261.3 210.4l2.2 2.2m0-2.2l-2.2 2.2M256.2 211.5l2.2 2.2m0-2.2l-2.2 2.2M268.3 206.8l2.2 2.2m0-2.2l-2.2 2.2M266.6 211.6l2.2 2.2m0-2.2l-2.2 2.2M258.7 209.9l2.2 2.2m0-2.2l-2.2 2.2M275.4 207.7l2.2 2.2m0-2.2l-2.2 2.2M266.3 210.7l2.2 2.2m0-2.2l-2.2 2.2M267.9 207.1l2.2 2.2m0-2.2l-2.2 2.2M257.8 214l2.2 2.2m0-2.2l-2.2 2.2M266.8 213.8l2.2 2.2m0-2.2l-2.2 2.2M275.5 213.6l2.2 2.2m0-2.2l-2.2 2.2M273 214.5l2.2 2.2m0-2.2l-2.2 2.2M269.1 210.6l2.2 2.2m0-2.2l-2.2 2.2M263.8 210.4l2.2 2.2m0-2.2l-2.2 2.2M265.8 209l2.2 2.2m0-2.2l-2.2 2.2M267.8 209.6l2.2 2.2m0-2.2l-2.2 2.2M259 209.9l2.2 2.2m0-2.2l-2.2 2.2M273.1 213.5l2.2 2.2m0-2.2l-2.2 2.2M271.9 211.8l2.2 2.2m0-2.2l-2.2 2.2M257 207.9l2.2 2.2m0-2.2l-2.2 2.2M259.5 210.2l2.2 2.2m0-2.2l-2.2 2.2M259 209.5l2.2 2.2m0-2.2l-2.2 2.2M260.7 212.1l2.2 2.2m0-2.2l-2.2 2.2M263.7 210.7l2.2 2.2m0-2.2l-2.2 2.2M264.2 212.9l2.2 2.2m0-2.2l-2.2 2.2M264.9 213.3l2.2 2.2m0-2.2l-2.2 2.2M264.1 207.7l2.2 2.2m0-2.2l-2.2 2.2M268 210.9l2.2 2.2m0-2.2l-2.2 2.2M263.8 209.5l2.2 2.2m0-2.2l-2.2 2.2M264.9 206.9l2.2 2.2m0-2.2l-2.2 2.2M269.9 213.6l2.2 2.2m0-2.2l-2.2 2.2M199.3 219.1l2.2 2.2m0-2.2l-2.2 2.2M188.9 217.3l2.2 2.2m0-2.2l-2.2 2.2M200.4 217.5l2.2 2.2m0-2.2l-2.2 2.2M192.1 217l2.2 2.2m0-2.2l-2.2 2.2M197.2 218l2.2 2.2m0-2.2l-2.2 2.2M197.2 217.8l2.2 2.2m0-2.2l-2.2 2.2M202.8 220.2l2.2 2.2m0-2.2l-2.2 2.2" stroke="#3DB6EE" stroke-width="1.15" fill="none"/>
<path d="M257.3 213.5h0M264.9 213.5h0M254.8 206.3h0M249.7 209.4h0M258.5 206.8h0M266.4 211.4h0M269.1 211h0M257.2 212.2h0M263.1 213.7h0M253.8 209h0M252.5 211.1h0M259.4 212.2h0M247.3 208.4h0M265.9 210.6h0M248.9 209.4h0M266 214.6h0M258.1 210.5h0M247.1 215.1h0M259.9 214.9h0M253.2 212.6h0M251.3 215.7h0M256.2 213h0M249.9 213.6h0M268.7 209.2h0M245.7 212.1h0M253.9 211.3h0M259.6 212.5h0M265 216.4h0M270.7 210.3h0M261 210.7h0M259.2 213.9h0M263.7 209.1h0M273.2 209.4h0M258.4 209.4h0M259.9 210.2h0M264.6 213.7h0M247.9 213.4h0M264.4 214.2h0M266.7 208.8h0M257.8 209.3h0M257.6 210.9h0M254.3 210.2h0M260.8 209h0M258.2 213.7h0M252.5 209.7h0M259.9 209h0M255.7 210.3h0M250.3 203.7h0M260.3 205.5h0M259 213.7h0M260.1 211.5h0M252.2 210.9h0M253.3 211.8h0M251.6 210.2h0M245.7 213.3h0M253.4 208.1h0M252.7 211.2h0M263.3 211.5h0M262.6 207.8h0M250.7 210.9h0M258.4 208.6h0M263.4 210.5h0M257.2 207.5h0M265.6 211h0M258 214.4h0M270.7 211.2h0M257.4 211.5h0M255.7 209.8h0M247.3 212.6h0M260.5 218.8h0M256.2 212.1h0M251.1 213h0M257.7 206.3h0M252.2 211.4h0M257.1 210.2h0M245.4 205h0M247.9 212.5h0M256.2 209h0M257.3 206.9h0M259.7 208h0M254.9 212.3h0M267 213.5h0M256.7 209.3h0M259.2 211h0M256.9 209.7h0M254 210.4h0M260.9 210.7h0M257.5 210.7h0M247.6 208.8h0M261.9 209.7h0M265.5 207.2h0M259.4 212.6h0" stroke="#19AA8D" stroke-width="2.1" stroke-linecap="square" fill="none"/>
<path d="M268.9 210.4l1.1 1.4l-1.1 1.4l-1.1-1.4zM263.5 201.6l1.1 1.4l-1.1 1.4l-1.1-1.4zM258.4 207.4l1.1 1.4l-1.1 1.4l-1.1-1.4zM260.4 208.5l1.1 1.4l-1.1 1.4l-1.1-1.4zM270.2 204.8l1.1 1.4l-1.1 1.4l-1.1-1.4zM254.3 208.1l1.1 1.4l-1.1 1.4l-1.1-1.4zM259.2 205l1.1 1.4l-1.1 1.4l-1.1-1.4zM257.8 209.2l1.1 1.4l-1.1 1.4l-1.1-1.4zM259.3 206l1.1 1.4l-1.1 1.4l-1.1-1.4zM256.7 206.8l1.1 1.4l-1.1 1.4l-1.1-1.4zM259.5 209.2l1.1 1.4l-1.1 1.4l-1.1-1.4zM262.7 208.3l1.1 1.4l-1.1 1.4l-1.1-1.4zM261.8 205.1l1.1 1.4l-1.1 1.4l-1.1-1.4zM258.9 205.2l1.1 1.4l-1.1 1.4l-1.1-1.4zM274.9 202.5l1.1 1.4l-1.1 1.4l-1.1-1.4zM252.2 204.9l1.1 1.4l-1.1 1.4l-1.1-1.4zM263.8 207.3l1.1 1.4l-1.1 1.4l-1.1-1.4zM258.8 207.7l1.1 1.4l-1.1 1.4l-1.1-1.4zM249.1 210.6l1.1 1.4l-1.1 1.4l-1.1-1.4zM263.3 207.8l1.1 1.4l-1.1 1.4l-1.1-1.4zM269.5 209.4l1.1 1.4l-1.1 1.4l-1.1-1.4zM257.6 208.4l1.1 1.4l-1.1 1.4l-1.1-1.4zM264.6 210.8l1.1 1.4l-1.1 1.4l-1.1-1.4zM248.9 209.2l1.1 1.4l-1.1 1.4l-1.1-1.4zM255.2 204.2l1.1 1.4l-1.1 1.4l-1.1-1.4zM263.5 205.6l1.1 1.4l-1.1 1.4l-1.1-1.4zM268.5 203.9l1.1 1.4l-1.1 1.4l-1.1-1.4zM245.4 207.7l1.1 1.4l-1.1 1.4l-1.1-1.4zM261 209.4l1.1 1.4l-1.1 1.4l-1.1-1.4zM262.6 211.2l1.1 1.4l-1.1 1.4l-1.1-1.4zM259.4 209.8l1.1 1.4l-1.1 1.4l-1.1-1.4zM253.5 209.7l1.1 1.4l-1.1 1.4l-1.1-1.4zM257.8 210.1l1.1 1.4l-1.1 1.4l-1.1-1.4zM245.9 208l1.1 1.4l-1.1 1.4l-1.1-1.4zM260.3 210.8l1.1 1.4l-1.1 1.4l-1.1-1.4zM263.1 207.6l1.1 1.4l-1.1 1.4l-1.1-1.4zM257.6 206l1.1 1.4l-1.1 1.4l-1.1-1.4zM252.7 207.6l1.1 1.4l-1.1 1.4l-1.1-1.4zM253.8 205.9l1.1 1.4l-1.1 1.4l-1.1-1.4zM264.6 200.3l1.1 1.4l-1.1 1.4l-1.1-1.4zM260.7 205.4l1.1 1.4l-1.1 1.4l-1.1-1.4zM253.8 205.1l1.1 1.4l-1.1 1.4l-1.1-1.4zM258.1 207.1l1.1 1.4l-1.1 1.4l-1.1-1.4zM264.9 206.6l1.1 1.4l-1.1 1.4l-1.1-1.4zM263.9 201.8l1.1 1.4l-1.1 1.4l-1.1-1.4zM260 202.4l1.1 1.4l-1.1 1.4l-1.1-1.4zM264.4 209l1.1 1.4l-1.1 1.4l-1.1-1.4zM259.4 208.7l1.1 1.4l-1.1 1.4l-1.1-1.4zM255.4 207l1.1 1.4l-1.1 1.4l-1.1-1.4zM262.7 205l1.1 1.4l-1.1 1.4l-1.1-1.4zM260.4 209.7l1.1 1.4l-1.1 1.4l-1.1-1.4zM259.6 207.3l1.1 1.4l-1.1 1.4l-1.1-1.4zM258.9 206.4l1.1 1.4l-1.1 1.4l-1.1-1.4zM259.3 209.9l1.1 1.4l-1.1 1.4l-1.1-1.4zM266.7 211.4l1.1 1.4l-1.1 1.4l-1.1-1.4zM257.2 209.4l1.1 1.4l-1.1 1.4l-1.1-1.4zM259.6 205.5l1.1 1.4l-1.1 1.4l-1.1-1.4zM261.8 206.3l1.1 1.4l-1.1 1.4l-1.1-1.4zM258.6 209.1l1.1 1.4l-1.1 1.4l-1.1-1.4zM261.3 203.8l1.1 1.4l-1.1 1.4l-1.1-1.4zM259.3 212.6l1.1 1.4l-1.1 1.4l-1.1-1.4zM261.1 209.6l1.1 1.4l-1.1 1.4l-1.1-1.4zM262.9 211.9l1.1 1.4l-1.1 1.4l-1.1-1.4zM263.8 208.6l1.1 1.4l-1.1 1.4l-1.1-1.4zM259.4 211.6l1.1 1.4l-1.1 1.4l-1.1-1.4zM215.1 179.4l1.1 1.4l-1.1 1.4l-1.1-1.4zM220.2 179.2l1.1 1.4l-1.1 1.4l-1.1-1.4zM225.9 182.1l1.1 1.4l-1.1 1.4l-1.1-1.4zM219.1 180.1l1.1 1.4l-1.1 1.4l-1.1-1.4zM219.6 176.9l1.1 1.4l-1.1 1.4l-1.1-1.4zM222.9 176.6l1.1 1.4l-1.1 1.4l-1.1-1.4zM220.8 176.2l1.1 1.4l-1.1 1.4l-1.1-1.4zM219.9 178.5l1.1 1.4l-1.1 1.4l-1.1-1.4zM220.5 177.6l1.1 1.4l-1.1 1.4l-1.1-1.4zM216.4 179.8l1.1 1.4l-1.1 1.4l-1.1-1.4zM217.7 175.5l1.1 1.4l-1.1 1.4l-1.1-1.4zM226.5 177.2l1.1 1.4l-1.1 1.4l-1.1-1.4zM225 178.4l1.1 1.4l-1.1 1.4l-1.1-1.4zM220.9 183.1l1.1 1.4l-1.1 1.4l-1.1-1.4zM227.4 179.7l1.1 1.4l-1.1 1.4l-1.1-1.4zM219.4 180.1l1.1 1.4l-1.1 1.4l-1.1-1.4zM211.3 175.7l1.1 1.4l-1.1 1.4l-1.1-1.4zM220.6 182.4l1.1 1.4l-1.1 1.4l-1.1-1.4zM223.8 181.3l1.1 1.4l-1.1 1.4l-1.1-1.4zM211.6 179l1.1 1.4l-1.1 1.4l-1.1-1.4z" stroke="#F0E250" stroke-width="0.7" fill="#F4E66A"/>
<path d="M255.3 208.1l1.35 2.4h-2.7zM254.7 203l1.35 2.4h-2.7zM270.2 212.8l1.35 2.4h-2.7zM270.5 204.6l1.35 2.4h-2.7zM265 212.2l1.35 2.4h-2.7zM272 206.4l1.35 2.4h-2.7zM254.4 202.5l1.35 2.4h-2.7zM272.7 209.7l1.35 2.4h-2.7zM263.8 211.2l1.35 2.4h-2.7zM268.7 206.7l1.35 2.4h-2.7zM270.3 201.6l1.35 2.4h-2.7zM270.1 206.1l1.35 2.4h-2.7zM254.9 209.6l1.35 2.4h-2.7zM259.1 207.5l1.35 2.4h-2.7zM262.7 203.9l1.35 2.4h-2.7zM257.8 205.8l1.35 2.4h-2.7zM260.9 209.7l1.35 2.4h-2.7zM269.1 206l1.35 2.4h-2.7zM260.9 206.2l1.35 2.4h-2.7zM269 207.2l1.35 2.4h-2.7zM260.6 210.2l1.35 2.4h-2.7zM271.4 205.9l1.35 2.4h-2.7zM261.1 209.9l1.35 2.4h-2.7zM276.2 202.2l1.35 2.4h-2.7zM257.8 206.6l1.35 2.4h-2.7zM266.6 212.7l1.35 2.4h-2.7zM267.7 207.6l1.35 2.4h-2.7zM264.6 207.4l1.35 2.4h-2.7zM263.5 205.6l1.35 2.4h-2.7zM264.8 205.4l1.35 2.4h-2.7zM257.2 205.7l1.35 2.4h-2.7zM266 208.8l1.35 2.4h-2.7zM269 207.4l1.35 2.4h-2.7zM259.6 207.2l1.35 2.4h-2.7zM259.3 201.8l1.35 2.4h-2.7zM257.3 210.2l1.35 2.4h-2.7zM265.4 205.9l1.35 2.4h-2.7zM267.1 202.6l1.35 2.4h-2.7zM253.5 210.9l1.35 2.4h-2.7zM264.7 204.7l1.35 2.4h-2.7zM260.8 207.1l1.35 2.4h-2.7zM265.1 204.9l1.35 2.4h-2.7zM264.3 202.4l1.35 2.4h-2.7zM263.8 208.5l1.35 2.4h-2.7zM263.5 208.8l1.35 2.4h-2.7zM262.7 203.6l1.35 2.4h-2.7zM260.2 203.1l1.35 2.4h-2.7zM268.9 205.1l1.35 2.4h-2.7zM258.8 204.7l1.35 2.4h-2.7zM262.4 207.9l1.35 2.4h-2.7zM255.7 209.2l1.35 2.4h-2.7zM259.8 209.2l1.35 2.4h-2.7zM262.9 210.3l1.35 2.4h-2.7zM265.3 207.6l1.35 2.4h-2.7zM264.2 203.4l1.35 2.4h-2.7zM265.6 208.9l1.35 2.4h-2.7zM264.7 206.7l1.35 2.4h-2.7zM258.4 208.5l1.35 2.4h-2.7zM255.2 206.9l1.35 2.4h-2.7zM260.6 206l1.35 2.4h-2.7zM261.1 202.4l1.35 2.4h-2.7zM256.7 207.1l1.35 2.4h-2.7zM214.8 182.9l1.35 2.4h-2.7zM217 176.7l1.35 2.4h-2.7zM218.6 175.2l1.35 2.4h-2.7zM215.7 178.4l1.35 2.4h-2.7zM220.2 174.5l1.35 2.4h-2.7zM219.4 182.9l1.35 2.4h-2.7zM219.2 174.1l1.35 2.4h-2.7zM215 175.9l1.35 2.4h-2.7zM226.1 179.6l1.35 2.4h-2.7zM219.4 170.8l1.35 2.4h-2.7zM213.8 182.2l1.35 2.4h-2.7zM212 180.8l1.35 2.4h-2.7zM213.3 172.9l1.35 2.4h-2.7zM215.5 176.2l1.35 2.4h-2.7zM217.3 171.7l1.35 2.4h-2.7zM217.7 179.6l1.35 2.4h-2.7zM218.7 174.2l1.35 2.4h-2.7zM220.6 178.6l1.35 2.4h-2.7zM212.7 174.2l1.35 2.4h-2.7zM216.1 176.8l1.35 2.4h-2.7zM212.7 177l1.35 2.4h-2.7zM212.3 171.2l1.35 2.4h-2.7zM214.7 177.4l1.35 2.4h-2.7zM217.3 172l1.35 2.4h-2.7zM216.8 175.3l1.35 2.4h-2.7zM217.7 175l1.35 2.4h-2.7zM216.1 175l1.35 2.4h-2.7zM209.9 175.5l1.35 2.4h-2.7zM207.5 180l1.35 2.4h-2.7zM224.2 182.9l1.35 2.4h-2.7zM226.5 176.1l1.35 2.4h-2.7zM223.7 176.1l1.35 2.4h-2.7zM221.1 174.9l1.35 2.4h-2.7zM217.8 177.8l1.35 2.4h-2.7zM214.2 170.8l1.35 2.4h-2.7zM212.3 174.1l1.35 2.4h-2.7zM217.5 175l1.35 2.4h-2.7zM224.8 175.8l1.35 2.4h-2.7zM222.7 177.8l1.35 2.4h-2.7zM226.3 178.8l1.35 2.4h-2.7zM225.8 176.3l1.35 2.4h-2.7zM215 173.7l1.35 2.4h-2.7zM222.5 170.8l1.35 2.4h-2.7zM210.5 175.8l1.35 2.4h-2.7zM218.1 179l1.35 2.4h-2.7z" stroke="#1E8CD2" stroke-width="0.6" fill="#1E8CD2" stroke-linejoin="round"/>
<path d="M261.6 202.8h0M272 210.8h0M273.8 210.7h0M262.1 206.4h0M266.4 206.6h0M262.7 203.6h0M270.1 202.4h0M274.7 203.9h0M269 204.1h0M276.3 211.8h0M269.9 207.6h0M264.6 204.5h0M267.3 204.5h0M271.2 210.5h0M267.6 206.5h0M278.3 209h0M219.6 163.6h0M206.1 165.6h0M220.8 169.5h0M211.4 177h0M203.9 174.1h0M222.5 168.8h0M211.2 170.6h0M216.7 162.6h0M213.4 168.4h0M221.1 167.1h0M221.1 170.3h0M221.2 175.4h0M218.7 170.5h0M204.5 170.2h0M204 180.7h0M215.6 176.2h0M208.5 167.3h0M217.2 171.6h0M215.4 173h0M205.7 176.8h0M208 173.4h0M207.4 167.7h0M208.9 169.1h0M213.1 172h0M218.5 161.9h0M222.5 171.3h0M208.4 172.8h0M210.9 164.7h0M223.9 178h0M219.8 168.6h0M215.8 176.8h0M199.9 172.4h0M208.1 175.7h0M215.3 169.1h0M210.7 170.5h0M226.5 169.5h0M214.9 169.4h0M216.1 163h0M207.6 162h0M207.9 167.9h0M210.2 167.8h0M210.5 170.5h0M212.9 176.1h0M216.6 167h0M215.8 172.3h0M220.5 166.3h0M206 178.6h0M215.6 157.6h0M215.8 177.4h0M224.1 169h0M213 166h0M216.3 177.2h0M209.3 174.9h0M216.9 179.7h0M216.8 175.7h0M210.4 180.7h0M211.6 168.4h0M214.1 169.7h0M217.9 171.5h0M207.2 165.3h0M219.7 163.9h0M212.3 171.9h0M226 172.6h0M223.3 172.7h0M211.8 174.2h0M210.5 163.6h0M229.4 169.8h0M218.2 172.9h0M217.8 171.7h0M211.7 169h0M213.5 173h0M219.3 169.1h0M218.1 170.6h0M209.2 162.3h0M222 164.4h0M216.2 176.5h0M208.5 170.1h0M220.4 167.2h0M213.2 171.5h0M219.1 165.5h0M210.9 168.7h0M216.5 169.1h0M204.3 170.7h0M216.6 169.2h0M205 167.6h0M215.3 178.7h0M198.7 173.7h0M213.9 176.3h0M218.8 161h0M217.3 170.1h0M221.7 169.1h0M207.7 169.4h0M224 174.1h0M224.2 174.7h0M206.9 164h0M209.4 171.8h0M210.8 161.8h0M214.2 169.7h0M215.5 167.8h0M199.2 172.6h0M218 169.4h0M212.7 168.9h0M208.1 164.8h0M220.1 157.1h0M212.2 175.4h0M221.3 169.3h0M217.6 166h0M212.3 174.5h0" stroke="#F55F0A" stroke-width="2.35" stroke-linecap="round" fill="none"/>
</g>
<g clip-path="url(#c23)">
<path d="M427.1 209h0M428.1 210.3h0M428 207.7h0M429.3 212.4h0M429.8 211.6h0M426.8 211.3h0M426.5 214.1h0M427.7 209.6h0M427.6 210.1h0M426.5 213h0M426.7 210h0M428.5 216.3h0M430.1 207.4h0M426.8 210.4h0M429 216.2h0M428.2 213h0M428 210.3h0M429.6 208.4h0M432.2 206.9h0M428.1 210.6h0M429.5 214.7h0M426.7 213.7h0M427.8 207.9h0M429.2 207.2h0M427.8 212h0M428.1 211.1h0M430.9 212.1h0M429.4 207.8h0M427 214.2h0M426.8 214.5h0M427.5 212.8h0M430.3 211h0M427 218.7h0M429.5 209.8h0M428 209.2h0M426.3 214.1h0M427.5 211.4h0M430.7 210.3h0M432.7 212h0M426.5 206.8h0M429.5 209.9h0M427.9 215.9h0M429.6 212.5h0M428.5 210.9h0M429.1 212.8h0M425.5 220.5h0M424.5 219h0M424.7 220.3h0M425.7 220h0M425.6 221.8h0M425.6 218.4h0M424.7 218.7h0M425 219.9h0" stroke="#262626" stroke-width="1.3" stroke-linecap="round" fill="none"/>
<path d="M423.7 216.3h2.6M425 215v2.6M423.2 214.6h2.6M424.5 213.3v2.6M423.2 216.9h2.6M424.5 215.6v2.6M423.4 216.5h2.6M424.7 215.2v2.6M423.6 217h2.6M424.9 215.7v2.6M423.8 212.2h2.6M425.1 210.9v2.6M423.5 211.3h2.6M424.8 210v2.6M423.1 212.9h2.6M424.4 211.6v2.6M423.6 216.1h2.6M424.9 214.8v2.6M423.7 214.4h2.6M425 213.1v2.6M423.5 215.3h2.6M424.8 214v2.6M423.3 216.5h2.6M424.6 215.2v2.6M424 210.4h2.6M425.3 209.1v2.6M423.4 215.8h2.6M424.7 214.5v2.6M423.5 214.5h2.6M424.8 213.2v2.6M423.4 217.5h2.6M424.7 216.2v2.6M424 210h2.6M425.3 208.7v2.6M423.7 210.9h2.6M425 209.6v2.6M424.1 210.4h2.6M425.4 209.1v2.6M423.8 211.3h2.6M425.1 210v2.6M423.2 210.9h2.6M424.5 209.6v2.6M423.8 215.7h2.6M425.1 214.4v2.6M423.3 212.6h2.6M424.6 211.3v2.6M423.6 212.6h2.6M424.9 211.3v2.6M423.4 212.7h2.6M424.7 211.4v2.6M423.6 212.6h2.6M424.9 211.3v2.6M423.5 209.8h2.6M424.8 208.5v2.6M423.5 214.7h2.6M424.8 213.4v2.6M423.9 216.5h2.6M425.2 215.2v2.6M423.3 214.5h2.6M424.6 213.2v2.6M424.6 210h2.6M425.9 208.7v2.6M423.5 214.3h2.6M424.8 213v2.6M423.4 212.6h2.6M424.7 211.3v2.6M424.4 211.1h2.6M425.7 209.8v2.6M423.4 213.8h2.6M424.7 212.5v2.6M423.5 215.4h2.6M424.8 214.1v2.6M423.4 219.4h2.6M424.7 218.1v2.6M424.1 212.7h2.6M425.4 211.4v2.6M423.4 213.3h2.6M424.7 212v2.6M423.3 212.7h2.6M424.6 211.4v2.6M423.2 214.5h2.6M424.5 213.2v2.6M423.8 219.4h2.6M425.1 218.1v2.6M423.6 210.8h2.6M424.9 209.5v2.6M423.6 213.9h2.6M424.9 212.6v2.6M423.2 211.1h2.6M424.5 209.8v2.6M423.7 212.9h2.6M425 211.6v2.6M423.6 217h2.6M424.9 215.7v2.6M423.4 212.7h2.6M424.7 211.4v2.6M423.6 211.5h2.6M424.9 210.2v2.6M423.4 209.6h2.6M424.7 208.3v2.6M423.2 215.6h2.6M424.5 214.3v2.6M423.2 213.2h2.6M424.5 211.9v2.6M423.6 211.6h2.6M424.9 210.3v2.6M423.3 213h2.6M424.6 211.7v2.6M423.6 212.5h2.6M424.9 211.2v2.6M423.4 212.6h2.6M424.7 211.3v2.6M423.7 213.7h2.6M425 212.4v2.6M423.8 209.4h2.6M425.1 208.1v2.6M423.3 214.3h2.6M424.6 213v2.6M423.3 214.6h2.6M424.6 213.3v2.6M423.2 214.2h2.6M424.5 212.9v2.6M423.3 215.2h2.6M424.6 213.9v2.6M424 215.9h2.6M425.3 214.6v2.6M423.2 215.2h2.6M424.5 213.9v2.6M423.3 215.7h2.6M424.6 214.4v2.6M423.3 212.7h2.6M424.6 211.4v2.6M423.9 210.1h2.6M425.2 208.8v2.6M423.3 212.9h2.6M424.6 211.6v2.6M423.5 209.4h2.6M424.8 208.1v2.6M423.4 218.3h2.6M424.7 217v2.6M423.4 217.6h2.6M424.7 216.3v2.6M423.5 217h2.6M424.8 215.7v2.6M423.6 220.5h2.6M424.9 219.2v2.6M423.1 220.5h2.6M424.4 219.2v2.6M423.5 220.3h2.6M424.8 219v2.6M423.9 221.6h2.6M425.2 220.3v2.6M423.2 223h2.6M424.5 221.7v2.6M423.2 220.7h2.6M424.5 219.4v2.6M423.4 219.7h2.6M424.7 218.4v2.6M423.2 220.3h2.6M424.5 219v2.6M423.1 223.5h2.6M424.4 222.2v2.6M423.4 218h2.6M424.7 216.7v2.6M423.1 217.7h2.6M424.4 216.4v2.6M423.7 217.5h2.6M425 216.2v2.6M423.8 219h2.6M425.1 217.7v2.6M423.3 218.2h2.6M424.6 216.9v2.6M423.7 222.2h2.6M425 220.9v2.6M423.5 222.1h2.6M424.8 220.8v2.6M424 220.9h2.6M425.3 219.6v2.6M423.4 221.1h2.6M424.7 219.8v2.6" stroke="#F7A11A" stroke-width="1.15" fill="none"/>
<path d="M430.9 209.7l2.2 2.2m0-2.2l-2.2 2.2M435.9 208.7l2.2 2.2m0-2.2l-2.2 2.2M426.2 210.8l2.2 2.2m0-2.2l-2.2 2.2M430.3 210.9l2.2 2.2m0-2.2l-2.2 2.2M434 210.4l2.2 2.2m0-2.2l-2.2 2.2M428 213.7l2.2 2.2m0-2.2l-2.2 2.2M426.6 211.4l2.2 2.2m0-2.2l-2.2 2.2M428.5 211l2.2 2.2m0-2.2l-2.2 2.2M429.2 211.1l2.2 2.2m0-2.2l-2.2 2.2M429.4 210l2.2 2.2m0-2.2l-2.2 2.2M427.7 214.1l2.2 2.2m0-2.2l-2.2 2.2M432.9 212.5l2.2 2.2m0-2.2l-2.2 2.2M429.5 209.3l2.2 2.2m0-2.2l-2.2 2.2M433.1 210.9l2.2 2.2m0-2.2l-2.2 2.2M429.9 213.2l2.2 2.2m0-2.2l-2.2 2.2M434 207.8l2.2 2.2m0-2.2l-2.2 2.2M428.9 213.4l2.2 2.2m0-2.2l-2.2 2.2M430.4 211l2.2 2.2m0-2.2l-2.2 2.2M427.6 213.9l2.2 2.2m0-2.2l-2.2 2.2M434 209.3l2.2 2.2m0-2.2l-2.2 2.2M426 211.9l2.2 2.2m0-2.2l-2.2 2.2M434 208.2l2.2 2.2m0-2.2l-2.2 2.2M429.2 209.2l2.2 2.2m0-2.2l-2.2 2.2M428.4 212.6l2.2 2.2m0-2.2l-2.2 2.2M431 210.2l2.2 2.2m0-2.2l-2.2 2.2M431 213.1l2.2 2.2m0-2.2l-2.2 2.2M427.4 214.6l2.2 2.2m0-2.2l-2.2 2.2M436.1 209.7l2.2 2.2m0-2.2l-2.2 2.2M426.8 211.5l2.2 2.2m0-2.2l-2.2 2.2M426.7 210.5l2.2 2.2m0-2.2l-2.2 2.2M433.1 215.2l2.2 2.2m0-2.2l-2.2 2.2M427 210.4l2.2 2.2m0-2.2l-2.2 2.2M427 211.5l2.2 2.2m0-2.2l-2.2 2.2M428.5 206.8l2.2 2.2m0-2.2l-2.2 2.2M432.5 211.6l2.2 2.2m0-2.2l-2.2 2.2M431.6 209.9l2.2 2.2m0-2.2l-2.2 2.2M427.3 207.7l2.2 2.2m0-2.2l-2.2 2.2M435.4 210.7l2.2 2.2m0-2.2l-2.2 2.2M434.7 207.1l2.2 2.2m0-2.2l-2.2 2.2M434.2 214l2.2 2.2m0-2.2l-2.2 2.2M429.9 213.8l2.2 2.2m0-2.2l-2.2 2.2M430.1 213.6l2.2 2.2m0-2.2l-2.2 2.2M430.4 214.5l2.2 2.2m0-2.2l-2.2 2.2M428.9 210.6l2.2 2.2m0-2.2l-2.2 2.2M430.1 210.4l2.2 2.2m0-2.2l-2.2 2.2M438 209l2.2 2.2m0-2.2l-2.2 2.2M428 209.6l2.2 2.2m0-2.2l-2.2 2.2M438.5 209.9l2.2 2.2m0-2.2l-2.2 2.2M429.2 213.5l2.2 2.2m0-2.2l-2.2 2.2M426.2 211.8l2.2 2.2m0-2.2l-2.2 2.2M435.3 207.9l2.2 2.2m0-2.2l-2.2 2.2M426.8 210.2l2.2 2.2m0-2.2l-2.2 2.2M430.8 209.5l2.2 2.2m0-2.2l-2.2 2.2M427.4 212.1l2.2 2.2m0-2.2l-2.2 2.2M426.3 210.7l2.2 2.2m0-2.2l-2.2 2.2M435.1 212.9l2.2 2.2m0-2.2l-2.2 2.2M430.5 213.3l2.2 2.2m0-2.2l-2.2 2.2M431.8 207.7l2.2 2.2m0-2.2l-2.2 2.2M433.3 210.9l2.2 2.2m0-2.2l-2.2 2.2M438.5 209.5l2.2 2.2m0-2.2l-2.2 2.2M430.5 206.9l2.2 2.2m0-2.2l-2.2 2.2M428.8 213.6l2.2 2.2m0-2.2l-2.2 2.2M425.8 219.1l2.2 2.2m0-2.2l-2.2 2.2M426.7 217.3l2.2 2.2m0-2.2l-2.2 2.2M425.4 217.5l2.2 2.2m0-2.2l-2.2 2.2M425.6 217l2.2 2.2m0-2.2l-2.2 2.2M427.3 218l2.2 2.2m0-2.2l-2.2 2.2M428.5 217.8l2.2 2.2m0-2.2l-2.2 2.2M426.5 220.2l2.2 2.2m0-2.2l-2.2 2.2" stroke="#3DB6EE" stroke-width="1.15" fill="none"/>
<path d="M435.3 213.5h0M435.2 213.5h0M448.7 206.3h0M444.1 209.4h0M449.3 206.8h0M435.2 211.4h0M427.9 211h0M435.6 212.2h0M436.6 213.7h0M442 209h0M446.2 211.1h0M437.4 212.2h0M433.6 208.4h0M439.6 210.6h0M447.9 209.4h0M434 214.6h0M434 210.5h0M431.6 215.1h0M429.3 214.9h0M448.2 212.6h0M432.1 215.7h0M439.1 213h0M429.4 213.6h0M438.3 209.2h0M429.7 212.1h0M443.4 211.3h0M444.1 212.5h0M434.8 216.4h0M437.9 210.3h0M435.6 210.7h0M431.3 213.9h0M442.8 209.1h0M446.8 209.4h0M446.8 209.4h0M439.9 210.2h0M427.3 213.7h0M439.4 213.4h0M441.2 214.2h0M441 208.8h0M434.6 209.3h0M437.5 210.9h0M441.3 210.2h0M446.4 209h0M441 213.7h0M449.4 209.7h0M432.6 209h0M448.2 210.3h0M450.6 203.7h0M440 205.5h0M442.8 213.7h0M431.8 211.5h0M428 210.9h0M434.7 211.8h0M443.9 210.2h0M437.9 213.3h0M446.3 208.1h0M438 211.2h0M435.9 211.5h0M448 207.8h0M446.6 210.9h0M449.7 208.6h0M446 210.5h0M442.9 207.5h0M443.6 211h0M432.4 214.4h0M441.1 211.2h0M429.6 211.5h0M440.7 209.8h0M444.6 212.6h0M434.2 218.8h0M441.9 212.1h0M440.4 213h0M437.4 206.3h0M443.1 211.4h0M439.7 210.2h0M445.2 205h0M449 212.5h0M440.3 209h0M431.9 206.9h0M438.9 208h0M449.3 212.3h0M431 213.5h0M442.9 209.3h0M439.9 211h0M440.2 209.7h0M438.4 210.4h0M445.9 210.7h0M439.2 210.7h0M428 208.8h0M443.4 209.7h0M460.1 207.2h0M435.4 212.6h0" stroke="#19AA8D" stroke-width="2.1" stroke-linecap="square" fill="none"/>
<path d="M442.2 210.4l1.1 1.4l-1.1 1.4l-1.1-1.4zM459.4 201.6l1.1 1.4l-1.1 1.4l-1.1-1.4zM447.5 207.4l1.1 1.4l-1.1 1.4l-1.1-1.4zM446.9 208.5l1.1 1.4l-1.1 1.4l-1.1-1.4zM458.5 204.8l1.1 1.4l-1.1 1.4l-1.1-1.4zM451.6 208.1l1.1 1.4l-1.1 1.4l-1.1-1.4zM452.2 205l1.1 1.4l-1.1 1.4l-1.1-1.4zM451 209.2l1.1 1.4l-1.1 1.4l-1.1-1.4zM449.5 206l1.1 1.4l-1.1 1.4l-1.1-1.4zM454 206.8l1.1 1.4l-1.1 1.4l-1.1-1.4zM463.4 209.2l1.1 1.4l-1.1 1.4l-1.1-1.4zM438.9 208.3l1.1 1.4l-1.1 1.4l-1.1-1.4zM449.8 205.1l1.1 1.4l-1.1 1.4l-1.1-1.4zM462.1 205.2l1.1 1.4l-1.1 1.4l-1.1-1.4zM462.6 202.5l1.1 1.4l-1.1 1.4l-1.1-1.4zM455.2 204.9l1.1 1.4l-1.1 1.4l-1.1-1.4zM444.6 207.3l1.1 1.4l-1.1 1.4l-1.1-1.4zM445 207.7l1.1 1.4l-1.1 1.4l-1.1-1.4zM432.5 210.6l1.1 1.4l-1.1 1.4l-1.1-1.4zM448.1 207.8l1.1 1.4l-1.1 1.4l-1.1-1.4zM458 209.4l1.1 1.4l-1.1 1.4l-1.1-1.4zM440.8 208.4l1.1 1.4l-1.1 1.4l-1.1-1.4zM448.4 210.8l1.1 1.4l-1.1 1.4l-1.1-1.4zM441.3 209.2l1.1 1.4l-1.1 1.4l-1.1-1.4zM443.9 204.2l1.1 1.4l-1.1 1.4l-1.1-1.4zM457.2 205.6l1.1 1.4l-1.1 1.4l-1.1-1.4zM445.8 203.9l1.1 1.4l-1.1 1.4l-1.1-1.4zM456.8 207.7l1.1 1.4l-1.1 1.4l-1.1-1.4zM442.9 209.4l1.1 1.4l-1.1 1.4l-1.1-1.4zM456.5 211.2l1.1 1.4l-1.1 1.4l-1.1-1.4zM445.5 209.8l1.1 1.4l-1.1 1.4l-1.1-1.4zM438.4 209.7l1.1 1.4l-1.1 1.4l-1.1-1.4zM443.7 210.1l1.1 1.4l-1.1 1.4l-1.1-1.4zM452.2 208l1.1 1.4l-1.1 1.4l-1.1-1.4zM448.8 210.8l1.1 1.4l-1.1 1.4l-1.1-1.4zM442.2 207.6l1.1 1.4l-1.1 1.4l-1.1-1.4zM456.1 206l1.1 1.4l-1.1 1.4l-1.1-1.4zM438 207.6l1.1 1.4l-1.1 1.4l-1.1-1.4zM447.5 205.9l1.1 1.4l-1.1 1.4l-1.1-1.4zM467 200.3l1.1 1.4l-1.1 1.4l-1.1-1.4zM458 205.4l1.1 1.4l-1.1 1.4l-1.1-1.4zM455.2 205.1l1.1 1.4l-1.1 1.4l-1.1-1.4zM449.1 207.1l1.1 1.4l-1.1 1.4l-1.1-1.4zM448 206.6l1.1 1.4l-1.1 1.4l-1.1-1.4zM468.7 201.8l1.1 1.4l-1.1 1.4l-1.1-1.4zM463.4 202.4l1.1 1.4l-1.1 1.4l-1.1-1.4zM454.9 209l1.1 1.4l-1.1 1.4l-1.1-1.4zM444.4 208.7l1.1 1.4l-1.1 1.4l-1.1-1.4zM448.5 207l1.1 1.4l-1.1 1.4l-1.1-1.4zM457.5 205l1.1 1.4l-1.1 1.4l-1.1-1.4zM440.3 209.7l1.1 1.4l-1.1 1.4l-1.1-1.4zM470.4 207.3l1.1 1.4l-1.1 1.4l-1.1-1.4zM467.7 206.4l1.1 1.4l-1.1 1.4l-1.1-1.4zM447.8 209.9l1.1 1.4l-1.1 1.4l-1.1-1.4zM448.8 211.4l1.1 1.4l-1.1 1.4l-1.1-1.4zM440.2 209.4l1.1 1.4l-1.1 1.4l-1.1-1.4zM444.4 205.5l1.1 1.4l-1.1 1.4l-1.1-1.4zM459 206.3l1.1 1.4l-1.1 1.4l-1.1-1.4zM431.2 209.1l1.1 1.4l-1.1 1.4l-1.1-1.4zM459.6 203.8l1.1 1.4l-1.1 1.4l-1.1-1.4zM429.1 212.6l1.1 1.4l-1.1 1.4l-1.1-1.4zM456.1 209.6l1.1 1.4l-1.1 1.4l-1.1-1.4zM431.5 211.9l1.1 1.4l-1.1 1.4l-1.1-1.4zM444.9 208.6l1.1 1.4l-1.1 1.4l-1.1-1.4zM429.1 211.6l1.1 1.4l-1.1 1.4l-1.1-1.4zM442.5 179.4l1.1 1.4l-1.1 1.4l-1.1-1.4zM456.1 179.2l1.1 1.4l-1.1 1.4l-1.1-1.4zM463.9 182.1l1.1 1.4l-1.1 1.4l-1.1-1.4zM455.1 180.1l1.1 1.4l-1.1 1.4l-1.1-1.4zM446.9 176.9l1.1 1.4l-1.1 1.4l-1.1-1.4zM449.3 176.6l1.1 1.4l-1.1 1.4l-1.1-1.4zM463 176.2l1.1 1.4l-1.1 1.4l-1.1-1.4zM455.4 178.5l1.1 1.4l-1.1 1.4l-1.1-1.4zM460 177.6l1.1 1.4l-1.1 1.4l-1.1-1.4zM450.4 179.8l1.1 1.4l-1.1 1.4l-1.1-1.4zM444.6 175.5l1.1 1.4l-1.1 1.4l-1.1-1.4zM450.4 177.2l1.1 1.4l-1.1 1.4l-1.1-1.4zM455.9 178.4l1.1 1.4l-1.1 1.4l-1.1-1.4zM442.9 183.1l1.1 1.4l-1.1 1.4l-1.1-1.4zM452.9 179.7l1.1 1.4l-1.1 1.4l-1.1-1.4zM443.2 180.1l1.1 1.4l-1.1 1.4l-1.1-1.4zM472.6 175.7l1.1 1.4l-1.1 1.4l-1.1-1.4zM450 182.4l1.1 1.4l-1.1 1.4l-1.1-1.4zM434.6 181.3l1.1 1.4l-1.1 1.4l-1.1-1.4zM457.2 179l1.1 1.4l-1.1 1.4l-1.1-1.4z" stroke="#F0E250" stroke-width="0.7" fill="#F4E66A"/>
<path d="M450.8 208.1l1.35 2.4h-2.7zM464.1 203l1.35 2.4h-2.7zM448 212.8l1.35 2.4h-2.7zM447.8 204.6l1.35 2.4h-2.7zM446 212.2l1.35 2.4h-2.7zM476.9 206.4l1.35 2.4h-2.7zM441.8 202.5l1.35 2.4h-2.7zM438.3 209.7l1.35 2.4h-2.7zM440.4 211.2l1.35 2.4h-2.7zM464.3 206.7l1.35 2.4h-2.7zM472.3 201.6l1.35 2.4h-2.7zM453.6 206.1l1.35 2.4h-2.7zM455 209.6l1.35 2.4h-2.7zM464.5 207.5l1.35 2.4h-2.7zM450.9 203.9l1.35 2.4h-2.7zM456.9 205.8l1.35 2.4h-2.7zM451.2 209.7l1.35 2.4h-2.7zM438.7 206l1.35 2.4h-2.7zM448.6 206.2l1.35 2.4h-2.7zM438.4 207.2l1.35 2.4h-2.7zM450.3 210.2l1.35 2.4h-2.7zM474.3 205.9l1.35 2.4h-2.7zM467.1 209.9l1.35 2.4h-2.7zM466.1 202.2l1.35 2.4h-2.7zM451.6 206.6l1.35 2.4h-2.7zM474.3 212.7l1.35 2.4h-2.7zM458.8 207.6l1.35 2.4h-2.7zM474.8 207.4l1.35 2.4h-2.7zM448.1 205.6l1.35 2.4h-2.7zM460.3 205.4l1.35 2.4h-2.7zM460.4 205.7l1.35 2.4h-2.7zM462.8 208.8l1.35 2.4h-2.7zM438.7 207.4l1.35 2.4h-2.7zM433.9 207.2l1.35 2.4h-2.7zM479.9 201.8l1.35 2.4h-2.7zM443.5 210.2l1.35 2.4h-2.7zM459.8 205.9l1.35 2.4h-2.7zM454.7 202.6l1.35 2.4h-2.7zM445.9 210.9l1.35 2.4h-2.7zM449.4 204.7l1.35 2.4h-2.7zM447.9 207.1l1.35 2.4h-2.7zM465.9 204.9l1.35 2.4h-2.7zM454.7 202.4l1.35 2.4h-2.7zM449 208.5l1.35 2.4h-2.7zM449.4 208.8l1.35 2.4h-2.7zM458.9 203.6l1.35 2.4h-2.7zM491.6 203.1l1.35 2.4h-2.7zM467.1 205.1l1.35 2.4h-2.7zM466.5 204.7l1.35 2.4h-2.7zM452.6 207.9l1.35 2.4h-2.7zM431.2 209.2l1.35 2.4h-2.7zM458.4 209.2l1.35 2.4h-2.7zM444.8 210.3l1.35 2.4h-2.7zM460 207.6l1.35 2.4h-2.7zM449.4 203.4l1.35 2.4h-2.7zM438.8 208.9l1.35 2.4h-2.7zM455.1 206.7l1.35 2.4h-2.7zM429.9 208.5l1.35 2.4h-2.7zM464.6 206.9l1.35 2.4h-2.7zM450.9 206l1.35 2.4h-2.7zM463.7 202.4l1.35 2.4h-2.7zM436.7 207.1l1.35 2.4h-2.7zM458.2 182.9l1.35 2.4h-2.7zM454.4 176.7l1.35 2.4h-2.7zM447.2 175.2l1.35 2.4h-2.7zM443.6 178.4l1.35 2.4h-2.7zM456.4 174.5l1.35 2.4h-2.7zM461 182.9l1.35 2.4h-2.7zM448.1 174.1l1.35 2.4h-2.7zM448.3 175.9l1.35 2.4h-2.7zM446.4 179.6l1.35 2.4h-2.7zM446.8 170.8l1.35 2.4h-2.7zM447 182.2l1.35 2.4h-2.7zM434.7 180.8l1.35 2.4h-2.7zM462.1 172.9l1.35 2.4h-2.7zM459.4 176.2l1.35 2.4h-2.7zM451.5 171.7l1.35 2.4h-2.7zM461.3 179.6l1.35 2.4h-2.7zM459.8 174.2l1.35 2.4h-2.7zM453.9 178.6l1.35 2.4h-2.7zM452.3 174.2l1.35 2.4h-2.7zM452.3 176.8l1.35 2.4h-2.7zM459.5 177l1.35 2.4h-2.7zM453.4 171.2l1.35 2.4h-2.7zM466.1 177.4l1.35 2.4h-2.7zM468.9 172l1.35 2.4h-2.7zM469.8 175.3l1.35 2.4h-2.7zM460.9 175l1.35 2.4h-2.7zM446.3 175l1.35 2.4h-2.7zM460.3 175.5l1.35 2.4h-2.7zM444.1 180l1.35 2.4h-2.7zM460.2 182.9l1.35 2.4h-2.7zM450.9 176.1l1.35 2.4h-2.7zM453.6 176.1l1.35 2.4h-2.7zM470.5 174.9l1.35 2.4h-2.7zM460.1 177.8l1.35 2.4h-2.7zM470.1 170.8l1.35 2.4h-2.7zM445.5 174.1l1.35 2.4h-2.7zM441.2 175l1.35 2.4h-2.7zM448.3 175.8l1.35 2.4h-2.7zM447.7 177.8l1.35 2.4h-2.7zM453.7 178.8l1.35 2.4h-2.7zM461.5 176.3l1.35 2.4h-2.7zM462.3 173.7l1.35 2.4h-2.7zM450.6 170.8l1.35 2.4h-2.7zM447.9 175.8l1.35 2.4h-2.7zM463.8 179l1.35 2.4h-2.7z" stroke="#1E8CD2" stroke-width="0.6" fill="#1E8CD2" stroke-linejoin="round"/>
<path d="M454.2 202.8h0M482 210.8h0M476.6 210.7h0M522.2 206.4h0M499.5 206.6h0M465.7 203.6h0M479.9 202.4h0M508.3 203.9h0M504.3 204.1h0M468.8 211.8h0M493.9 207.6h0M484.2 204.5h0M465 204.5h0M456.1 210.5h0M489.3 206.5h0M478.2 209h0M498.1 163.6h0M494.5 165.6h0M530.5 169.5h0M500.5 177h0M466.4 174.1h0M461 168.8h0M495.9 170.6h0M470.3 162.6h0M492.7 168.4h0M515.9 167.1h0M454.8 170.3h0M472.3 175.4h0M488.5 170.5h0M531.1 170.2h0M465.7 180.7h0M523.8 176.2h0M474.2 167.3h0M496.2 171.6h0M452.9 173h0M493.5 176.8h0M480.1 173.4h0M465.1 167.7h0M494.1 169.1h0M495.5 172h0M497.6 161.9h0M473.7 171.3h0M471.4 172.8h0M483.1 164.7h0M493.6 178h0M468.4 168.6h0M467.5 176.8h0M508.7 172.4h0M453 175.7h0M491.4 169.1h0M473.4 170.5h0M473.9 169.5h0M481.6 169.4h0M489.9 163h0M485 162h0M467.6 167.9h0M465.8 167.8h0M507 170.5h0M476.9 176.1h0M490 167h0M452.3 172.3h0M480.3 166.3h0M491.5 178.6h0M478.3 157.6h0M469.8 177.4h0M499 169h0M476.1 166h0M481.4 177.2h0M455.5 174.9h0M489.1 179.7h0M506.1 175.7h0M465 180.7h0M502.8 168.4h0M470.7 169.7h0M488.3 171.5h0M465.9 165.3h0M477.7 163.9h0M460.9 171.9h0M464.8 172.6h0M467.4 172.7h0M458.7 174.2h0M487.6 163.6h0M473.1 169.8h0M468.2 172.9h0M479.4 171.7h0M462.8 169h0M472.5 173h0M478.6 169.1h0M480.9 170.6h0M503.4 162.3h0M486.8 164.4h0M492.6 176.5h0M497.1 170.1h0M478.2 167.2h0M497.2 171.5h0M496 165.5h0M482.7 168.7h0M458.3 169.1h0M482 170.7h0M476.9 169.2h0M484.9 167.6h0M464.7 178.7h0M498.5 173.7h0M468.2 176.3h0M498.8 161h0M464.9 170.1h0M474.4 169.1h0M483.9 169.4h0M464.2 174.1h0M471 174.7h0M514.4 164h0M487.3 171.8h0M495 161.8h0M477.8 169.7h0M512.6 167.8h0M465.2 172.6h0M501.3 169.4h0M500.2 168.9h0M455.9 164.8h0M509.2 157.1h0M490.4 175.4h0M478.3 169.3h0M495.3 166h0M484.8 174.5h0" stroke="#F55F0A" stroke-width="2.35" stroke-linecap="round" fill="none"/>
</g>
<g clip-path="url(#c30)">
<path d="M106 294.7h0M98.3 294.1h0M112.1 294.1h0M107.1 293.4h0M107.3 293.1h0M95.5 294.9h0M85.8 295h0M84.1 294.3h0M94.3 294.4h0M114.9 295.1h0M115.8 294.9h0M92.2 293.8h0M102.4 292.9h0M119.8 294.9h0M107.1 293.5h0M98.6 294h0M106.9 294.1h0M103.6 293.2h0M86 291.6h0M82 294.1h0M84.4 293.2h0M128.4 294.9h0M118.2 294.3h0M91.1 293.4h0M93.6 294.2h0M92.9 294.1h0M89.8 292.4h0M95.3 293.3h0M139.9 294.7h0M123.7 294.8h0M112.1 294.4h0M97.3 292.8h0M107.1 294.7h0M108 293.3h0M119.7 294.1h0M101.1 295.1h0M97.2 294.4h0M68.7 292.5h0M94.2 291.3h0M117.6 295.1h0M102.7 293.3h0M105.6 294.2h0M87.4 293.2h0M111.6 293.9h0M93 293.5h0M115.1 295.6h0M98.9 296.3h0M120 296.1h0M115.3 295.5h0M114.3 295.6h0M111.4 295.6h0M115.7 296.1h0M118.5 296h0" stroke="#262626" stroke-width="1.3" stroke-linecap="round" fill="none"/>
<path d="M115.6 295.9h2.6M116.9 294.6v2.6M116.4 296.2h2.6M117.7 294.9v2.6M132.8 296.3h2.6M134.1 295v2.6M139.9 296.1h2.6M141.2 294.8v2.6M97.6 296h2.6M98.9 294.7v2.6M121.9 295.9h2.6M123.2 294.6v2.6M127.3 296.1h2.6M128.6 294.8v2.6M134.1 296.3h2.6M135.4 295v2.6M130.1 296h2.6M131.4 294.7v2.6M139.6 296h2.6M140.9 294.7v2.6M134.2 296h2.6M135.5 294.7v2.6M136.3 296.2h2.6M137.6 294.9v2.6M88.9 295.8h2.6M90.2 294.5v2.6M136.8 296.1h2.6M138.1 294.8v2.6M122 296h2.6M123.3 294.7v2.6M131.7 296.1h2.6M133 294.8v2.6M106 295.8h2.6M107.3 294.5v2.6M111.1 296h2.6M112.4 294.7v2.6M120.6 295.7h2.6M121.9 294.4v2.6M123.3 295.9h2.6M124.6 294.6v2.6M137 296.3h2.6M138.3 295v2.6M119.6 295.9h2.6M120.9 294.6v2.6M130.3 296.2h2.6M131.6 294.9v2.6M91.7 296h2.6M93 294.7v2.6M126.1 296.1h2.6M127.4 294.8v2.6M133.9 296h2.6M135.2 294.7v2.6M105.5 296h2.6M106.8 294.7v2.6M116.3 296h2.6M117.6 294.7v2.6M103 295.8h2.6M104.3 294.5v2.6M118.3 296.2h2.6M119.6 294.9v2.6M96.2 295.4h2.6M97.5 294.1v2.6M103.6 296.1h2.6M104.9 294.8v2.6M98.2 296.1h2.6M99.5 294.8v2.6M121.7 295.5h2.6M123 294.2v2.6M112.3 296.1h2.6M113.6 294.8v2.6M132 296.1h2.6M133.3 294.8v2.6M149.9 296.1h2.6M151.2 294.8v2.6M95.5 295.7h2.6M96.8 294.4v2.6M135.1 296.1h2.6M136.4 294.8v2.6M129.6 296.2h2.6M130.9 294.9v2.6M145.6 296.3h2.6M146.9 295v2.6M106.8 295.9h2.6M108.1 294.6v2.6M126.5 296h2.6M127.8 294.7v2.6M123.1 296h2.6M124.4 294.7v2.6M149.9 296.3h2.6M151.2 295v2.6M85.2 295.9h2.6M86.5 294.6v2.6M117.1 296h2.6M118.4 294.7v2.6M117.2 296.1h2.6M118.5 294.8v2.6M122.6 296h2.6M123.9 294.7v2.6M115.7 296.1h2.6M117 294.8v2.6M141.4 296.3h2.6M142.7 295v2.6M133.7 296.2h2.6M135 294.9v2.6M132.6 296h2.6M133.9 294.7v2.6M132 296.2h2.6M133.3 294.9v2.6M123.8 296h2.6M125.1 294.7v2.6M128.9 296.1h2.6M130.2 294.8v2.6M105.5 296h2.6M106.8 294.7v2.6M114 295.9h2.6M115.3 294.6v2.6M142.6 296.2h2.6M143.9 294.9v2.6M130 296.2h2.6M131.3 294.9v2.6M131.1 296.3h2.6M132.4 295v2.6M118.2 296.2h2.6M119.5 294.9v2.6M118.2 295.7h2.6M119.5 294.4v2.6M124.3 296.2h2.6M125.6 294.9v2.6M141.9 296.2h2.6M143.2 294.9v2.6M115.2 296.2h2.6M116.5 294.9v2.6M105.9 295.8h2.6M107.2 294.5v2.6M119 296.2h2.6M120.3 294.9v2.6M116 296h2.6M117.3 294.7v2.6M119.8 296.1h2.6M121.1 294.8v2.6M103.1 296.1h2.6M104.4 294.8v2.6M122.4 296.1h2.6M123.7 294.8v2.6M101.5 296h2.6M102.8 294.7v2.6M124 296.3h2.6M125.3 295v2.6M100.8 296.1h2.6M102.1 294.8v2.6M104.8 295.8h2.6M106.1 294.5v2.6M112.6 296.2h2.6M113.9 294.9v2.6M117.3 296.2h2.6M118.6 294.9v2.6M112.5 296.1h2.6M113.8 294.8v2.6M137.2 296.2h2.6M138.5 294.9v2.6M133.2 296.3h2.6M134.5 295v2.6M123.7 296.1h2.6M125 294.8v2.6M107.2 296.3h2.6M108.5 295v2.6M98.5 295.9h2.6M99.8 294.6v2.6M107.3 295.9h2.6M108.6 294.6v2.6M137.2 296.2h2.6M138.5 294.9v2.6M105.9 295.9h2.6M107.2 294.6v2.6M93 296h2.6M94.3 294.7v2.6M95.4 295.8h2.6M96.7 294.5v2.6M134.4 296.1h2.6M135.7 294.8v2.6" stroke="#F7A11A" stroke-width="1.15" fill="none"/>
<path d="M102.7 290.6l2.2 2.2m0-2.2l-2.2 2.2M99.9 287.6l2.2 2.2m0-2.2l-2.2 2.2M120.4 293.4l2.2 2.2m0-2.2l-2.2 2.2M126.4 291l2.2 2.2m0-2.2l-2.2 2.2M115.5 288.8l2.2 2.2m0-2.2l-2.2 2.2M119.1 292.4l2.2 2.2m0-2.2l-2.2 2.2M124.1 293.2l2.2 2.2m0-2.2l-2.2 2.2M132.1 292.1l2.2 2.2m0-2.2l-2.2 2.2M115.3 291.7l2.2 2.2m0-2.2l-2.2 2.2M104.5 291.5l2.2 2.2m0-2.2l-2.2 2.2M125.1 292.5l2.2 2.2m0-2.2l-2.2 2.2M113.4 289.4l2.2 2.2m0-2.2l-2.2 2.2M126.6 291.5l2.2 2.2m0-2.2l-2.2 2.2M107.7 289.3l2.2 2.2m0-2.2l-2.2 2.2M103.1 291.2l2.2 2.2m0-2.2l-2.2 2.2M91.5 288.8l2.2 2.2m0-2.2l-2.2 2.2M128.6 291.8l2.2 2.2m0-2.2l-2.2 2.2M105.5 290.9l2.2 2.2m0-2.2l-2.2 2.2M128.3 292.6l2.2 2.2m0-2.2l-2.2 2.2M112.1 288.7l2.2 2.2m0-2.2l-2.2 2.2M111.8 293.6l2.2 2.2m0-2.2l-2.2 2.2M100.8 288.7l2.2 2.2m0-2.2l-2.2 2.2M119.1 291.6l2.2 2.2m0-2.2l-2.2 2.2M124.4 292.1l2.2 2.2m0-2.2l-2.2 2.2M114.2 290.6l2.2 2.2m0-2.2l-2.2 2.2M120.4 290.6l2.2 2.2m0-2.2l-2.2 2.2M112.9 292.7l2.2 2.2m0-2.2l-2.2 2.2M99.5 287.5l2.2 2.2m0-2.2l-2.2 2.2M123.2 293.1l2.2 2.2m0-2.2l-2.2 2.2M122.3 293.2l2.2 2.2m0-2.2l-2.2 2.2M123.7 289.3l2.2 2.2m0-2.2l-2.2 2.2M147.6 292.9l2.2 2.2m0-2.2l-2.2 2.2M133.2 293l2.2 2.2m0-2.2l-2.2 2.2M91.4 292.1l2.2 2.2m0-2.2l-2.2 2.2M119.6 289.7l2.2 2.2m0-2.2l-2.2 2.2M130.9 290.2l2.2 2.2m0-2.2l-2.2 2.2M107.7 292.8l2.2 2.2m0-2.2l-2.2 2.2M122.3 287.9l2.2 2.2m0-2.2l-2.2 2.2M107.4 288.3l2.2 2.2m0-2.2l-2.2 2.2M116.1 288.7l2.2 2.2m0-2.2l-2.2 2.2M106.9 291.3l2.2 2.2m0-2.2l-2.2 2.2M102.5 291.1l2.2 2.2m0-2.2l-2.2 2.2M113.8 291l2.2 2.2m0-2.2l-2.2 2.2M117.1 291.8l2.2 2.2m0-2.2l-2.2 2.2M119.1 291.1l2.2 2.2m0-2.2l-2.2 2.2M89.6 286.4l2.2 2.2m0-2.2l-2.2 2.2M127.4 292.4l2.2 2.2m0-2.2l-2.2 2.2M76.1 286l2.2 2.2m0-2.2l-2.2 2.2M140.3 291.6l2.2 2.2m0-2.2l-2.2 2.2M100.8 293.5l2.2 2.2m0-2.2l-2.2 2.2M115.9 288l2.2 2.2m0-2.2l-2.2 2.2M116.2 293.1l2.2 2.2m0-2.2l-2.2 2.2M124.3 290.7l2.2 2.2m0-2.2l-2.2 2.2M126.5 292.8l2.2 2.2m0-2.2l-2.2 2.2M122.9 293.4l2.2 2.2m0-2.2l-2.2 2.2M123 288.1l2.2 2.2m0-2.2l-2.2 2.2M133.8 290.9l2.2 2.2m0-2.2l-2.2 2.2M104.7 290.1l2.2 2.2m0-2.2l-2.2 2.2M110.2 289.2l2.2 2.2m0-2.2l-2.2 2.2M105.3 286.1l2.2 2.2m0-2.2l-2.2 2.2M120.2 290.9l2.2 2.2m0-2.2l-2.2 2.2M107.6 291.9l2.2 2.2m0-2.2l-2.2 2.2M95.8 293.7l2.2 2.2m0-2.2l-2.2 2.2M110.5 293.2l2.2 2.2m0-2.2l-2.2 2.2M96.6 294l2.2 2.2m0-2.2l-2.2 2.2M113.4 293.8l2.2 2.2m0-2.2l-2.2 2.2M90.5 292.8l2.2 2.2m0-2.2l-2.2 2.2M83.5 292l2.2 2.2m0-2.2l-2.2 2.2M92.2 293.3l2.2 2.2m0-2.2l-2.2 2.2" stroke="#3DB6EE" stroke-width="1.15" fill="none"/>
<path d="M115.6 289.7h0M103.8 289.8h0M117.1 281.7h0M95.6 284.5h0M102.3 281.4h0M97.7 289.8h0M121.1 294.2h0M112 289.6h0M90.2 288.9h0M93 285.7h0M85.5 283.2h0M109.7 288.5h0M116.8 290.7h0M97.2 287.2h0M84.1 282.2h0M101.6 290.5h0M120.1 290.5h0M103.7 292h0M108.8 293.4h0M123.8 282h0M131.7 291.7h0M120.3 287.5h0M136.5 293.3h0M135.2 287.9h0M128.8 293.1h0M81.3 284.9h0M106.8 284.4h0M134.6 290h0M101.1 288.2h0M122.5 289.6h0M118.7 292.2h0M101.4 285.2h0M100.1 282.9h0M119.1 282.9h0M126.3 287h0M108.6 294.5h0M103 287.3h0M90.1 286.2h0M109.9 286.3h0M113.6 290.1h0M115 288.4h0M130.1 286.1h0M102.1 283.1h0M82.8 286.3h0M74 281.3h0M123.4 291.4h0M63.9 282h0M115.7 280.5h0M115.3 286.9h0M93.7 285.3h0M115.6 291.9h0M140.3 294.2h0M117.4 290.1h0M69.5 284.6h0M88.3 288.2h0M86 283.1h0M117.1 288.1h0M91.9 289.4h0M110.3 282.1h0M103.4 283h0M78.9 281.1h0M112 283.3h0M106.6 285.2h0M88.6 284.7h0M96.1 291.5h0M77.5 286.3h0M135 293.2h0M105.7 286.5h0M78.7 284.1h0M140.9 290.4h0M93 285.8h0M101.3 286.7h0M109.1 288.5h0M100.9 285.1h0M112 287.1h0M71.2 283.8h0M89.2 281.5h0M67 286.7h0M126.6 291.8h0M87.9 287.6h0M103.2 281.3h0M138.7 292.3h0M84.1 285.2h0M85.3 287h0M103.4 286.8h0M109.5 287.9h0M67 283.4h0M103.2 287.4h0M117 294.2h0M94.3 284.9h0M82.6 274.8h0M98 289.7h0" stroke="#19AA8D" stroke-width="2.1" stroke-linecap="square" fill="none"/>
<path d="M103.5 284.2l1.1 1.4l-1.1 1.4l-1.1-1.4zM90.6 273.8l1.1 1.4l-1.1 1.4l-1.1-1.4zM97.2 281l1.1 1.4l-1.1 1.4l-1.1-1.4zM78.2 281.4l1.1 1.4l-1.1 1.4l-1.1-1.4zM77.4 274.4l1.1 1.4l-1.1 1.4l-1.1-1.4zM82.5 278.5l1.1 1.4l-1.1 1.4l-1.1-1.4zM85.1 278.2l1.1 1.4l-1.1 1.4l-1.1-1.4zM78.6 278.9l1.1 1.4l-1.1 1.4l-1.1-1.4zM77.9 279.8l1.1 1.4l-1.1 1.4l-1.1-1.4zM76.3 277.1l1.1 1.4l-1.1 1.4l-1.1-1.4zM87.8 271.5l1.1 1.4l-1.1 1.4l-1.1-1.4zM107 286.2l1.1 1.4l-1.1 1.4l-1.1-1.4zM88 279.6l1.1 1.4l-1.1 1.4l-1.1-1.4zM40.7 272.3l1.1 1.4l-1.1 1.4l-1.1-1.4zM87.1 271.9l1.1 1.4l-1.1 1.4l-1.1-1.4zM97.8 276.4l1.1 1.4l-1.1 1.4l-1.1-1.4zM90.9 282.8l1.1 1.4l-1.1 1.4l-1.1-1.4zM95.4 282.5l1.1 1.4l-1.1 1.4l-1.1-1.4zM116.8 290l1.1 1.4l-1.1 1.4l-1.1-1.4zM87.8 280.6l1.1 1.4l-1.1 1.4l-1.1-1.4zM84 274.7l1.1 1.4l-1.1 1.4l-1.1-1.4zM82.9 285.1l1.1 1.4l-1.1 1.4l-1.1-1.4zM95.8 280.4l1.1 1.4l-1.1 1.4l-1.1-1.4zM96.2 284.7l1.1 1.4l-1.1 1.4l-1.1-1.4zM114.5 283.2l1.1 1.4l-1.1 1.4l-1.1-1.4zM107.8 275.2l1.1 1.4l-1.1 1.4l-1.1-1.4zM107.2 282.1l1.1 1.4l-1.1 1.4l-1.1-1.4zM69.2 275.4l1.1 1.4l-1.1 1.4l-1.1-1.4zM103.8 283.8l1.1 1.4l-1.1 1.4l-1.1-1.4zM81.4 275.6l1.1 1.4l-1.1 1.4l-1.1-1.4zM78.5 282.2l1.1 1.4l-1.1 1.4l-1.1-1.4zM91.1 286.5l1.1 1.4l-1.1 1.4l-1.1-1.4zM128.4 283.3l1.1 1.4l-1.1 1.4l-1.1-1.4zM76.1 278.2l1.1 1.4l-1.1 1.4l-1.1-1.4zM74.5 280.2l1.1 1.4l-1.1 1.4l-1.1-1.4zM104.3 284.2l1.1 1.4l-1.1 1.4l-1.1-1.4zM95.9 275.8l1.1 1.4l-1.1 1.4l-1.1-1.4zM100.5 286.7l1.1 1.4l-1.1 1.4l-1.1-1.4zM83.3 281l1.1 1.4l-1.1 1.4l-1.1-1.4zM46.1 269.3l1.1 1.4l-1.1 1.4l-1.1-1.4zM76.2 274.7l1.1 1.4l-1.1 1.4l-1.1-1.4zM86.5 276.4l1.1 1.4l-1.1 1.4l-1.1-1.4zM76.2 280.1l1.1 1.4l-1.1 1.4l-1.1-1.4zM100.1 280.7l1.1 1.4l-1.1 1.4l-1.1-1.4zM55.3 268.3l1.1 1.4l-1.1 1.4l-1.1-1.4zM77 271.5l1.1 1.4l-1.1 1.4l-1.1-1.4zM90.5 276.6l1.1 1.4l-1.1 1.4l-1.1-1.4zM87.3 282.9l1.1 1.4l-1.1 1.4l-1.1-1.4zM67.3 280.4l1.1 1.4l-1.1 1.4l-1.1-1.4zM78.8 275l1.1 1.4l-1.1 1.4l-1.1-1.4zM91.8 285.3l1.1 1.4l-1.1 1.4l-1.1-1.4zM51.6 267.2l1.1 1.4l-1.1 1.4l-1.1-1.4zM71.6 268.9l1.1 1.4l-1.1 1.4l-1.1-1.4zM82.2 280.8l1.1 1.4l-1.1 1.4l-1.1-1.4zM92.3 280.2l1.1 1.4l-1.1 1.4l-1.1-1.4zM121.6 285.4l1.1 1.4l-1.1 1.4l-1.1-1.4zM65.3 282.9l1.1 1.4l-1.1 1.4l-1.1-1.4zM59.4 274.1l1.1 1.4l-1.1 1.4l-1.1-1.4zM122.5 290.8l1.1 1.4l-1.1 1.4l-1.1-1.4zM95 273.7l1.1 1.4l-1.1 1.4l-1.1-1.4zM110.6 292.1l1.1 1.4l-1.1 1.4l-1.1-1.4zM83.4 275.8l1.1 1.4l-1.1 1.4l-1.1-1.4zM112.2 290.6l1.1 1.4l-1.1 1.4l-1.1-1.4zM106.4 282.6l1.1 1.4l-1.1 1.4l-1.1-1.4zM110.1 292.1l1.1 1.4l-1.1 1.4l-1.1-1.4zM91.2 284l1.1 1.4l-1.1 1.4l-1.1-1.4zM87.6 275.9l1.1 1.4l-1.1 1.4l-1.1-1.4zM63.1 271.1l1.1 1.4l-1.1 1.4l-1.1-1.4zM86 276.5l1.1 1.4l-1.1 1.4l-1.1-1.4zM88.5 281.4l1.1 1.4l-1.1 1.4l-1.1-1.4zM85.8 280l1.1 1.4l-1.1 1.4l-1.1-1.4zM79.7 271.7l1.1 1.4l-1.1 1.4l-1.1-1.4zM73.3 276.2l1.1 1.4l-1.1 1.4l-1.1-1.4zM96.9 273.5l1.1 1.4l-1.1 1.4l-1.1-1.4zM73.7 279.2l1.1 1.4l-1.1 1.4l-1.1-1.4zM94.6 282.8l1.1 1.4l-1.1 1.4l-1.1-1.4zM85.3 279.3l1.1 1.4l-1.1 1.4l-1.1-1.4zM87.5 276l1.1 1.4l-1.1 1.4l-1.1-1.4zM83 283.8l1.1 1.4l-1.1 1.4l-1.1-1.4zM72.8 277.8l1.1 1.4l-1.1 1.4l-1.1-1.4zM82.6 283.6l1.1 1.4l-1.1 1.4l-1.1-1.4zM79.9 265.9l1.1 1.4l-1.1 1.4l-1.1-1.4zM78.4 279.5l1.1 1.4l-1.1 1.4l-1.1-1.4zM79.9 288.8l1.1 1.4l-1.1 1.4l-1.1-1.4zM67.4 275.2l1.1 1.4l-1.1 1.4l-1.1-1.4z" stroke="#F0E250" stroke-width="0.7" fill="#F4E66A"/>
<path d="M87.5 278.8l1.35 2.4h-2.7zM69.4 270.8l1.35 2.4h-2.7zM121.4 280.5l1.35 2.4h-2.7zM84.6 280.7l1.35 2.4h-2.7zM81 281.7l1.35 2.4h-2.7zM47.2 263.2l1.35 2.4h-2.7zM86 284.2l1.35 2.4h-2.7zM96.6 286.3l1.35 2.4h-2.7zM100 285.1l1.35 2.4h-2.7zM61.4 270.7l1.35 2.4h-2.7zM79.6 265.9l1.35 2.4h-2.7zM55.8 277.2l1.35 2.4h-2.7zM61 276.3l1.35 2.4h-2.7zM51.5 270.6l1.35 2.4h-2.7zM74.3 278.8l1.35 2.4h-2.7zM80 275.1l1.35 2.4h-2.7zM79.9 278.6l1.35 2.4h-2.7zM82.8 286.1l1.35 2.4h-2.7zM87.6 280.1l1.35 2.4h-2.7zM70.8 286.3l1.35 2.4h-2.7zM55.2 279.2l1.35 2.4h-2.7zM65.1 264.7l1.35 2.4h-2.7zM78.1 269.1l1.35 2.4h-2.7zM72.1 269.6l1.35 2.4h-2.7zM98.2 278.4l1.35 2.4h-2.7zM79 264.7l1.35 2.4h-2.7zM59.9 274l1.35 2.4h-2.7zM65 264.4l1.35 2.4h-2.7zM85.4 280.4l1.35 2.4h-2.7zM93.1 273.1l1.35 2.4h-2.7zM58.6 273.1l1.35 2.4h-2.7zM84.3 271.6l1.35 2.4h-2.7zM99.1 286.1l1.35 2.4h-2.7zM107.4 289l1.35 2.4h-2.7zM62.2 261.4l1.35 2.4h-2.7zM99 283.2l1.35 2.4h-2.7zM78.5 273.4l1.35 2.4h-2.7zM81.9 276.5l1.35 2.4h-2.7zM85 281.8l1.35 2.4h-2.7zM64.8 279.7l1.35 2.4h-2.7zM74.7 280.6l1.35 2.4h-2.7zM70.1 269.8l1.35 2.4h-2.7zM75.1 276.5l1.35 2.4h-2.7zM89.5 279.9l1.35 2.4h-2.7zM69.1 279.7l1.35 2.4h-2.7zM85.9 273.9l1.35 2.4h-2.7zM52.9 254.3l1.35 2.4h-2.7zM73.9 269.1l1.35 2.4h-2.7zM49.9 269.4l1.35 2.4h-2.7zM71.3 277.8l1.35 2.4h-2.7zM80.3 290.6l1.35 2.4h-2.7zM59.2 274.3l1.35 2.4h-2.7zM77.6 282.4l1.35 2.4h-2.7zM76 273.3l1.35 2.4h-2.7zM81.3 279.7l1.35 2.4h-2.7zM93.4 286l1.35 2.4h-2.7zM82.4 276.2l1.35 2.4h-2.7zM96.2 291.4l1.35 2.4h-2.7zM65.2 270.6l1.35 2.4h-2.7zM74.2 278.8l1.35 2.4h-2.7zM61 271.1l1.35 2.4h-2.7zM95.7 287.3l1.35 2.4h-2.7zM65.7 274.4l1.35 2.4h-2.7zM77.2 276.7l1.35 2.4h-2.7zM113.2 281l1.35 2.4h-2.7zM92.1 283.2l1.35 2.4h-2.7zM64.7 275.5l1.35 2.4h-2.7zM62.9 272.7l1.35 2.4h-2.7zM82.8 280.4l1.35 2.4h-2.7zM96.6 280.3l1.35 2.4h-2.7zM89.1 281.5l1.35 2.4h-2.7zM80 281.3l1.35 2.4h-2.7zM55.9 281.1l1.35 2.4h-2.7zM95.3 288.5l1.35 2.4h-2.7zM74 272l1.35 2.4h-2.7zM61.7 273.7l1.35 2.4h-2.7zM57.3 278.4l1.35 2.4h-2.7zM75.5 272.5l1.35 2.4h-2.7zM77.5 273.5l1.35 2.4h-2.7zM52.3 277l1.35 2.4h-2.7zM70.2 277.9l1.35 2.4h-2.7zM76.3 277.9l1.35 2.4h-2.7zM43 273.6l1.35 2.4h-2.7zM98.4 277.2l1.35 2.4h-2.7zM75.4 269.6l1.35 2.4h-2.7zM63.2 268l1.35 2.4h-2.7zM44.6 267.4l1.35 2.4h-2.7zM107.8 272.8l1.35 2.4h-2.7zM102.1 281.6l1.35 2.4h-2.7zM43 273.1l1.35 2.4h-2.7zM76.1 282.8l1.35 2.4h-2.7zM82 273.2l1.35 2.4h-2.7zM79.7 278.8l1.35 2.4h-2.7zM81.9 277.2l1.35 2.4h-2.7zM45.5 267l1.35 2.4h-2.7zM74.6 273.3l1.35 2.4h-2.7zM63.4 267.3l1.35 2.4h-2.7zM81.1 282l1.35 2.4h-2.7zM113.2 284.6l1.35 2.4h-2.7zM84.6 280.3l1.35 2.4h-2.7zM113.2 280.7l1.35 2.4h-2.7zM76.7 277.1l1.35 2.4h-2.7zM62.3 272.4l1.35 2.4h-2.7zM81.1 271.9l1.35 2.4h-2.7zM67.1 278.9l1.35 2.4h-2.7zM94.5 280.6l1.35 2.4h-2.7zM82.6 271l1.35 2.4h-2.7z" stroke="#1E8CD2" stroke-width="0.6" fill="#1E8CD2" stroke-linejoin="round"/>
<path d="M80.3 278.4h0M79.4 261.7h0M83.2 264.9h0M43.5 237.5h0M63.3 251.2h0M78.9 271.5h0M65 262.9h0M62.1 245.9h0M70.8 248.3h0M70.8 269.6h0M78 254.5h0M77.3 260.3h0M71.1 271.9h0M71.2 277.3h0M70.6 257.3h0M58.6 264h0M56.2 252h0M58.4 254.1h0M60.8 232.5h0M53.6 250.6h0M48.5 271h0M57.4 274.3h0M70.1 253.3h0M78.2 268.7h0M72.9 255.2h0M66.1 241.3h0M63 278h0M78 267.5h0M79.2 257.7h0M52.3 232.2h0M82 271.5h0M57 236.6h0M72.8 266.4h0M70 253.2h0M60.9 279.2h0M81.3 254.7h0M61.4 262.8h0M71.9 271.8h0M62 254.4h0M71 253.6h0M70.3 252.3h0M71.3 266.7h0M85.4 268h0M71.9 261h0M63 254.7h0M44 269.9h0M69.6 270.4h0M61 245.7h0M66.9 279.1h0M59 256.1h0M77 266.8h0M81.3 266.6h0M88 261.9h0M78.9 256.9h0M61.8 259.8h0M74.9 270.3h0M59.4 271.4h0M71.3 246.6h0M73.9 264.7h0M61.7 256.9h0M74.5 279.5h0M67.3 262.7h0M61.2 255.9h0M83.1 263.9h0M98.3 269h0M73.9 251.4h0M81 265.2h0M71.1 262.1h0M71.5 277.6h0M89.4 257.4h0M60.8 247.2h0M76.8 271.9h0M63.9 249.2h0M77.5 268.5h0M67.6 257.9h0M78.6 271.3h0M57.9 264.3h0M72.8 274.4h0M86.4 272h0M62.3 270.4h0M67.7 275.7h0M81.6 258.3h0M75.2 267h0M82.7 269.9h0M48 263.2h0M74.8 273.2h0M58.9 267.4h0M56.5 263.7h0M73.6 262.4h0M76.5 248.8h0M53.7 258.8h0M56.3 255.3h0M60.5 252.6h0M68.9 263.9h0M53.1 252.5h0M88.6 253.3h0M75 261.3h0M70.8 275.9h0M64.2 261.7h0M93.2 264.8h0M90.7 259.9h0M68.1 272.1h0M69.3 251.7h0M84.5 270h0M54.2 251.6h0M67.1 271.9h0M84.1 266.3h0M62.1 260.5h0M68.8 272.4h0M58.3 268.3h0M55 242.2h0M74.9 258.5h0M58.4 253.9h0M57.3 264.2h0M56.7 243.3h0M90.1 271.8h0M66.9 250.1h0M59.9 250.7h0M76.1 277.4h0M67.8 245.3h0M68.6 256.6h0M52.1 263.9h0M69.3 253.7h0M66.4 260h0" stroke="#F55F0A" stroke-width="2.35" stroke-linecap="round" fill="none"/>
</g>
<g clip-path="url(#c31)">
<path d="M270.8 294.7h0M260.6 294.1h0M253.5 294.1h0M262.7 293.4h0M262.4 293.1h0M255.3 294.9h0M259.1 295h0M263.7 294.3h0M265.6 294.4h0M269.1 295.1h0M264.8 294.9h0M258.9 293.8h0M259.5 292.9h0M265.6 294.9h0M266.7 293.5h0M267.7 294h0M258.7 294.1h0M260.6 293.2h0M266.9 291.6h0M268.2 294.1h0M270.3 293.2h0M254.8 294.9h0M271.7 294.3h0M267.3 293.4h0M265.1 294.2h0M265.6 294.1h0M256.5 292.4h0M255.7 293.3h0M263.8 294.7h0M277.4 294.8h0M259 294.4h0M269.4 292.8h0M265.2 294.7h0M260.3 293.3h0M267.9 294.1h0M259.5 295.1h0M263 294.4h0M263.1 292.5h0M260 291.3h0M273.4 295.1h0M265.9 293.3h0M264.4 294.2h0M264.2 293.2h0M265.1 293.9h0M262.6 293.5h0M201.1 295.6h0M206.1 296.3h0M195 296.1h0M209.6 295.5h0M210.4 295.6h0M191 295.6h0M195.8 296.1h0M199.8 296h0" stroke="#262626" stroke-width="1.3" stroke-linecap="round" fill="none"/>
<path d="M269.6 295.9h2.6M270.9 294.6v2.6M263 296.2h2.6M264.3 294.9v2.6M263.8 296.3h2.6M265.1 295v2.6M266.9 296.1h2.6M268.2 294.8v2.6M275.6 296h2.6M276.9 294.7v2.6M259.5 295.9h2.6M260.8 294.6v2.6M268 296.1h2.6M269.3 294.8v2.6M266 296.3h2.6M267.3 295v2.6M264.2 296h2.6M265.5 294.7v2.6M271.4 296h2.6M272.7 294.7v2.6M266.1 296h2.6M267.4 294.7v2.6M261.6 296.2h2.6M262.9 294.9v2.6M262 295.8h2.6M263.3 294.5v2.6M272.1 296.1h2.6M273.4 294.8v2.6M268.9 296h2.6M270.2 294.7v2.6M262.4 296.1h2.6M263.7 294.8v2.6M264.9 295.8h2.6M266.2 294.5v2.6M270.1 296h2.6M271.4 294.7v2.6M264.7 295.7h2.6M266 294.4v2.6M263.6 295.9h2.6M264.9 294.6v2.6M263.9 296.3h2.6M265.2 295v2.6M266.6 295.9h2.6M267.9 294.6v2.6M260.9 296.2h2.6M262.2 294.9v2.6M263.3 296h2.6M264.6 294.7v2.6M266.9 296.1h2.6M268.2 294.8v2.6M267.4 296h2.6M268.7 294.7v2.6M263.2 296h2.6M264.5 294.7v2.6M268.4 296h2.6M269.7 294.7v2.6M268 295.8h2.6M269.3 294.5v2.6M258.8 296.2h2.6M260.1 294.9v2.6M261 295.4h2.6M262.3 294.1v2.6M268.4 296.1h2.6M269.7 294.8v2.6M261 296.1h2.6M262.3 294.8v2.6M263.2 295.5h2.6M264.5 294.2v2.6M262.2 296.1h2.6M263.5 294.8v2.6M267.3 296.1h2.6M268.6 294.8v2.6M273 296.1h2.6M274.3 294.8v2.6M269.8 295.7h2.6M271.1 294.4v2.6M271.1 296.1h2.6M272.4 294.8v2.6M273.1 296.2h2.6M274.4 294.9v2.6M267.6 296.3h2.6M268.9 295v2.6M263.5 295.9h2.6M264.8 294.6v2.6M265.6 296h2.6M266.9 294.7v2.6M254.4 296h2.6M255.7 294.7v2.6M275.8 296.3h2.6M277.1 295v2.6M269.5 295.9h2.6M270.8 294.6v2.6M267.8 296h2.6M269.1 294.7v2.6M268.4 296.1h2.6M269.7 294.8v2.6M266.6 296h2.6M267.9 294.7v2.6M263.8 296.1h2.6M265.1 294.8v2.6M268.6 296.3h2.6M269.9 295v2.6M268 296.2h2.6M269.3 294.9v2.6M266.2 296h2.6M267.5 294.7v2.6M264 296.2h2.6M265.3 294.9v2.6M274.4 296h2.6M275.7 294.7v2.6M263 296.1h2.6M264.3 294.8v2.6M266.5 296h2.6M267.8 294.7v2.6M264.1 295.9h2.6M265.4 294.6v2.6M269.7 296.2h2.6M271 294.9v2.6M271.4 296.2h2.6M272.7 294.9v2.6M259.7 296.3h2.6M261 295v2.6M267.3 296.2h2.6M268.6 294.9v2.6M277 295.7h2.6M278.3 294.4v2.6M264.2 296.2h2.6M265.5 294.9v2.6M269.1 296.2h2.6M270.4 294.9v2.6M265 296.2h2.6M266.3 294.9v2.6M267.4 295.8h2.6M268.7 294.5v2.6M263 296.2h2.6M264.3 294.9v2.6M272 296h2.6M273.3 294.7v2.6M269.5 296.1h2.6M270.8 294.8v2.6M192.7 296.1h2.6M194 294.8v2.6M192.2 296.1h2.6M193.5 294.8v2.6M200.7 296h2.6M202 294.7v2.6M197.3 296.3h2.6M198.6 295v2.6M202.1 296.1h2.6M203.4 294.8v2.6M181.8 295.8h2.6M183.1 294.5v2.6M192.9 296.2h2.6M194.2 294.9v2.6M194 296.2h2.6M195.3 294.9v2.6M195.4 296.1h2.6M196.7 294.8v2.6M196.8 296.2h2.6M198.1 294.9v2.6M188.5 296.3h2.6M189.8 295v2.6M187.7 296.1h2.6M189 294.8v2.6M193.9 296.3h2.6M195.2 295v2.6M198.9 295.9h2.6M200.2 294.6v2.6M196.7 295.9h2.6M198 294.6v2.6M194.7 296.2h2.6M196 294.9v2.6M167.5 295.9h2.6M168.8 294.6v2.6M174 296h2.6M175.3 294.7v2.6M169.6 295.8h2.6M170.9 294.5v2.6M166.6 296.1h2.6M167.9 294.8v2.6" stroke="#F7A11A" stroke-width="1.15" fill="none"/>
<path d="M277.2 290.6l2.2 2.2m0-2.2l-2.2 2.2M251.2 287.6l2.2 2.2m0-2.2l-2.2 2.2M270 293.4l2.2 2.2m0-2.2l-2.2 2.2M273.9 291l2.2 2.2m0-2.2l-2.2 2.2M256.9 288.8l2.2 2.2m0-2.2l-2.2 2.2M271.8 292.4l2.2 2.2m0-2.2l-2.2 2.2M260.3 293.2l2.2 2.2m0-2.2l-2.2 2.2M261.6 292.1l2.2 2.2m0-2.2l-2.2 2.2M273 291.7l2.2 2.2m0-2.2l-2.2 2.2M272.8 291.5l2.2 2.2m0-2.2l-2.2 2.2M259.9 292.5l2.2 2.2m0-2.2l-2.2 2.2M267.7 289.4l2.2 2.2m0-2.2l-2.2 2.2M267 291.5l2.2 2.2m0-2.2l-2.2 2.2M268.7 289.3l2.2 2.2m0-2.2l-2.2 2.2M274.3 291.2l2.2 2.2m0-2.2l-2.2 2.2M269.5 288.8l2.2 2.2m0-2.2l-2.2 2.2M256.9 291.8l2.2 2.2m0-2.2l-2.2 2.2M272.6 290.9l2.2 2.2m0-2.2l-2.2 2.2M260.4 292.6l2.2 2.2m0-2.2l-2.2 2.2M268 288.7l2.2 2.2m0-2.2l-2.2 2.2M262.7 293.6l2.2 2.2m0-2.2l-2.2 2.2M271.9 288.7l2.2 2.2m0-2.2l-2.2 2.2M264.7 291.6l2.2 2.2m0-2.2l-2.2 2.2M273.7 292.1l2.2 2.2m0-2.2l-2.2 2.2M269.5 290.6l2.2 2.2m0-2.2l-2.2 2.2M256.6 290.6l2.2 2.2m0-2.2l-2.2 2.2M258.1 292.7l2.2 2.2m0-2.2l-2.2 2.2M260 287.5l2.2 2.2m0-2.2l-2.2 2.2M273.4 293.1l2.2 2.2m0-2.2l-2.2 2.2M260.2 293.2l2.2 2.2m0-2.2l-2.2 2.2M269.4 289.3l2.2 2.2m0-2.2l-2.2 2.2M261.3 292.9l2.2 2.2m0-2.2l-2.2 2.2M256.2 293l2.2 2.2m0-2.2l-2.2 2.2M268.3 292.1l2.2 2.2m0-2.2l-2.2 2.2M266.6 289.7l2.2 2.2m0-2.2l-2.2 2.2M258.7 290.2l2.2 2.2m0-2.2l-2.2 2.2M275.4 292.8l2.2 2.2m0-2.2l-2.2 2.2M266.3 287.9l2.2 2.2m0-2.2l-2.2 2.2M267.9 288.3l2.2 2.2m0-2.2l-2.2 2.2M257.8 288.7l2.2 2.2m0-2.2l-2.2 2.2M266.8 291.3l2.2 2.2m0-2.2l-2.2 2.2M275.5 291.1l2.2 2.2m0-2.2l-2.2 2.2M273 291l2.2 2.2m0-2.2l-2.2 2.2M269.1 291.8l2.2 2.2m0-2.2l-2.2 2.2M263.8 291.1l2.2 2.2m0-2.2l-2.2 2.2M265.8 286.4l2.2 2.2m0-2.2l-2.2 2.2M267.8 292.4l2.2 2.2m0-2.2l-2.2 2.2M259 286l2.2 2.2m0-2.2l-2.2 2.2M273.1 291.6l2.2 2.2m0-2.2l-2.2 2.2M271.9 293.5l2.2 2.2m0-2.2l-2.2 2.2M257 288l2.2 2.2m0-2.2l-2.2 2.2M259.5 293.1l2.2 2.2m0-2.2l-2.2 2.2M259 290.7l2.2 2.2m0-2.2l-2.2 2.2M260.7 292.8l2.2 2.2m0-2.2l-2.2 2.2M263.7 293.4l2.2 2.2m0-2.2l-2.2 2.2M264.2 288.1l2.2 2.2m0-2.2l-2.2 2.2M264.9 290.9l2.2 2.2m0-2.2l-2.2 2.2M264.1 290.1l2.2 2.2m0-2.2l-2.2 2.2M268 289.2l2.2 2.2m0-2.2l-2.2 2.2M263.8 286.1l2.2 2.2m0-2.2l-2.2 2.2M264.9 290.9l2.2 2.2m0-2.2l-2.2 2.2M269.9 291.9l2.2 2.2m0-2.2l-2.2 2.2M199.3 293.7l2.2 2.2m0-2.2l-2.2 2.2M188.9 293.2l2.2 2.2m0-2.2l-2.2 2.2M200.4 294l2.2 2.2m0-2.2l-2.2 2.2M192.1 293.8l2.2 2.2m0-2.2l-2.2 2.2M197.2 292.8l2.2 2.2m0-2.2l-2.2 2.2M197.2 292l2.2 2.2m0-2.2l-2.2 2.2M202.8 293.3l2.2 2.2m0-2.2l-2.2 2.2" stroke="#3DB6EE" stroke-width="1.15" fill="none"/>
<path d="M257.3 289.7h0M264.9 289.8h0M254.8 281.7h0M249.7 284.5h0M258.5 281.4h0M266.4 289.8h0M269.1 294.2h0M257.2 289.6h0M263.1 288.9h0M253.8 285.7h0M252.5 283.2h0M259.4 288.5h0M247.3 290.7h0M265.9 287.2h0M248.9 282.2h0M266 290.5h0M258.1 290.5h0M247.1 292h0M259.9 293.4h0M253.2 282h0M251.3 291.7h0M256.2 287.5h0M249.9 293.3h0M268.7 287.9h0M245.7 293.1h0M253.9 284.9h0M259.6 284.4h0M265 290h0M270.7 288.2h0M261 289.6h0M259.2 292.2h0M263.7 285.2h0M273.2 282.9h0M258.4 282.9h0M259.9 287h0M264.6 294.5h0M247.9 287.3h0M264.4 286.2h0M266.7 286.3h0M257.8 290.1h0M257.6 288.4h0M254.3 286.1h0M260.8 283.1h0M258.2 286.3h0M252.5 281.3h0M259.9 291.4h0M255.7 282h0M250.3 280.5h0M260.3 286.9h0M259 285.3h0M260.1 291.9h0M252.2 294.2h0M253.3 290.1h0M251.6 284.6h0M245.7 288.2h0M253.4 283.1h0M252.7 288.1h0M263.3 289.4h0M262.6 282.1h0M250.7 283h0M258.4 281.1h0M263.4 283.3h0M257.2 285.2h0M265.6 284.7h0M258 291.5h0M270.7 286.3h0M257.4 293.2h0M255.7 286.5h0M247.3 284.1h0M260.5 290.4h0M256.2 285.8h0M251.1 286.7h0M257.7 288.5h0M252.2 285.1h0M257.1 287.1h0M245.4 283.8h0M247.9 281.5h0M256.2 286.7h0M257.3 291.8h0M259.7 287.6h0M254.9 281.3h0M267 292.3h0M256.7 285.2h0M259.2 287h0M256.9 286.8h0M254 287.9h0M260.9 283.4h0M257.5 287.4h0M247.6 294.2h0M261.9 284.9h0M265.5 274.8h0M259.4 289.7h0" stroke="#19AA8D" stroke-width="2.1" stroke-linecap="square" fill="none"/>
<path d="M268.9 284.2l1.1 1.4l-1.1 1.4l-1.1-1.4zM263.5 273.8l1.1 1.4l-1.1 1.4l-1.1-1.4zM258.4 281l1.1 1.4l-1.1 1.4l-1.1-1.4zM260.4 281.4l1.1 1.4l-1.1 1.4l-1.1-1.4zM270.2 274.4l1.1 1.4l-1.1 1.4l-1.1-1.4zM254.3 278.5l1.1 1.4l-1.1 1.4l-1.1-1.4zM259.2 278.2l1.1 1.4l-1.1 1.4l-1.1-1.4zM257.8 278.9l1.1 1.4l-1.1 1.4l-1.1-1.4zM259.3 279.8l1.1 1.4l-1.1 1.4l-1.1-1.4zM256.7 277.1l1.1 1.4l-1.1 1.4l-1.1-1.4zM259.5 271.5l1.1 1.4l-1.1 1.4l-1.1-1.4zM262.7 286.2l1.1 1.4l-1.1 1.4l-1.1-1.4zM261.8 279.6l1.1 1.4l-1.1 1.4l-1.1-1.4zM258.9 272.3l1.1 1.4l-1.1 1.4l-1.1-1.4zM274.9 271.9l1.1 1.4l-1.1 1.4l-1.1-1.4zM252.2 276.4l1.1 1.4l-1.1 1.4l-1.1-1.4zM263.8 282.8l1.1 1.4l-1.1 1.4l-1.1-1.4zM258.8 282.5l1.1 1.4l-1.1 1.4l-1.1-1.4zM249.1 290l1.1 1.4l-1.1 1.4l-1.1-1.4zM263.3 280.6l1.1 1.4l-1.1 1.4l-1.1-1.4zM269.5 274.7l1.1 1.4l-1.1 1.4l-1.1-1.4zM257.6 285.1l1.1 1.4l-1.1 1.4l-1.1-1.4zM264.6 280.4l1.1 1.4l-1.1 1.4l-1.1-1.4zM248.9 284.7l1.1 1.4l-1.1 1.4l-1.1-1.4zM255.2 283.2l1.1 1.4l-1.1 1.4l-1.1-1.4zM263.5 275.2l1.1 1.4l-1.1 1.4l-1.1-1.4zM268.5 282.1l1.1 1.4l-1.1 1.4l-1.1-1.4zM245.4 275.4l1.1 1.4l-1.1 1.4l-1.1-1.4zM261 283.8l1.1 1.4l-1.1 1.4l-1.1-1.4zM262.6 275.6l1.1 1.4l-1.1 1.4l-1.1-1.4zM259.4 282.2l1.1 1.4l-1.1 1.4l-1.1-1.4zM253.5 286.5l1.1 1.4l-1.1 1.4l-1.1-1.4zM257.8 283.3l1.1 1.4l-1.1 1.4l-1.1-1.4zM245.9 278.2l1.1 1.4l-1.1 1.4l-1.1-1.4zM260.3 280.2l1.1 1.4l-1.1 1.4l-1.1-1.4zM263.1 284.2l1.1 1.4l-1.1 1.4l-1.1-1.4zM257.6 275.8l1.1 1.4l-1.1 1.4l-1.1-1.4zM252.7 286.7l1.1 1.4l-1.1 1.4l-1.1-1.4zM253.8 281l1.1 1.4l-1.1 1.4l-1.1-1.4zM264.6 269.3l1.1 1.4l-1.1 1.4l-1.1-1.4zM260.7 274.7l1.1 1.4l-1.1 1.4l-1.1-1.4zM253.8 276.4l1.1 1.4l-1.1 1.4l-1.1-1.4zM258.1 280.1l1.1 1.4l-1.1 1.4l-1.1-1.4zM264.9 280.7l1.1 1.4l-1.1 1.4l-1.1-1.4zM263.9 268.3l1.1 1.4l-1.1 1.4l-1.1-1.4zM260 271.5l1.1 1.4l-1.1 1.4l-1.1-1.4zM264.4 276.6l1.1 1.4l-1.1 1.4l-1.1-1.4zM259.4 282.9l1.1 1.4l-1.1 1.4l-1.1-1.4zM255.4 280.4l1.1 1.4l-1.1 1.4l-1.1-1.4zM262.7 275l1.1 1.4l-1.1 1.4l-1.1-1.4zM260.4 285.3l1.1 1.4l-1.1 1.4l-1.1-1.4zM259.6 267.2l1.1 1.4l-1.1 1.4l-1.1-1.4zM258.9 268.9l1.1 1.4l-1.1 1.4l-1.1-1.4zM259.3 280.8l1.1 1.4l-1.1 1.4l-1.1-1.4zM266.7 280.2l1.1 1.4l-1.1 1.4l-1.1-1.4zM257.2 285.4l1.1 1.4l-1.1 1.4l-1.1-1.4zM259.6 282.9l1.1 1.4l-1.1 1.4l-1.1-1.4zM261.8 274.1l1.1 1.4l-1.1 1.4l-1.1-1.4zM258.6 290.8l1.1 1.4l-1.1 1.4l-1.1-1.4zM261.3 273.7l1.1 1.4l-1.1 1.4l-1.1-1.4zM259.3 292.1l1.1 1.4l-1.1 1.4l-1.1-1.4zM261.1 275.8l1.1 1.4l-1.1 1.4l-1.1-1.4zM262.9 290.6l1.1 1.4l-1.1 1.4l-1.1-1.4zM263.8 282.6l1.1 1.4l-1.1 1.4l-1.1-1.4zM259.4 292.1l1.1 1.4l-1.1 1.4l-1.1-1.4zM215.1 284l1.1 1.4l-1.1 1.4l-1.1-1.4zM220.2 275.9l1.1 1.4l-1.1 1.4l-1.1-1.4zM225.9 271.1l1.1 1.4l-1.1 1.4l-1.1-1.4zM219.1 276.5l1.1 1.4l-1.1 1.4l-1.1-1.4zM219.6 281.4l1.1 1.4l-1.1 1.4l-1.1-1.4zM222.9 280l1.1 1.4l-1.1 1.4l-1.1-1.4zM220.8 271.7l1.1 1.4l-1.1 1.4l-1.1-1.4zM219.9 276.2l1.1 1.4l-1.1 1.4l-1.1-1.4zM220.5 273.5l1.1 1.4l-1.1 1.4l-1.1-1.4zM216.4 279.2l1.1 1.4l-1.1 1.4l-1.1-1.4zM217.7 282.8l1.1 1.4l-1.1 1.4l-1.1-1.4zM226.5 279.3l1.1 1.4l-1.1 1.4l-1.1-1.4zM225 276l1.1 1.4l-1.1 1.4l-1.1-1.4zM220.9 283.8l1.1 1.4l-1.1 1.4l-1.1-1.4zM227.4 277.8l1.1 1.4l-1.1 1.4l-1.1-1.4zM219.4 283.6l1.1 1.4l-1.1 1.4l-1.1-1.4zM211.3 265.9l1.1 1.4l-1.1 1.4l-1.1-1.4zM220.6 279.5l1.1 1.4l-1.1 1.4l-1.1-1.4zM223.8 288.8l1.1 1.4l-1.1 1.4l-1.1-1.4zM211.6 275.2l1.1 1.4l-1.1 1.4l-1.1-1.4z" stroke="#F0E250" stroke-width="0.7" fill="#F4E66A"/>
<path d="M255.3 278.8l1.35 2.4h-2.7zM254.7 270.8l1.35 2.4h-2.7zM270.2 280.5l1.35 2.4h-2.7zM270.5 280.7l1.35 2.4h-2.7zM265 281.7l1.35 2.4h-2.7zM272 263.2l1.35 2.4h-2.7zM254.4 284.2l1.35 2.4h-2.7zM272.7 286.3l1.35 2.4h-2.7zM263.8 285.1l1.35 2.4h-2.7zM268.7 270.7l1.35 2.4h-2.7zM270.3 265.9l1.35 2.4h-2.7zM270.1 277.2l1.35 2.4h-2.7zM254.9 276.3l1.35 2.4h-2.7zM259.1 270.6l1.35 2.4h-2.7zM262.7 278.8l1.35 2.4h-2.7zM257.8 275.1l1.35 2.4h-2.7zM260.9 278.6l1.35 2.4h-2.7zM269.1 286.1l1.35 2.4h-2.7zM260.9 280.1l1.35 2.4h-2.7zM269 286.3l1.35 2.4h-2.7zM260.6 279.2l1.35 2.4h-2.7zM271.4 264.7l1.35 2.4h-2.7zM261.1 269.1l1.35 2.4h-2.7zM276.2 269.6l1.35 2.4h-2.7zM257.8 278.4l1.35 2.4h-2.7zM266.6 264.7l1.35 2.4h-2.7zM267.7 274l1.35 2.4h-2.7zM264.6 264.4l1.35 2.4h-2.7zM263.5 280.4l1.35 2.4h-2.7zM264.8 273.1l1.35 2.4h-2.7zM257.2 273.1l1.35 2.4h-2.7zM266 271.6l1.35 2.4h-2.7zM269 286.1l1.35 2.4h-2.7zM259.6 289l1.35 2.4h-2.7zM259.3 261.4l1.35 2.4h-2.7zM257.3 283.2l1.35 2.4h-2.7zM265.4 273.4l1.35 2.4h-2.7zM267.1 276.5l1.35 2.4h-2.7zM253.5 281.8l1.35 2.4h-2.7zM264.7 279.7l1.35 2.4h-2.7zM260.8 280.6l1.35 2.4h-2.7zM265.1 269.8l1.35 2.4h-2.7zM264.3 276.5l1.35 2.4h-2.7zM263.8 279.9l1.35 2.4h-2.7zM263.5 279.7l1.35 2.4h-2.7zM262.7 273.9l1.35 2.4h-2.7zM260.2 254.3l1.35 2.4h-2.7zM268.9 269.1l1.35 2.4h-2.7zM258.8 269.4l1.35 2.4h-2.7zM262.4 277.8l1.35 2.4h-2.7zM255.7 290.6l1.35 2.4h-2.7zM259.8 274.3l1.35 2.4h-2.7zM262.9 282.4l1.35 2.4h-2.7zM265.3 273.3l1.35 2.4h-2.7zM264.2 279.7l1.35 2.4h-2.7zM265.6 286l1.35 2.4h-2.7zM264.7 276.2l1.35 2.4h-2.7zM258.4 291.4l1.35 2.4h-2.7zM255.2 270.6l1.35 2.4h-2.7zM260.6 278.8l1.35 2.4h-2.7zM261.1 271.1l1.35 2.4h-2.7zM256.7 287.3l1.35 2.4h-2.7zM214.8 274.4l1.35 2.4h-2.7zM217 276.7l1.35 2.4h-2.7zM218.6 281l1.35 2.4h-2.7zM215.7 283.2l1.35 2.4h-2.7zM220.2 275.5l1.35 2.4h-2.7zM219.4 272.7l1.35 2.4h-2.7zM219.2 280.4l1.35 2.4h-2.7zM215 280.3l1.35 2.4h-2.7zM226.1 281.5l1.35 2.4h-2.7zM219.4 281.3l1.35 2.4h-2.7zM213.8 281.1l1.35 2.4h-2.7zM212 288.5l1.35 2.4h-2.7zM213.3 272l1.35 2.4h-2.7zM215.5 273.7l1.35 2.4h-2.7zM217.3 278.4l1.35 2.4h-2.7zM217.7 272.5l1.35 2.4h-2.7zM218.7 273.5l1.35 2.4h-2.7zM220.6 277l1.35 2.4h-2.7zM212.7 277.9l1.35 2.4h-2.7zM216.1 277.9l1.35 2.4h-2.7zM212.7 273.6l1.35 2.4h-2.7zM212.3 277.2l1.35 2.4h-2.7zM214.7 269.6l1.35 2.4h-2.7zM217.3 268l1.35 2.4h-2.7zM216.8 267.4l1.35 2.4h-2.7zM217.7 272.8l1.35 2.4h-2.7zM216.1 281.6l1.35 2.4h-2.7zM209.9 273.1l1.35 2.4h-2.7zM207.5 282.8l1.35 2.4h-2.7zM224.2 273.2l1.35 2.4h-2.7zM226.5 278.8l1.35 2.4h-2.7zM223.7 277.2l1.35 2.4h-2.7zM221.1 267l1.35 2.4h-2.7zM217.8 273.3l1.35 2.4h-2.7zM214.2 267.3l1.35 2.4h-2.7zM212.3 282l1.35 2.4h-2.7zM217.5 284.6l1.35 2.4h-2.7zM224.8 280.3l1.35 2.4h-2.7zM222.7 280.7l1.35 2.4h-2.7zM226.3 277.1l1.35 2.4h-2.7zM225.8 272.4l1.35 2.4h-2.7zM215 271.9l1.35 2.4h-2.7zM222.5 278.9l1.35 2.4h-2.7zM210.5 280.6l1.35 2.4h-2.7zM218.1 271l1.35 2.4h-2.7z" stroke="#1E8CD2" stroke-width="0.6" fill="#1E8CD2" stroke-linejoin="round"/>
<path d="M261.6 278.4h0M272 261.7h0M273.8 264.9h0M262.1 237.5h0M266.4 251.2h0M262.7 271.5h0M270.1 262.9h0M274.7 245.9h0M269 248.3h0M276.3 269.6h0M269.9 254.5h0M264.6 260.3h0M267.3 271.9h0M271.2 277.3h0M267.6 257.3h0M278.3 264h0M219.6 252h0M206.1 254.1h0M220.8 232.5h0M211.4 250.6h0M203.9 271h0M222.5 274.3h0M211.2 253.3h0M216.7 268.7h0M213.4 255.2h0M221.1 241.3h0M221.1 278h0M221.2 267.5h0M218.7 257.7h0M204.5 232.2h0M204 271.5h0M215.6 236.6h0M208.5 266.4h0M217.2 253.2h0M215.4 279.2h0M205.7 254.7h0M208 262.8h0M207.4 271.8h0M208.9 254.4h0M213.1 253.6h0M218.5 252.3h0M222.5 266.7h0M208.4 268h0M210.9 261h0M223.9 254.7h0M219.8 269.9h0M215.8 270.4h0M199.9 245.7h0M208.1 279.1h0M215.3 256.1h0M210.7 266.8h0M226.5 266.6h0M214.9 261.9h0M216.1 256.9h0M207.6 259.8h0M207.9 270.3h0M210.2 271.4h0M210.5 246.6h0M212.9 264.7h0M216.6 256.9h0M215.8 279.5h0M220.5 262.7h0M206 255.9h0M215.6 263.9h0M215.8 269h0M224.1 251.4h0M213 265.2h0M216.3 262.1h0M209.3 277.6h0M216.9 257.4h0M216.8 247.2h0M210.4 271.9h0M211.6 249.2h0M214.1 268.5h0M217.9 257.9h0M207.2 271.3h0M219.7 264.3h0M212.3 274.4h0M226 272h0M223.3 270.4h0M211.8 275.7h0M210.5 258.3h0M229.4 267h0M218.2 269.9h0M217.8 263.2h0M211.7 273.2h0M213.5 267.4h0M219.3 263.7h0M218.1 262.4h0M209.2 248.8h0M222 258.8h0M216.2 255.3h0M208.5 252.6h0M220.4 263.9h0M213.2 252.5h0M219.1 253.3h0M210.9 261.3h0M216.5 275.9h0M204.3 261.7h0M216.6 264.8h0M205 259.9h0M215.3 272.1h0M198.7 251.7h0M213.9 270h0M218.8 251.6h0M217.3 271.9h0M221.7 266.3h0M207.7 260.5h0M224 272.4h0M224.2 268.3h0M206.9 242.2h0M209.4 258.5h0M210.8 253.9h0M214.2 264.2h0M215.5 243.3h0M199.2 271.8h0M218 250.1h0M212.7 250.7h0M208.1 277.4h0M220.1 245.3h0M212.2 256.6h0M221.3 263.9h0M217.6 253.7h0M212.3 260h0" stroke="#F55F0A" stroke-width="2.35" stroke-linecap="round" fill="none"/>
</g>
<g clip-path="url(#c32)">
<path d="M318.1 294.7h0M315.8 294.1h0M320.2 294.1h0M312.3 293.4h0M313.6 293.1h0M314.1 294.9h0M309.6 295h0M317 294.3h0M316.1 294.4h0M311.3 295.1h0M316.4 294.9h0M305.8 293.8h0M320.6 292.9h0M315.7 294.9h0M306 293.5h0M311.3 294h0M315.8 294.1h0M319 293.2h0M321.4 291.6h0M315.3 294.1h0M308.5 293.2h0M310.1 294.9h0M319.8 294.3h0M320.9 293.4h0M313 294.2h0M314.6 294.1h0M312.8 292.4h0M320 293.3h0M309.2 294.7h0M308.8 294.8h0M311.6 294.4h0M314.7 292.8h0M301.8 294.7h0M316.7 293.3h0M317.7 294.1h0M309.6 295.1h0M314 294.4h0M315.8 292.5h0M312.9 291.3h0M321.6 295.1h0M316.6 293.3h0M306.4 294.2h0M312.1 293.2h0M314.9 293.9h0M311.7 293.5h0M298.8 295.6h0M301.3 296.3h0M299.2 296.1h0M299.7 295.5h0M296.7 295.6h0M302.4 295.6h0M301.9 296.1h0M299.8 296h0" stroke="#262626" stroke-width="1.3" stroke-linecap="round" fill="none"/>
<path d="M304.6 295.9h2.6M305.9 294.6v2.6M307.3 296.2h2.6M308.6 294.9v2.6M303.4 296.3h2.6M304.7 295v2.6M304.1 296.1h2.6M305.4 294.8v2.6M303.3 296h2.6M304.6 294.7v2.6M311.3 295.9h2.6M312.6 294.6v2.6M312.9 296.1h2.6M314.2 294.8v2.6M310.2 296.3h2.6M311.5 295v2.6M304.9 296h2.6M306.2 294.7v2.6M307.6 296h2.6M308.9 294.7v2.6M306.3 296h2.6M307.6 294.7v2.6M304.2 296.2h2.6M305.5 294.9v2.6M314.3 295.8h2.6M315.6 294.5v2.6M305.3 296.1h2.6M306.6 294.8v2.6M307.5 296h2.6M308.8 294.7v2.6M302.6 296.1h2.6M303.9 294.8v2.6M315 295.8h2.6M316.3 294.5v2.6M313.6 296h2.6M314.9 294.7v2.6M314.4 295.7h2.6M315.7 294.4v2.6M312.9 295.9h2.6M314.2 294.6v2.6M313.5 296.3h2.6M314.8 295v2.6M305.6 295.9h2.6M306.9 294.6v2.6M310.7 296.2h2.6M312 294.9v2.6M310.7 296h2.6M312 294.7v2.6M310.5 296.1h2.6M311.8 294.8v2.6M310.7 296h2.6M312 294.7v2.6M315.4 296h2.6M316.7 294.7v2.6M307.3 296h2.6M308.6 294.7v2.6M304.2 295.8h2.6M305.5 294.5v2.6M307.5 296.2h2.6M308.8 294.9v2.6M315.1 295.4h2.6M316.4 294.1v2.6M307.8 296.1h2.6M309.1 294.8v2.6M310.7 296.1h2.6M312 294.8v2.6M313.3 295.5h2.6M314.6 294.2v2.6M308.6 296.1h2.6M309.9 294.8v2.6M306.1 296.1h2.6M307.4 294.8v2.6M299.3 296.1h2.6M300.6 294.8v2.6M310.6 295.7h2.6M311.9 294.4v2.6M309.5 296.1h2.6M310.8 294.8v2.6M310.6 296.2h2.6M311.9 294.9v2.6M307.5 296.3h2.6M308.8 295v2.6M299.3 295.9h2.6M300.6 294.6v2.6M313.6 296h2.6M314.9 294.7v2.6M308.6 296h2.6M309.9 294.7v2.6M313.1 296.3h2.6M314.4 295v2.6M310.2 295.9h2.6M311.5 294.6v2.6M303.4 296h2.6M304.7 294.7v2.6M310.6 296.1h2.6M311.9 294.8v2.6M312.6 296h2.6M313.9 294.7v2.6M315.8 296.1h2.6M317.1 294.8v2.6M305.6 296.3h2.6M306.9 295v2.6M309.7 296.2h2.6M311 294.9v2.6M312.3 296h2.6M313.6 294.7v2.6M310 296.2h2.6M311.3 294.9v2.6M310.8 296h2.6M312.1 294.7v2.6M310.8 296.1h2.6M312.1 294.8v2.6M308.9 296h2.6M310.2 294.7v2.6M316 295.9h2.6M317.3 294.6v2.6M307.9 296.2h2.6M309.2 294.9v2.6M307.4 296.2h2.6M308.7 294.9v2.6M308 296.3h2.6M309.3 295v2.6M306.4 296.2h2.6M307.7 294.9v2.6M305.2 295.7h2.6M306.5 294.4v2.6M306.3 296.2h2.6M307.6 294.9v2.6M305.5 296.2h2.6M306.8 294.9v2.6M310.4 296.2h2.6M311.7 294.9v2.6M314.8 295.8h2.6M316.1 294.5v2.6M310.2 296.2h2.6M311.5 294.9v2.6M316 296h2.6M317.3 294.7v2.6M301.2 296.1h2.6M302.5 294.8v2.6M302.4 296.1h2.6M303.7 294.8v2.6M303.3 296.1h2.6M304.6 294.8v2.6M297.5 296h2.6M298.8 294.7v2.6M297.6 296.3h2.6M298.9 295v2.6M297.9 296.1h2.6M299.2 294.8v2.6M295.6 295.8h2.6M296.9 294.5v2.6M293.4 296.2h2.6M294.7 294.9v2.6M297.2 296.2h2.6M298.5 294.9v2.6M298.8 296.1h2.6M300.1 294.8v2.6M297.9 296.2h2.6M299.2 294.9v2.6M292.6 296.3h2.6M293.9 295v2.6M301.6 296.1h2.6M302.9 294.8v2.6M302.3 296.3h2.6M303.6 295v2.6M302.6 295.9h2.6M303.9 294.6v2.6M300 295.9h2.6M301.3 294.6v2.6M301.4 296.2h2.6M302.7 294.9v2.6M294.7 295.9h2.6M296 294.6v2.6M294.9 296h2.6M296.2 294.7v2.6M296.9 295.8h2.6M298.2 294.5v2.6M296.4 296.1h2.6M297.7 294.8v2.6" stroke="#F7A11A" stroke-width="1.15" fill="none"/>
<path d="M313.9 290.6l2.2 2.2m0-2.2l-2.2 2.2M315.6 287.6l2.2 2.2m0-2.2l-2.2 2.2M312 293.4l2.2 2.2m0-2.2l-2.2 2.2M311.9 291l2.2 2.2m0-2.2l-2.2 2.2M312.7 288.8l2.2 2.2m0-2.2l-2.2 2.2M307.3 292.4l2.2 2.2m0-2.2l-2.2 2.2M311 293.2l2.2 2.2m0-2.2l-2.2 2.2M311.8 292.1l2.2 2.2m0-2.2l-2.2 2.2M311.5 291.7l2.2 2.2m0-2.2l-2.2 2.2M313.5 291.5l2.2 2.2m0-2.2l-2.2 2.2M306.5 292.5l2.2 2.2m0-2.2l-2.2 2.2M309.3 289.4l2.2 2.2m0-2.2l-2.2 2.2M314.6 291.5l2.2 2.2m0-2.2l-2.2 2.2M311.9 289.3l2.2 2.2m0-2.2l-2.2 2.2M308.1 291.2l2.2 2.2m0-2.2l-2.2 2.2M317 288.8l2.2 2.2m0-2.2l-2.2 2.2M307.8 291.8l2.2 2.2m0-2.2l-2.2 2.2M311.8 290.9l2.2 2.2m0-2.2l-2.2 2.2M306.9 292.6l2.2 2.2m0-2.2l-2.2 2.2M314.5 288.7l2.2 2.2m0-2.2l-2.2 2.2M310.2 293.6l2.2 2.2m0-2.2l-2.2 2.2M316.4 288.7l2.2 2.2m0-2.2l-2.2 2.2M314.7 291.6l2.2 2.2m0-2.2l-2.2 2.2M309.1 292.1l2.2 2.2m0-2.2l-2.2 2.2M313.1 290.6l2.2 2.2m0-2.2l-2.2 2.2M308.2 290.6l2.2 2.2m0-2.2l-2.2 2.2M305.7 292.7l2.2 2.2m0-2.2l-2.2 2.2M314 287.5l2.2 2.2m0-2.2l-2.2 2.2M310.9 293.1l2.2 2.2m0-2.2l-2.2 2.2M312.6 293.2l2.2 2.2m0-2.2l-2.2 2.2M304.7 289.3l2.2 2.2m0-2.2l-2.2 2.2M312.7 292.9l2.2 2.2m0-2.2l-2.2 2.2M310.9 293l2.2 2.2m0-2.2l-2.2 2.2M318.8 292.1l2.2 2.2m0-2.2l-2.2 2.2M310.7 289.7l2.2 2.2m0-2.2l-2.2 2.2M313.6 290.2l2.2 2.2m0-2.2l-2.2 2.2M317.2 292.8l2.2 2.2m0-2.2l-2.2 2.2M312.3 287.9l2.2 2.2m0-2.2l-2.2 2.2M318.2 288.3l2.2 2.2m0-2.2l-2.2 2.2M306.7 288.7l2.2 2.2m0-2.2l-2.2 2.2M307 291.3l2.2 2.2m0-2.2l-2.2 2.2M307.3 291.1l2.2 2.2m0-2.2l-2.2 2.2M306 291l2.2 2.2m0-2.2l-2.2 2.2M312.4 291.8l2.2 2.2m0-2.2l-2.2 2.2M312.7 291.1l2.2 2.2m0-2.2l-2.2 2.2M315.1 286.4l2.2 2.2m0-2.2l-2.2 2.2M314.1 292.4l2.2 2.2m0-2.2l-2.2 2.2M313.5 286l2.2 2.2m0-2.2l-2.2 2.2M307.5 291.6l2.2 2.2m0-2.2l-2.2 2.2M310.4 293.5l2.2 2.2m0-2.2l-2.2 2.2M316.9 288l2.2 2.2m0-2.2l-2.2 2.2M313 293.1l2.2 2.2m0-2.2l-2.2 2.2M314.2 290.7l2.2 2.2m0-2.2l-2.2 2.2M309.9 292.8l2.2 2.2m0-2.2l-2.2 2.2M312.2 293.4l2.2 2.2m0-2.2l-2.2 2.2M308.6 288.1l2.2 2.2m0-2.2l-2.2 2.2M307.9 290.9l2.2 2.2m0-2.2l-2.2 2.2M317.3 290.1l2.2 2.2m0-2.2l-2.2 2.2M311.9 289.2l2.2 2.2m0-2.2l-2.2 2.2M314.3 286.1l2.2 2.2m0-2.2l-2.2 2.2M318.6 290.9l2.2 2.2m0-2.2l-2.2 2.2M307.3 291.9l2.2 2.2m0-2.2l-2.2 2.2M298.2 293.7l2.2 2.2m0-2.2l-2.2 2.2M301.3 293.2l2.2 2.2m0-2.2l-2.2 2.2M300.9 294l2.2 2.2m0-2.2l-2.2 2.2M301.7 293.8l2.2 2.2m0-2.2l-2.2 2.2M300.1 292.8l2.2 2.2m0-2.2l-2.2 2.2M300.4 292l2.2 2.2m0-2.2l-2.2 2.2M296.3 293.3l2.2 2.2m0-2.2l-2.2 2.2" stroke="#3DB6EE" stroke-width="1.15" fill="none"/>
<path d="M310.4 289.7h0M310.6 289.8h0M322.5 281.7h0M317.4 284.5h0M321.6 281.4h0M314 289.8h0M314.7 294.2h0M312.7 289.6h0M310.1 288.9h0M317.9 285.7h0M314.4 283.2h0M312.6 288.5h0M319 290.7h0M315.3 287.2h0M317.4 282.2h0M308.7 290.5h0M315.6 290.5h0M307.8 292h0M308.1 293.4h0M312 282h0M306.9 291.7h0M311.3 287.5h0M310.3 293.3h0M317.7 287.9h0M312.9 293.1h0M314.2 284.9h0M312.1 284.4h0M305.6 290h0M315.8 288.2h0M315.1 289.6h0M309.8 292.2h0M317.8 285.2h0M317.4 282.9h0M317.4 282.9h0M315.9 287h0M310.2 294.5h0M310.6 287.3h0M309.4 286.2h0M318.4 286.3h0M317.5 290.1h0M314.8 288.4h0M315.9 286.1h0M317.9 283.1h0M310.2 286.3h0M316.9 281.3h0M318 291.4h0M315.8 282h0M326.8 280.5h0M323.8 286.9h0M310.2 285.3h0M313.8 291.9h0M314.8 294.2h0M313.4 290.1h0M315.9 284.6h0M310.8 288.2h0M319.5 283.1h0M314.4 288.1h0M313.9 289.4h0M320 282.1h0M314.9 283h0M318.7 281.1h0M315.5 283.3h0M320.5 285.2h0M314.6 284.7h0M309 291.5h0M314.3 286.3h0M313.8 293.2h0M316.7 286.5h0M312 284.1h0M301.7 290.4h0M312.8 285.8h0M311.4 286.7h0M322.5 288.5h0M314 285.1h0M316 287.1h0M324.7 283.8h0M312.1 281.5h0M317.9 286.7h0M321.5 291.8h0M319.7 287.6h0M312.6 281.3h0M310.5 292.3h0M317.6 285.2h0M314.6 287h0M316.9 286.8h0M315.6 287.9h0M315.1 283.4h0M315.2 287.4h0M318.3 294.2h0M316.9 284.9h0M321 274.8h0M312 289.7h0" stroke="#19AA8D" stroke-width="2.1" stroke-linecap="square" fill="none"/>
<path d="M313.3 284.2l1.1 1.4l-1.1 1.4l-1.1-1.4zM328.1 273.8l1.1 1.4l-1.1 1.4l-1.1-1.4zM318.3 281l1.1 1.4l-1.1 1.4l-1.1-1.4zM316.6 281.4l1.1 1.4l-1.1 1.4l-1.1-1.4zM322.6 274.4l1.1 1.4l-1.1 1.4l-1.1-1.4zM317.1 278.5l1.1 1.4l-1.1 1.4l-1.1-1.4zM322.4 278.2l1.1 1.4l-1.1 1.4l-1.1-1.4zM315.4 278.9l1.1 1.4l-1.1 1.4l-1.1-1.4zM320.7 279.8l1.1 1.4l-1.1 1.4l-1.1-1.4zM319.3 277.1l1.1 1.4l-1.1 1.4l-1.1-1.4zM315.3 271.5l1.1 1.4l-1.1 1.4l-1.1-1.4zM316.9 286.2l1.1 1.4l-1.1 1.4l-1.1-1.4zM322.2 279.6l1.1 1.4l-1.1 1.4l-1.1-1.4zM322 272.3l1.1 1.4l-1.1 1.4l-1.1-1.4zM326.5 271.9l1.1 1.4l-1.1 1.4l-1.1-1.4zM322.6 276.4l1.1 1.4l-1.1 1.4l-1.1-1.4zM318.5 282.8l1.1 1.4l-1.1 1.4l-1.1-1.4zM317.8 282.5l1.1 1.4l-1.1 1.4l-1.1-1.4zM313.1 290l1.1 1.4l-1.1 1.4l-1.1-1.4zM317.6 280.6l1.1 1.4l-1.1 1.4l-1.1-1.4zM315 274.7l1.1 1.4l-1.1 1.4l-1.1-1.4zM316.7 285.1l1.1 1.4l-1.1 1.4l-1.1-1.4zM312.6 280.4l1.1 1.4l-1.1 1.4l-1.1-1.4zM315.3 284.7l1.1 1.4l-1.1 1.4l-1.1-1.4zM323.7 283.2l1.1 1.4l-1.1 1.4l-1.1-1.4zM321.3 275.2l1.1 1.4l-1.1 1.4l-1.1-1.4zM324.3 282.1l1.1 1.4l-1.1 1.4l-1.1-1.4zM317.8 275.4l1.1 1.4l-1.1 1.4l-1.1-1.4zM315 283.8l1.1 1.4l-1.1 1.4l-1.1-1.4zM312 275.6l1.1 1.4l-1.1 1.4l-1.1-1.4zM314.4 282.2l1.1 1.4l-1.1 1.4l-1.1-1.4zM314.5 286.5l1.1 1.4l-1.1 1.4l-1.1-1.4zM313.9 283.3l1.1 1.4l-1.1 1.4l-1.1-1.4zM317.3 278.2l1.1 1.4l-1.1 1.4l-1.1-1.4zM312.6 280.2l1.1 1.4l-1.1 1.4l-1.1-1.4zM318.1 284.2l1.1 1.4l-1.1 1.4l-1.1-1.4zM320.7 275.8l1.1 1.4l-1.1 1.4l-1.1-1.4zM317.9 286.7l1.1 1.4l-1.1 1.4l-1.1-1.4zM320.9 281l1.1 1.4l-1.1 1.4l-1.1-1.4zM330.1 269.3l1.1 1.4l-1.1 1.4l-1.1-1.4zM321.7 274.7l1.1 1.4l-1.1 1.4l-1.1-1.4zM322.1 276.4l1.1 1.4l-1.1 1.4l-1.1-1.4zM318.8 280.1l1.1 1.4l-1.1 1.4l-1.1-1.4zM319.7 280.7l1.1 1.4l-1.1 1.4l-1.1-1.4zM327.7 268.3l1.1 1.4l-1.1 1.4l-1.1-1.4zM326.7 271.5l1.1 1.4l-1.1 1.4l-1.1-1.4zM315.7 276.6l1.1 1.4l-1.1 1.4l-1.1-1.4zM316.2 282.9l1.1 1.4l-1.1 1.4l-1.1-1.4zM318.9 280.4l1.1 1.4l-1.1 1.4l-1.1-1.4zM322.3 275l1.1 1.4l-1.1 1.4l-1.1-1.4zM314.4 285.3l1.1 1.4l-1.1 1.4l-1.1-1.4zM318.6 267.2l1.1 1.4l-1.1 1.4l-1.1-1.4zM319.9 268.9l1.1 1.4l-1.1 1.4l-1.1-1.4zM314.2 280.8l1.1 1.4l-1.1 1.4l-1.1-1.4zM311.7 280.2l1.1 1.4l-1.1 1.4l-1.1-1.4zM315.1 285.4l1.1 1.4l-1.1 1.4l-1.1-1.4zM321.6 282.9l1.1 1.4l-1.1 1.4l-1.1-1.4zM320.1 274.1l1.1 1.4l-1.1 1.4l-1.1-1.4zM315.6 290.8l1.1 1.4l-1.1 1.4l-1.1-1.4zM324.4 273.7l1.1 1.4l-1.1 1.4l-1.1-1.4zM309.7 292.1l1.1 1.4l-1.1 1.4l-1.1-1.4zM314.6 275.8l1.1 1.4l-1.1 1.4l-1.1-1.4zM310.8 290.6l1.1 1.4l-1.1 1.4l-1.1-1.4zM316.3 282.6l1.1 1.4l-1.1 1.4l-1.1-1.4zM311.3 292.1l1.1 1.4l-1.1 1.4l-1.1-1.4zM365.1 284l1.1 1.4l-1.1 1.4l-1.1-1.4zM365.4 275.9l1.1 1.4l-1.1 1.4l-1.1-1.4zM360.5 271.1l1.1 1.4l-1.1 1.4l-1.1-1.4zM363.9 276.5l1.1 1.4l-1.1 1.4l-1.1-1.4zM369.2 281.4l1.1 1.4l-1.1 1.4l-1.1-1.4zM369.7 280l1.1 1.4l-1.1 1.4l-1.1-1.4zM370.4 271.7l1.1 1.4l-1.1 1.4l-1.1-1.4zM366.5 276.2l1.1 1.4l-1.1 1.4l-1.1-1.4zM368.1 273.5l1.1 1.4l-1.1 1.4l-1.1-1.4zM364.3 279.2l1.1 1.4l-1.1 1.4l-1.1-1.4zM371.6 282.8l1.1 1.4l-1.1 1.4l-1.1-1.4zM368.8 279.3l1.1 1.4l-1.1 1.4l-1.1-1.4zM366.6 276l1.1 1.4l-1.1 1.4l-1.1-1.4zM358.8 283.8l1.1 1.4l-1.1 1.4l-1.1-1.4zM364.5 277.8l1.1 1.4l-1.1 1.4l-1.1-1.4zM363.9 283.6l1.1 1.4l-1.1 1.4l-1.1-1.4zM371.3 265.9l1.1 1.4l-1.1 1.4l-1.1-1.4zM360 279.5l1.1 1.4l-1.1 1.4l-1.1-1.4zM361.8 288.8l1.1 1.4l-1.1 1.4l-1.1-1.4zM365.6 275.2l1.1 1.4l-1.1 1.4l-1.1-1.4z" stroke="#F0E250" stroke-width="0.7" fill="#F4E66A"/>
<path d="M316.9 278.8l1.35 2.4h-2.7zM325.3 270.8l1.35 2.4h-2.7zM309.1 280.5l1.35 2.4h-2.7zM322.7 280.7l1.35 2.4h-2.7zM310.1 281.7l1.35 2.4h-2.7zM319.6 263.2l1.35 2.4h-2.7zM326.2 284.2l1.35 2.4h-2.7zM314.2 286.3l1.35 2.4h-2.7zM311.7 285.1l1.35 2.4h-2.7zM319.2 270.7l1.35 2.4h-2.7zM327.6 265.9l1.35 2.4h-2.7zM320.1 277.2l1.35 2.4h-2.7zM314.4 276.3l1.35 2.4h-2.7zM317.9 270.6l1.35 2.4h-2.7zM323.9 278.8l1.35 2.4h-2.7zM320.7 275.1l1.35 2.4h-2.7zM314.1 278.6l1.35 2.4h-2.7zM320.3 286.1l1.35 2.4h-2.7zM319.9 280.1l1.35 2.4h-2.7zM318.4 286.3l1.35 2.4h-2.7zM313.4 279.2l1.35 2.4h-2.7zM320.4 264.7l1.35 2.4h-2.7zM313.9 269.1l1.35 2.4h-2.7zM326.6 269.6l1.35 2.4h-2.7zM319.3 278.4l1.35 2.4h-2.7zM309.2 264.7l1.35 2.4h-2.7zM317.6 274l1.35 2.4h-2.7zM318.1 264.4l1.35 2.4h-2.7zM320.9 280.4l1.35 2.4h-2.7zM321.4 273.1l1.35 2.4h-2.7zM320.8 273.1l1.35 2.4h-2.7zM315.7 271.6l1.35 2.4h-2.7zM318 286.1l1.35 2.4h-2.7zM318.3 289l1.35 2.4h-2.7zM327.4 261.4l1.35 2.4h-2.7zM313.4 283.2l1.35 2.4h-2.7zM320.5 273.4l1.35 2.4h-2.7zM326.1 276.5l1.35 2.4h-2.7zM312.2 281.8l1.35 2.4h-2.7zM322.5 279.7l1.35 2.4h-2.7zM318.5 280.6l1.35 2.4h-2.7zM322.1 269.8l1.35 2.4h-2.7zM326.3 276.5l1.35 2.4h-2.7zM316.2 279.9l1.35 2.4h-2.7zM315.6 279.7l1.35 2.4h-2.7zM324.3 273.9l1.35 2.4h-2.7zM325.2 254.3l1.35 2.4h-2.7zM321.8 269.1l1.35 2.4h-2.7zM322.5 269.4l1.35 2.4h-2.7zM317.1 277.8l1.35 2.4h-2.7zM315 290.6l1.35 2.4h-2.7zM315.1 274.3l1.35 2.4h-2.7zM313.2 282.4l1.35 2.4h-2.7zM317.7 273.3l1.35 2.4h-2.7zM324.7 279.7l1.35 2.4h-2.7zM315.4 286l1.35 2.4h-2.7zM319.1 276.2l1.35 2.4h-2.7zM316.2 291.4l1.35 2.4h-2.7zM318.8 270.6l1.35 2.4h-2.7zM320.3 278.8l1.35 2.4h-2.7zM326.4 271.1l1.35 2.4h-2.7zM318.6 287.3l1.35 2.4h-2.7zM358.9 274.4l1.35 2.4h-2.7zM369.2 276.7l1.35 2.4h-2.7zM371.7 281l1.35 2.4h-2.7zM366.3 283.2l1.35 2.4h-2.7zM372.8 275.5l1.35 2.4h-2.7zM358.9 272.7l1.35 2.4h-2.7zM373.5 280.4l1.35 2.4h-2.7zM370.5 280.3l1.35 2.4h-2.7zM364.4 281.5l1.35 2.4h-2.7zM379 281.3l1.35 2.4h-2.7zM360 281.1l1.35 2.4h-2.7zM362.4 288.5l1.35 2.4h-2.7zM375.5 272l1.35 2.4h-2.7zM370 273.7l1.35 2.4h-2.7zM377.5 278.4l1.35 2.4h-2.7zM364.3 272.5l1.35 2.4h-2.7zM373.4 273.5l1.35 2.4h-2.7zM366.1 277l1.35 2.4h-2.7zM373.3 277.9l1.35 2.4h-2.7zM369.1 277.9l1.35 2.4h-2.7zM368.7 273.6l1.35 2.4h-2.7zM378.3 277.2l1.35 2.4h-2.7zM368.1 269.6l1.35 2.4h-2.7zM377.1 268l1.35 2.4h-2.7zM371.6 267.4l1.35 2.4h-2.7zM372.1 272.8l1.35 2.4h-2.7zM372.1 281.6l1.35 2.4h-2.7zM371.2 273.1l1.35 2.4h-2.7zM363.7 282.8l1.35 2.4h-2.7zM358.9 273.2l1.35 2.4h-2.7zM370.2 278.8l1.35 2.4h-2.7zM370.2 277.2l1.35 2.4h-2.7zM372.2 267l1.35 2.4h-2.7zM367.3 273.3l1.35 2.4h-2.7zM379 267.3l1.35 2.4h-2.7zM373.5 282l1.35 2.4h-2.7zM372 284.6l1.35 2.4h-2.7zM370.7 280.3l1.35 2.4h-2.7zM367.3 280.7l1.35 2.4h-2.7zM365.7 277.1l1.35 2.4h-2.7zM369.9 272.4l1.35 2.4h-2.7zM374.2 271.9l1.35 2.4h-2.7zM379 278.9l1.35 2.4h-2.7zM370.7 280.6l1.35 2.4h-2.7zM365.3 271l1.35 2.4h-2.7z" stroke="#1E8CD2" stroke-width="0.6" fill="#1E8CD2" stroke-linejoin="round"/>
<path d="M328.3 278.4h0M315.1 261.7h0M315.2 264.9h0M322.3 237.5h0M322 251.2h0M327.1 271.5h0M329 262.9h0M326.5 245.9h0M326.2 248.3h0M313.3 269.6h0M320.4 254.5h0M325.5 260.3h0M325.6 271.9h0M315.6 277.3h0M322.1 257.3h0M318 264h0M393.8 252h0M390.4 254.1h0M383.9 232.5h0M371.4 250.6h0M376.2 271h0M385 274.3h0M382.1 253.3h0M395.4 268.7h0M385.8 255.2h0M387.9 241.3h0M382.5 278h0M374.1 267.5h0M382.2 257.7h0M382.7 232.2h0M365.2 271.5h0M372.8 236.6h0M387.5 266.4h0M380.4 253.2h0M378 279.2h0M371.7 254.7h0M377.4 262.8h0M386.8 271.8h0M384.6 254.4h0M379.7 253.6h0M396.6 252.3h0M380.9 266.7h0M378.3 268h0M391.8 261h0M369.7 254.7h0M385.3 269.9h0M371.7 270.4h0M379.1 245.7h0M373.5 279.1h0M384.5 256.1h0M382.3 266.8h0M383.9 266.6h0M384 261.9h0M394.7 256.9h0M396.5 259.8h0M386.5 270.3h0M386.7 271.4h0M382.2 246.6h0M372.9 264.7h0M388.1 256.9h0M379.3 279.5h0M389.2 262.7h0M368.7 255.9h0M403.7 263.9h0M370.7 269h0M384.7 251.4h0M389.8 265.2h0M371.1 262.1h0M374.9 277.6h0M366.8 257.4h0M373.6 247.2h0M365.2 271.9h0M385.7 249.2h0M383.5 268.5h0M380.6 257.9h0M390.8 271.3h0M393.2 264.3h0M379.9 274.4h0M378.7 272h0M378.5 270.4h0M376.1 275.7h0M393.7 258.3h0M383.3 267h0M378.2 269.9h0M380.3 263.2h0M384.6 273.2h0M378.1 267.4h0M384.6 263.7h0M382 262.4h0M395.9 248.8h0M392.4 258.8h0M372.2 255.3h0M382.9 252.6h0M387.8 263.9h0M380.6 252.5h0M390.6 253.3h0M385.2 261.3h0M384.5 275.9h0M381.9 261.7h0M384.3 264.8h0M387 259.9h0M368.5 272.1h0M376.9 251.7h0M372.6 270h0M398 251.6h0M382.9 271.9h0M384.6 266.3h0M384.1 260.5h0M376.2 272.4h0M375.2 268.3h0M393.1 242.2h0M380 258.5h0M396.8 253.9h0M383.6 264.2h0M386.7 243.3h0M378.8 271.8h0M384.1 250.1h0M384.9 250.7h0M391.8 277.4h0M404.5 245.3h0M374.1 256.6h0M384.1 263.9h0M389.7 253.7h0M375.5 260h0" stroke="#F55F0A" stroke-width="2.35" stroke-linecap="round" fill="none"/>
</g>
<g stroke="#3a3a3a" stroke-width="0.55">
<rect x="35" y="76.3" width="5.7" height="2.2" fill="#2A9AD6"/>
<rect x="40.7" y="70.3" width="5.8" height="6" fill="#F8A468"/>
<rect x="40.7" y="76.3" width="5.8" height="2.2" fill="#EFA030"/>
<rect x="46.5" y="63.3" width="5.8" height="12.2" fill="#2A9AD6"/>
<rect x="46.5" y="75.5" width="5.8" height="3" fill="#E89838"/>
<rect x="52.3" y="58" width="5.7" height="17" fill="#F8A468"/>
<rect x="52.3" y="75" width="5.7" height="3.5" fill="#E8A020"/>
<rect x="58" y="35.3" width="5.6" height="26" fill="#F8A468"/>
<rect x="58" y="61.3" width="5.6" height="17.2" fill="#C8864A"/>
<rect x="63.6" y="35.3" width="5.9" height="23.1" fill="#F8A468"/>
<rect x="63.6" y="58.4" width="5.9" height="20.1" fill="#C8864A"/>
<rect x="69.5" y="17.5" width="5.8" height="26.6" fill="#F8A468"/>
<rect x="69.5" y="44.1" width="5.8" height="10.9" fill="#C08F66"/>
<rect x="69.5" y="55" width="5.8" height="23.5" fill="#C4884C"/>
<rect x="75.3" y="29.7" width="5.7" height="14.4" fill="#F8A468"/>
<rect x="75.3" y="44.1" width="5.7" height="10.9" fill="#C08F66"/>
<rect x="75.3" y="55" width="5.7" height="23.5" fill="#C4884C"/>
<rect x="81" y="39.4" width="5.6" height="21.6" fill="#2A9AD6"/>
<rect x="81" y="61" width="5.6" height="17.5" fill="#C88848"/>
<rect x="86.6" y="17.7" width="5.8" height="23.5" fill="#F6E87C"/>
<rect x="86.6" y="41.2" width="5.8" height="12.2" fill="#30A8A8"/>
<rect x="86.6" y="53.4" width="5.8" height="25.1" fill="#C88848"/>
<rect x="92.4" y="17.7" width="5.7" height="18.3" fill="#F6E87C"/>
<rect x="92.4" y="36" width="5.7" height="8" fill="#A8C040"/>
<rect x="92.4" y="44" width="5.7" height="24.5" fill="#18A098"/>
<rect x="92.4" y="68.5" width="5.7" height="10" fill="#C88848"/>
<rect x="98.1" y="16.2" width="5.8" height="5.3" fill="#18B0A0"/>
<rect x="98.1" y="21.5" width="5.8" height="27.5" fill="#98C848"/>
<rect x="98.1" y="49" width="5.8" height="29.5" fill="#10A090"/>
<rect x="103.9" y="31.4" width="5.8" height="11.2" fill="#5E5E5E"/>
<rect x="103.9" y="42.6" width="5.8" height="23.9" fill="#109878"/>
<rect x="103.9" y="66.5" width="5.8" height="12" fill="#18A0A0"/>
<rect x="109.7" y="10" width="5.8" height="18.4" fill="#72C9F0"/>
<rect x="109.7" y="28.4" width="5.8" height="44.8" fill="#12A888"/>
<rect x="109.7" y="73.2" width="5.8" height="5.3" fill="#18A0A0"/>
<rect x="115.5" y="21.5" width="5.7" height="23.7" fill="#F8C050"/>
<rect x="115.5" y="45.2" width="5.7" height="14" fill="#84BCB0"/>
<rect x="115.5" y="59.2" width="5.7" height="19.3" fill="#12A888"/>
<rect x="121.2" y="18" width="5.8" height="33" fill="#72C9F0"/>
<rect x="121.2" y="51" width="5.8" height="10.5" fill="#84BCB0"/>
<rect x="121.2" y="61.5" width="5.8" height="17" fill="#12A888"/>
<rect x="127" y="21.5" width="5.8" height="29" fill="#F8C050"/>
<rect x="127" y="50.5" width="5.8" height="20.7" fill="#84BCB0"/>
<rect x="127" y="71.2" width="5.8" height="7.3" fill="#12A888"/>
<rect x="132.8" y="60.7" width="5.8" height="13.1" fill="#F8C050"/>
<rect x="132.8" y="73.8" width="5.8" height="4.7" fill="#70A8A0"/>
<rect x="138.6" y="68.3" width="5.4" height="6.7" fill="#F8C050"/>
<rect x="138.6" y="75" width="5.4" height="3.5" fill="#13A597"/>
<rect x="144" y="76.3" width="5.5" height="2.2" fill="#F8C050"/>
</g>
<g stroke="#3a3a3a" stroke-width="0.55">
<rect x="164.2" y="148.9" width="5.8" height="3.1" fill="#F0C040"/>
<rect x="170" y="151" width="5.3" height="1" fill="#F0C040"/>
<rect x="175.3" y="151" width="5.2" height="1" fill="#F0C040"/>
<rect x="180.5" y="149.2" width="5.9" height="2.8" fill="#F0C040"/>
<rect x="186.4" y="146" width="5.8" height="3.5" fill="#5E5E5E"/>
<rect x="186.4" y="149.5" width="5.8" height="2.5" fill="#B07840"/>
<rect x="192.2" y="141.1" width="5.8" height="1.4" fill="#F8D050"/>
<rect x="192.2" y="142.5" width="5.8" height="7" fill="#E0A020"/>
<rect x="192.2" y="149.5" width="5.8" height="2.5" fill="#60C0C0"/>
<rect x="198" y="136.1" width="5.2" height="8.7" fill="#5E5E5E"/>
<rect x="198" y="144.8" width="5.2" height="5.7" fill="#F08010"/>
<rect x="198" y="150.5" width="5.2" height="1.5" fill="#C8864A"/>
<rect x="203.2" y="122" width="5.3" height="20.2" fill="#F8A468"/>
<rect x="203.2" y="142.2" width="5.3" height="9.8" fill="#C8863E"/>
<rect x="208.5" y="114.9" width="5.8" height="16.3" fill="#F8A468"/>
<rect x="208.5" y="131.2" width="5.8" height="10.8" fill="#C09068"/>
<rect x="208.5" y="142" width="5.8" height="10" fill="#C8863E"/>
<rect x="214.3" y="113.4" width="5.5" height="17.8" fill="#F8A468"/>
<rect x="214.3" y="131.2" width="5.5" height="10.8" fill="#C09068"/>
<rect x="214.3" y="142" width="5.5" height="10" fill="#C8863E"/>
<rect x="219.8" y="137.5" width="5.5" height="9.5" fill="#F8A468"/>
<rect x="219.8" y="147" width="5.5" height="5" fill="#C08050"/>
<rect x="225.3" y="145.2" width="5.3" height="6.8" fill="#F8A468"/>
<rect x="241.3" y="147.2" width="5.4" height="2.3" fill="#20B8A8"/>
<rect x="241.3" y="149.5" width="5.4" height="1.5" fill="#C0C040"/>
<rect x="241.3" y="151" width="5.4" height="1" fill="#13A597"/>
<rect x="246.7" y="122.7" width="5.8" height="8.6" fill="#B8D850"/>
<rect x="246.7" y="131.3" width="5.8" height="18.3" fill="#10A0A0"/>
<rect x="246.7" y="149.6" width="5.8" height="2.4" fill="#D49038"/>
<rect x="252.5" y="83.7" width="6.1" height="27.2" fill="#18C0A8"/>
<rect x="252.5" y="110.9" width="6.1" height="4.1" fill="#B0D048"/>
<rect x="252.5" y="115" width="6.1" height="33.5" fill="#10A0A0"/>
<rect x="252.5" y="148.5" width="6.1" height="3.5" fill="#D49038"/>
<rect x="258.6" y="106.1" width="5.2" height="17.9" fill="#D8E880"/>
<rect x="258.6" y="124" width="5.2" height="20.7" fill="#10A0A0"/>
<rect x="258.6" y="144.7" width="5.2" height="7.3" fill="#D49038"/>
<rect x="263.8" y="89.8" width="5.5" height="5.4" fill="#555555"/>
<rect x="263.8" y="95.2" width="5.5" height="14" fill="#2088C0"/>
<rect x="263.8" y="109.2" width="5.5" height="27.2" fill="#68A8B0"/>
<rect x="263.8" y="136.4" width="5.5" height="3.3" fill="#D8D860"/>
<rect x="263.8" y="139.7" width="5.5" height="9.9" fill="#18A0B0"/>
<rect x="263.8" y="149.6" width="5.5" height="2.4" fill="#D49038"/>
<rect x="269.3" y="112.9" width="5.1" height="8" fill="#F8C050"/>
<rect x="269.3" y="120.9" width="5.1" height="17.6" fill="#80C0C0"/>
<rect x="269.3" y="138.5" width="5.1" height="8.5" fill="#10B890"/>
<rect x="269.3" y="147" width="5.1" height="5" fill="#D49038"/>
<rect x="274.4" y="136.8" width="5.3" height="7.1" fill="#70C8F0"/>
<rect x="274.4" y="143.9" width="5.3" height="3.7" fill="#80A8A8"/>
<rect x="274.4" y="147.6" width="5.3" height="4.4" fill="#10B890"/>
</g>
<g stroke="#3a3a3a" stroke-width="0.55">
<rect x="294.3" y="213.4" width="5.4" height="9.2" fill="#E8A020"/>
<rect x="294.3" y="222.6" width="5.4" height="2" fill="#40B0B0"/>
<rect x="299.7" y="204" width="5.4" height="7.7" fill="#686868"/>
<rect x="299.7" y="211.7" width="5.4" height="10.5" fill="#E8A020"/>
<rect x="299.7" y="222.2" width="5.4" height="2.4" fill="#60C0C0"/>
<rect x="305.1" y="183.9" width="5.5" height="4.6" fill="#E0A020"/>
<rect x="305.1" y="188.5" width="5.5" height="6.6" fill="#80B8B8"/>
<rect x="305.1" y="195.1" width="5.5" height="22" fill="#12A888"/>
<rect x="305.1" y="217.1" width="5.5" height="7.5" fill="#A8D848"/>
<rect x="310.6" y="156.9" width="5.4" height="32.8" fill="#18B0A0"/>
<rect x="310.6" y="189.7" width="5.4" height="10.7" fill="#A8D048"/>
<rect x="310.6" y="200.4" width="5.4" height="23.1" fill="#1898A8"/>
<rect x="310.6" y="223.5" width="5.4" height="1.1" fill="#D49038"/>
<rect x="316" y="180.5" width="5.9" height="8.8" fill="#F6E87C"/>
<rect x="316" y="189.3" width="5.9" height="30.3" fill="#18A0A8"/>
<rect x="316" y="219.6" width="5.9" height="5" fill="#D89040"/>
<rect x="321.9" y="209.6" width="5.4" height="5.9" fill="#30A8C0"/>
<rect x="321.9" y="215.5" width="5.4" height="9.1" fill="#D89040"/>
<rect x="327.3" y="223.9" width="5.9" height="0.7" fill="#D08030"/>
<rect x="360.4" y="211.5" width="5.3" height="7" fill="#2098D0"/>
<rect x="360.4" y="218.5" width="5.3" height="4" fill="#30B0B0"/>
<rect x="360.4" y="222.5" width="5.3" height="2.1" fill="#E09040"/>
<rect x="365.7" y="214.5" width="5.5" height="2" fill="#2098D0"/>
<rect x="365.7" y="216.5" width="5.5" height="8.1" fill="#C88840"/>
<rect x="371.2" y="203.5" width="5.6" height="6.6" fill="#F8A468"/>
<rect x="371.2" y="210.1" width="5.6" height="14.5" fill="#C88848"/>
<rect x="376.8" y="198.3" width="5.5" height="26.3" fill="#F8A468"/>
<rect x="382.3" y="201" width="5.7" height="21" fill="#F8A468"/>
<rect x="382.3" y="222" width="5.7" height="2.6" fill="#C8864A"/>
<rect x="388" y="216.3" width="5.6" height="8.3" fill="#F8A468"/>
<rect x="393.6" y="217.4" width="5.5" height="7.2" fill="#F8A468"/>
<rect x="399.1" y="222.6" width="5.5" height="2" fill="#F8A468"/>
<rect x="404.6" y="223.6" width="5.5" height="1" fill="#F8A468"/>
</g>
<g stroke="#3a3a3a" stroke-width="0.55">
<rect x="423.9" y="230.5" width="5.7" height="30.4" fill="#D89820"/>
<rect x="423.9" y="260.9" width="5.7" height="33.5" fill="#70B0A8"/>
<rect x="423.9" y="294.4" width="5.7" height="4.1" fill="#10B090"/>
<rect x="429.6" y="268.6" width="5.1" height="9.7" fill="#80D0F0"/>
<rect x="429.6" y="278.3" width="5.1" height="20.2" fill="#20B8A8"/>
<rect x="434.7" y="268.6" width="5.7" height="20.1" fill="#20C0A8"/>
<rect x="434.7" y="288.7" width="5.7" height="2.8" fill="#E8E060"/>
<rect x="434.7" y="291.5" width="5.7" height="7" fill="#20A8A8"/>
<rect x="440.4" y="285.5" width="5.6" height="2.8" fill="#30A8E0"/>
<rect x="440.4" y="288.3" width="5.6" height="10.2" fill="#20A8A8"/>
<rect x="446" y="280.4" width="5.9" height="17.5" fill="#20A8A8"/>
<rect x="446" y="297.9" width="5.9" height="0.6" fill="#D08030"/>
<rect x="451.9" y="282.5" width="5.5" height="2.5" fill="#F0E060"/>
<rect x="451.9" y="285" width="5.5" height="6.6" fill="#20A8B0"/>
<rect x="451.9" y="291.6" width="5.5" height="1.3" fill="#2090C0"/>
<rect x="451.9" y="292.9" width="5.5" height="5.6" fill="#D89040"/>
<rect x="457.4" y="291.6" width="5.6" height="1.7" fill="#3090C0"/>
<rect x="457.4" y="293.3" width="5.6" height="5.2" fill="#D08838"/>
<rect x="463" y="292.9" width="5" height="5.6" fill="#E08830"/>
<rect x="468" y="288.3" width="5.6" height="7.1" fill="#F8A468"/>
<rect x="468" y="295.4" width="5.6" height="3.1" fill="#C8864A"/>
<rect x="473.6" y="292.7" width="5.2" height="5.8" fill="#F8A468"/>
<rect x="478.8" y="291.2" width="5.6" height="7.3" fill="#F8A468"/>
<rect x="484.4" y="292.3" width="5.3" height="6.2" fill="#F8A468"/>
<rect x="489.7" y="292.7" width="5.6" height="5.8" fill="#F8A468"/>
<rect x="495.3" y="295.2" width="5.4" height="3.3" fill="#F8A468"/>
<rect x="500.7" y="296.7" width="5.4" height="1.8" fill="#F8A468"/>
<rect x="506.1" y="296.2" width="5.9" height="2.3" fill="#F8A468"/>
<rect x="512" y="297.5" width="5" height="1" fill="#F8A468"/>
<rect x="517" y="296.5" width="5.8" height="2" fill="#F8A468"/>
<rect x="533.7" y="297.5" width="5.4" height="1" fill="#C8864A"/>
</g>
<path d="M52.2 78.4v-1.4M52.2 6.9v1.4M75.2 78.4v-1.4M75.2 6.9v1.4M98.3 78.4v-1.4M98.3 6.9v1.4M121.3 78.4v-1.4M121.3 6.9v1.4M144.3 78.4v-1.4M144.3 6.9v1.4M29.5 67.8h1.4M155.6 67.8h-1.4M29.5 53.6h1.4M155.6 53.6h-1.4M29.5 39.5h1.4M155.6 39.5h-1.4M29.5 25.4h1.4M155.6 25.4h-1.4M29.5 11.3h1.4M155.6 11.3h-1.4M167.9 78.4v-1.4M167.9 6.9v1.4M190.4 78.4v-1.4M190.4 6.9v1.4M213 78.4v-1.4M213 6.9v1.4M235.5 78.4v-1.4M235.5 6.9v1.4M258.1 78.4v-1.4M258.1 6.9v1.4M280.6 78.4v-1.4M280.6 6.9v1.4M159 67.8h1.4M285.5 67.8h-1.4M159 53.6h1.4M285.5 53.6h-1.4M159 39.5h1.4M285.5 39.5h-1.4M159 25.4h1.4M285.5 25.4h-1.4M159 11.3h1.4M285.5 11.3h-1.4M295.3 78.4v-1.4M295.3 6.9v1.4M316.5 78.4v-1.4M316.5 6.9v1.4M337.7 78.4v-1.4M337.7 6.9v1.4M358.9 78.4v-1.4M358.9 6.9v1.4M380 78.4v-1.4M380 6.9v1.4M401.2 78.4v-1.4M401.2 6.9v1.4M288.7 67.8h1.4M415.6 67.8h-1.4M288.7 53.6h1.4M415.6 53.6h-1.4M288.7 39.5h1.4M415.6 39.5h-1.4M288.7 25.4h1.4M415.6 25.4h-1.4M288.7 11.3h1.4M415.6 11.3h-1.4M424.4 78.4v-1.4M424.4 6.9v1.4M452 78.4v-1.4M452 6.9v1.4M479.5 78.4v-1.4M479.5 6.9v1.4M507.1 78.4v-1.4M507.1 6.9v1.4M534.7 78.4v-1.4M534.7 6.9v1.4M418.6 67.8h1.4M544.7 67.8h-1.4M418.6 53.6h1.4M544.7 53.6h-1.4M418.6 39.5h1.4M544.7 39.5h-1.4M418.6 25.4h1.4M544.7 25.4h-1.4M418.6 11.3h1.4M544.7 11.3h-1.4M52.2 151.7v-1.4M52.2 80.5v1.4M75.2 151.7v-1.4M75.2 80.5v1.4M98.3 151.7v-1.4M98.3 80.5v1.4M121.3 151.7v-1.4M121.3 80.5v1.4M144.3 151.7v-1.4M144.3 80.5v1.4M29.5 96.2h1.4M155.6 96.2h-1.4M29.5 123.1h1.4M155.6 123.1h-1.4M29.5 150h1.4M155.6 150h-1.4M167.9 151.7v-1.4M167.9 80.5v1.4M190.4 151.7v-1.4M190.4 80.5v1.4M213 151.7v-1.4M213 80.5v1.4M235.5 151.7v-1.4M235.5 80.5v1.4M258.1 151.7v-1.4M258.1 80.5v1.4M280.6 151.7v-1.4M280.6 80.5v1.4M159 96.2h1.4M285.5 96.2h-1.4M159 123.1h1.4M285.5 123.1h-1.4M159 150h1.4M285.5 150h-1.4M295.3 151.7v-1.4M295.3 80.5v1.4M316.5 151.7v-1.4M316.5 80.5v1.4M337.7 151.7v-1.4M337.7 80.5v1.4M358.9 151.7v-1.4M358.9 80.5v1.4M380 151.7v-1.4M380 80.5v1.4M401.2 151.7v-1.4M401.2 80.5v1.4M288.7 96.2h1.4M415.6 96.2h-1.4M288.7 123.1h1.4M415.6 123.1h-1.4M288.7 150h1.4M415.6 150h-1.4M424.4 151.7v-1.4M424.4 80.5v1.4M452 151.7v-1.4M452 80.5v1.4M479.5 151.7v-1.4M479.5 80.5v1.4M507.1 151.7v-1.4M507.1 80.5v1.4M534.7 151.7v-1.4M534.7 80.5v1.4M418.6 96.2h1.4M544.7 96.2h-1.4M418.6 123.1h1.4M544.7 123.1h-1.4M418.6 150h1.4M544.7 150h-1.4M52.2 224.8v-1.4M52.2 153.5v1.4M75.2 224.8v-1.4M75.2 153.5v1.4M98.3 224.8v-1.4M98.3 153.5v1.4M121.3 224.8v-1.4M121.3 153.5v1.4M144.3 224.8v-1.4M144.3 153.5v1.4M29.5 209.9h1.4M155.6 209.9h-1.4M29.5 184.5h1.4M155.6 184.5h-1.4M29.5 159.1h1.4M155.6 159.1h-1.4M167.9 224.8v-1.4M167.9 153.5v1.4M190.4 224.8v-1.4M190.4 153.5v1.4M213 224.8v-1.4M213 153.5v1.4M235.5 224.8v-1.4M235.5 153.5v1.4M258.1 224.8v-1.4M258.1 153.5v1.4M280.6 224.8v-1.4M280.6 153.5v1.4M159 209.9h1.4M285.5 209.9h-1.4M159 184.5h1.4M285.5 184.5h-1.4M159 159.1h1.4M285.5 159.1h-1.4M295.3 224.8v-1.4M295.3 153.5v1.4M316.5 224.8v-1.4M316.5 153.5v1.4M337.7 224.8v-1.4M337.7 153.5v1.4M358.9 224.8v-1.4M358.9 153.5v1.4M380 224.8v-1.4M380 153.5v1.4M401.2 224.8v-1.4M401.2 153.5v1.4M288.7 209.9h1.4M415.6 209.9h-1.4M288.7 184.5h1.4M415.6 184.5h-1.4M288.7 159.1h1.4M415.6 159.1h-1.4M424.4 224.8v-1.4M424.4 153.5v1.4M452 224.8v-1.4M452 153.5v1.4M479.5 224.8v-1.4M479.5 153.5v1.4M507.1 224.8v-1.4M507.1 153.5v1.4M534.7 224.8v-1.4M534.7 153.5v1.4M418.6 209.9h1.4M544.7 209.9h-1.4M418.6 184.5h1.4M544.7 184.5h-1.4M418.6 159.1h1.4M544.7 159.1h-1.4M52.2 298.5v-1.4M52.2 227.2v1.4M75.2 298.5v-1.4M75.2 227.2v1.4M98.3 298.5v-1.4M98.3 227.2v1.4M121.3 298.5v-1.4M121.3 227.2v1.4M144.3 298.5v-1.4M144.3 227.2v1.4M29.5 296.3h1.4M155.6 296.3h-1.4M29.5 279.7h1.4M155.6 279.7h-1.4M29.5 263.2h1.4M155.6 263.2h-1.4M29.5 246.6h1.4M155.6 246.6h-1.4M29.5 230h1.4M155.6 230h-1.4M167.9 298.5v-1.4M167.9 227.2v1.4M190.4 298.5v-1.4M190.4 227.2v1.4M213 298.5v-1.4M213 227.2v1.4M235.5 298.5v-1.4M235.5 227.2v1.4M258.1 298.5v-1.4M258.1 227.2v1.4M280.6 298.5v-1.4M280.6 227.2v1.4M159 296.3h1.4M285.5 296.3h-1.4M159 279.7h1.4M285.5 279.7h-1.4M159 263.2h1.4M285.5 263.2h-1.4M159 246.6h1.4M285.5 246.6h-1.4M159 230h1.4M285.5 230h-1.4M295.3 298.5v-1.4M295.3 227.2v1.4M316.5 298.5v-1.4M316.5 227.2v1.4M337.7 298.5v-1.4M337.7 227.2v1.4M358.9 298.5v-1.4M358.9 227.2v1.4M380 298.5v-1.4M380 227.2v1.4M401.2 298.5v-1.4M401.2 227.2v1.4M288.7 296.3h1.4M415.6 296.3h-1.4M288.7 279.7h1.4M415.6 279.7h-1.4M288.7 263.2h1.4M415.6 263.2h-1.4M288.7 246.6h1.4M415.6 246.6h-1.4M288.7 230h1.4M415.6 230h-1.4M424.4 298.5v-1.4M424.4 227.2v1.4M452 298.5v-1.4M452 227.2v1.4M479.5 298.5v-1.4M479.5 227.2v1.4M507.1 298.5v-1.4M507.1 227.2v1.4M534.7 298.5v-1.4M534.7 227.2v1.4M418.6 296.3h1.4M544.7 296.3h-1.4M418.6 279.7h1.4M544.7 279.7h-1.4M418.6 263.2h1.4M544.7 263.2h-1.4M418.6 246.6h1.4M544.7 246.6h-1.4M418.6 230h1.4M544.7 230h-1.4" stroke="#333" stroke-width="0.7" fill="none"/>
<rect x="29.5" y="6.9" width="126.1" height="71.5" fill="none" stroke="#7c7c7c" stroke-width="0.95"/>
<rect x="159" y="6.9" width="126.5" height="71.5" fill="none" stroke="#7c7c7c" stroke-width="0.95"/>
<rect x="288.7" y="6.9" width="126.9" height="71.5" fill="none" stroke="#7c7c7c" stroke-width="0.95"/>
<rect x="418.6" y="6.9" width="126.1" height="71.5" fill="none" stroke="#7c7c7c" stroke-width="0.95"/>
<rect x="29.5" y="80.5" width="126.1" height="71.2" fill="none" stroke="#7c7c7c" stroke-width="0.95"/>
<rect x="159" y="80.5" width="126.5" height="71.2" fill="none" stroke="#7c7c7c" stroke-width="0.95"/>
<rect x="288.7" y="80.5" width="126.9" height="71.2" fill="none" stroke="#7c7c7c" stroke-width="0.95"/>
<rect x="418.6" y="80.5" width="126.1" height="71.2" fill="none" stroke="#7c7c7c" stroke-width="0.95"/>
<rect x="29.5" y="153.5" width="126.1" height="71.3" fill="none" stroke="#7c7c7c" stroke-width="0.95"/>
<rect x="159" y="153.5" width="126.5" height="71.3" fill="none" stroke="#7c7c7c" stroke-width="0.95"/>
<rect x="288.7" y="153.5" width="126.9" height="71.3" fill="none" stroke="#7c7c7c" stroke-width="0.95"/>
<rect x="418.6" y="153.5" width="126.1" height="71.3" fill="none" stroke="#7c7c7c" stroke-width="0.95"/>
<rect x="29.5" y="227.2" width="126.1" height="71.3" fill="none" stroke="#7c7c7c" stroke-width="0.95"/>
<rect x="159" y="227.2" width="126.5" height="71.3" fill="none" stroke="#7c7c7c" stroke-width="0.95"/>
<rect x="288.7" y="227.2" width="126.9" height="71.3" fill="none" stroke="#7c7c7c" stroke-width="0.95"/>
<rect x="418.6" y="227.2" width="126.1" height="71.3" fill="none" stroke="#7c7c7c" stroke-width="0.95"/>
<g font-family="'Liberation Sans', Arial, Helvetica, sans-serif" font-size="6.4" fill="#262626">
<text x="29.2" y="307.6" text-anchor="middle">64</text>
<text x="52.2" y="307.6" text-anchor="middle">66</text>
<text x="75.2" y="307.6" text-anchor="middle">68</text>
<text x="98.3" y="307.6" text-anchor="middle">70</text>
<text x="121.3" y="307.6" text-anchor="middle">72</text>
<text x="144.3" y="307.6" text-anchor="middle">74</text>
<text x="167.9" y="307.6" text-anchor="middle">-2</text>
<text x="190.4" y="307.6" text-anchor="middle">-1.5</text>
<text x="213" y="307.6" text-anchor="middle">-1</text>
<text x="235.5" y="307.6" text-anchor="middle">-0.5</text>
<text x="258.1" y="307.6" text-anchor="middle">0</text>
<text x="280.6" y="307.6" text-anchor="middle">0.5</text>
<text x="295.3" y="307.6" text-anchor="middle">-1</text>
<text x="316.5" y="307.6" text-anchor="middle">0</text>
<text x="337.7" y="307.6" text-anchor="middle">1</text>
<text x="358.9" y="307.6" text-anchor="middle">2</text>
<text x="380" y="307.6" text-anchor="middle">3</text>
<text x="401.2" y="307.6" text-anchor="middle">4</text>
<text x="424.4" y="307.6" text-anchor="middle">0</text>
<text x="452" y="307.6" text-anchor="middle">0.5</text>
<text x="479.5" y="307.6" text-anchor="middle">1</text>
<text x="507.1" y="307.6" text-anchor="middle">1.5</text>
<text x="534.7" y="307.6" text-anchor="middle">2</text>
<text x="27.5" y="70.1" text-anchor="end">66</text>
<text x="27.5" y="56" text-anchor="end">68</text>
<text x="27.5" y="41.9" text-anchor="end">70</text>
<text x="27.5" y="27.8" text-anchor="end">72</text>
<text x="27.5" y="13.7" text-anchor="end">74</text>
<text x="27.5" y="98.5" text-anchor="end">0</text>
<text x="27.5" y="125.4" text-anchor="end">-1</text>
<text x="27.5" y="152.3" text-anchor="end">-2</text>
<text x="27.5" y="212.2" text-anchor="end">0</text>
<text x="27.5" y="186.8" text-anchor="end">2</text>
<text x="27.5" y="161.5" text-anchor="end">4</text>
<text x="27.5" y="298.7" text-anchor="end">0</text>
<text x="27.5" y="282.1" text-anchor="end">0.5</text>
<text x="27.5" y="265.5" text-anchor="end">1</text>
<text x="27.5" y="248.9" text-anchor="end">1.5</text>
<text x="27.5" y="232.3" text-anchor="end">2</text>
</g>
<g font-family="'Liberation Sans', Arial, Helvetica, sans-serif" font-size="6.8" fill="#262626" text-anchor="middle">
<text x="92.5" y="316">Degree of lightness (L*)</text>
<text x="222.2" y="316">Relative to the green-red (a*)</text>
<text x="352.1" y="316">Relative to the blue-yellow (b*)</text>
<text x="481.7" y="316">Cotton lint impurity (%)</text>
<text transform="translate(9.1 42.7) rotate(-90)">Degree of</text>
<text transform="translate(17.2 42.7) rotate(-90)">lightness (L*)</text>
<text transform="translate(10 116.1) rotate(-90)">Relative to the</text>
<text transform="translate(18.5 116.1) rotate(-90)">green-red (a*)</text>
<text transform="translate(12.6 189.2) rotate(-90)">Relative to the</text>
<text transform="translate(20.6 189.2) rotate(-90)">blue-yellow (b*)</text>
<text transform="translate(16.3 262.9) rotate(-90)">Cotton lint impurity (%)</text>
</g>
<g fill="none" stroke-width="1.1">
<circle cx="183.6" cy="329" r="1.4" fill="#111" stroke="none"/>
<path d="M213.4 325.6v7M210.2 329h6.4" stroke="#F7A11A"/>
<path d="M242.3 326.8l4.4 4.4M246.7 326.8l-4.4 4.4" stroke="#3DB6EE"/>
<rect x="274.4" y="326.3" width="5.4" height="5.4" stroke="#19AA8D" stroke-width="1.2"/>
<path d="M311 325.2l2.9 3.8l-2.9 3.8l-2.9-3.8z" stroke="#F0E250" stroke-width="1.1"/>
<path d="M342.9 325.3l3.7 5.3h-7.4z" stroke="#1E8CD2" stroke-width="1.2" stroke-linejoin="round"/>
<path d="M374.6 328.7h4.4M375.7 326.8l2.2 3.8M377.9 326.8l-2.2 3.8" stroke="#F55F0A" stroke-width="1.2"/>
</g>
<g font-family="'Liberation Sans', Arial, Helvetica, sans-serif" font-size="6.2" fill="#333" text-anchor="middle">
<text x="197" y="331.2">I</text>
<text x="227.3" y="331.2">II</text>
<text x="259" y="331.2">III</text>
<text x="292.2" y="331.2">IV</text>
<text x="325" y="331.2">V</text>
<text x="358" y="331.2">VI</text>
<text x="392.8" y="331.2">VII</text>
</g>
</svg></body></html>
